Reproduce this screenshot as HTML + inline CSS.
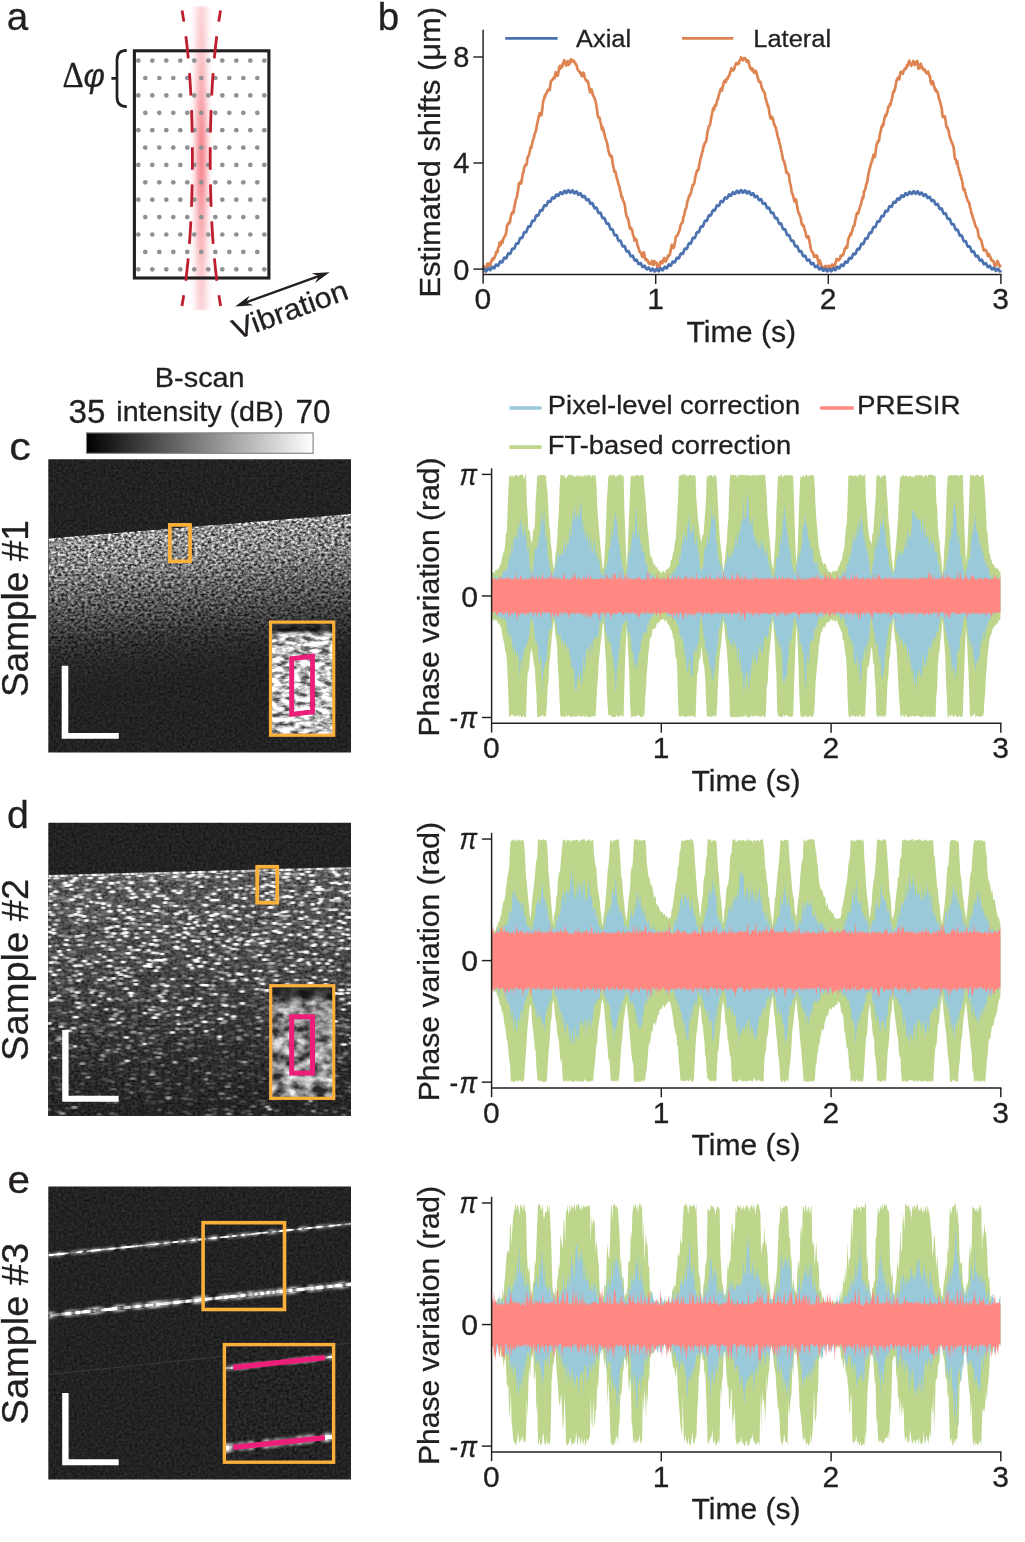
<!DOCTYPE html>
<html><head><meta charset="utf-8"><title>Figure</title>
<style>html,body{margin:0;padding:0;background:#fff}svg{display:block}text{stroke:#231f20;stroke-width:.3px}</style></head>
<body>
<svg width="1025" height="1542" viewBox="0 0 1025 1542" font-family='"Liberation Sans", Arial, Helvetica, sans-serif' fill="#231f20">
<defs>
<linearGradient id="beamH" x1="0" x2="1" y1="0" y2="0">
<stop offset="0" stop-color="#f4808a" stop-opacity="0"/>
<stop offset="0.12" stop-color="#f4808a" stop-opacity="0.1"/>
<stop offset="0.26" stop-color="#f4808a" stop-opacity="0.42"/>
<stop offset="0.38" stop-color="#f4808a" stop-opacity="0.78"/>
<stop offset="0.5" stop-color="#f4808a" stop-opacity="0.95"/>
<stop offset="0.62" stop-color="#f4808a" stop-opacity="0.78"/>
<stop offset="0.74" stop-color="#f4808a" stop-opacity="0.42"/>
<stop offset="0.88" stop-color="#f4808a" stop-opacity="0.1"/>
<stop offset="1" stop-color="#f4808a" stop-opacity="0"/>
</linearGradient>
<linearGradient id="beamV" x1="0" x2="0" y1="0" y2="1">
<stop offset="0" stop-color="#fff" stop-opacity="0"/>
<stop offset="0.008" stop-color="#fff" stop-opacity="0.36"/>
<stop offset="0.15" stop-color="#fff" stop-opacity="0.48"/>
<stop offset="0.3" stop-color="#fff" stop-opacity="0.72"/>
<stop offset="0.42" stop-color="#fff" stop-opacity="0.95"/>
<stop offset="0.5" stop-color="#fff" stop-opacity="1"/>
<stop offset="0.58" stop-color="#fff" stop-opacity="0.95"/>
<stop offset="0.7" stop-color="#fff" stop-opacity="0.72"/>
<stop offset="0.85" stop-color="#fff" stop-opacity="0.48"/>
<stop offset="0.992" stop-color="#fff" stop-opacity="0.36"/>
<stop offset="1" stop-color="#fff" stop-opacity="0"/>
</linearGradient>
<mask id="beamM" maskUnits="userSpaceOnUse" x="185" y="0" width="34" height="320"><rect x="185" y="5.2" width="34" height="306" fill="url(#beamV)"/></mask>
<linearGradient id="cbar" x1="0" x2="1" y1="0" y2="0"><stop offset="0" stop-color="#000"/><stop offset="1" stop-color="#fff"/></linearGradient>
</defs>
<rect width="1025" height="1542" fill="#fff"/>

<text x="6.8" y="30.3" font-size="38.5" text-anchor="start">a</text>
<rect x="189.3" y="5.2" width="24" height="306" fill="url(#beamH)" mask="url(#beamM)"/>
<g fill="#8f9194"><circle cx="138.3" cy="60.6" r="2.35"/><circle cx="152.3" cy="60.6" r="2.35"/><circle cx="166.3" cy="60.6" r="2.35"/><circle cx="180.3" cy="60.6" r="2.35"/><circle cx="194.3" cy="60.6" r="2.35"/><circle cx="208.3" cy="60.6" r="2.35"/><circle cx="222.3" cy="60.6" r="2.35"/><circle cx="236.3" cy="60.6" r="2.35"/><circle cx="250.3" cy="60.6" r="2.35"/><circle cx="264.3" cy="60.6" r="2.35"/><circle cx="145.3" cy="78.0" r="2.35"/><circle cx="159.3" cy="78.0" r="2.35"/><circle cx="173.3" cy="78.0" r="2.35"/><circle cx="187.3" cy="78.0" r="2.35"/><circle cx="201.3" cy="78.0" r="2.35"/><circle cx="215.3" cy="78.0" r="2.35"/><circle cx="229.3" cy="78.0" r="2.35"/><circle cx="243.3" cy="78.0" r="2.35"/><circle cx="257.3" cy="78.0" r="2.35"/><circle cx="138.3" cy="95.4" r="2.35"/><circle cx="152.3" cy="95.4" r="2.35"/><circle cx="166.3" cy="95.4" r="2.35"/><circle cx="180.3" cy="95.4" r="2.35"/><circle cx="194.3" cy="95.4" r="2.35"/><circle cx="208.3" cy="95.4" r="2.35"/><circle cx="222.3" cy="95.4" r="2.35"/><circle cx="236.3" cy="95.4" r="2.35"/><circle cx="250.3" cy="95.4" r="2.35"/><circle cx="264.3" cy="95.4" r="2.35"/><circle cx="145.3" cy="112.8" r="2.35"/><circle cx="159.3" cy="112.8" r="2.35"/><circle cx="173.3" cy="112.8" r="2.35"/><circle cx="187.3" cy="112.8" r="2.35"/><circle cx="201.3" cy="112.8" r="2.35"/><circle cx="215.3" cy="112.8" r="2.35"/><circle cx="229.3" cy="112.8" r="2.35"/><circle cx="243.3" cy="112.8" r="2.35"/><circle cx="257.3" cy="112.8" r="2.35"/><circle cx="138.3" cy="130.2" r="2.35"/><circle cx="152.3" cy="130.2" r="2.35"/><circle cx="166.3" cy="130.2" r="2.35"/><circle cx="180.3" cy="130.2" r="2.35"/><circle cx="194.3" cy="130.2" r="2.35"/><circle cx="208.3" cy="130.2" r="2.35"/><circle cx="222.3" cy="130.2" r="2.35"/><circle cx="236.3" cy="130.2" r="2.35"/><circle cx="250.3" cy="130.2" r="2.35"/><circle cx="264.3" cy="130.2" r="2.35"/><circle cx="145.3" cy="147.6" r="2.35"/><circle cx="159.3" cy="147.6" r="2.35"/><circle cx="173.3" cy="147.6" r="2.35"/><circle cx="187.3" cy="147.6" r="2.35"/><circle cx="201.3" cy="147.6" r="2.35"/><circle cx="215.3" cy="147.6" r="2.35"/><circle cx="229.3" cy="147.6" r="2.35"/><circle cx="243.3" cy="147.6" r="2.35"/><circle cx="257.3" cy="147.6" r="2.35"/><circle cx="138.3" cy="164.9" r="2.35"/><circle cx="152.3" cy="164.9" r="2.35"/><circle cx="166.3" cy="164.9" r="2.35"/><circle cx="180.3" cy="164.9" r="2.35"/><circle cx="194.3" cy="164.9" r="2.35"/><circle cx="208.3" cy="164.9" r="2.35"/><circle cx="222.3" cy="164.9" r="2.35"/><circle cx="236.3" cy="164.9" r="2.35"/><circle cx="250.3" cy="164.9" r="2.35"/><circle cx="264.3" cy="164.9" r="2.35"/><circle cx="145.3" cy="182.3" r="2.35"/><circle cx="159.3" cy="182.3" r="2.35"/><circle cx="173.3" cy="182.3" r="2.35"/><circle cx="187.3" cy="182.3" r="2.35"/><circle cx="201.3" cy="182.3" r="2.35"/><circle cx="215.3" cy="182.3" r="2.35"/><circle cx="229.3" cy="182.3" r="2.35"/><circle cx="243.3" cy="182.3" r="2.35"/><circle cx="257.3" cy="182.3" r="2.35"/><circle cx="138.3" cy="199.7" r="2.35"/><circle cx="152.3" cy="199.7" r="2.35"/><circle cx="166.3" cy="199.7" r="2.35"/><circle cx="180.3" cy="199.7" r="2.35"/><circle cx="194.3" cy="199.7" r="2.35"/><circle cx="208.3" cy="199.7" r="2.35"/><circle cx="222.3" cy="199.7" r="2.35"/><circle cx="236.3" cy="199.7" r="2.35"/><circle cx="250.3" cy="199.7" r="2.35"/><circle cx="264.3" cy="199.7" r="2.35"/><circle cx="145.3" cy="217.1" r="2.35"/><circle cx="159.3" cy="217.1" r="2.35"/><circle cx="173.3" cy="217.1" r="2.35"/><circle cx="187.3" cy="217.1" r="2.35"/><circle cx="201.3" cy="217.1" r="2.35"/><circle cx="215.3" cy="217.1" r="2.35"/><circle cx="229.3" cy="217.1" r="2.35"/><circle cx="243.3" cy="217.1" r="2.35"/><circle cx="257.3" cy="217.1" r="2.35"/><circle cx="138.3" cy="234.5" r="2.35"/><circle cx="152.3" cy="234.5" r="2.35"/><circle cx="166.3" cy="234.5" r="2.35"/><circle cx="180.3" cy="234.5" r="2.35"/><circle cx="194.3" cy="234.5" r="2.35"/><circle cx="208.3" cy="234.5" r="2.35"/><circle cx="222.3" cy="234.5" r="2.35"/><circle cx="236.3" cy="234.5" r="2.35"/><circle cx="250.3" cy="234.5" r="2.35"/><circle cx="264.3" cy="234.5" r="2.35"/><circle cx="145.3" cy="251.9" r="2.35"/><circle cx="159.3" cy="251.9" r="2.35"/><circle cx="173.3" cy="251.9" r="2.35"/><circle cx="187.3" cy="251.9" r="2.35"/><circle cx="201.3" cy="251.9" r="2.35"/><circle cx="215.3" cy="251.9" r="2.35"/><circle cx="229.3" cy="251.9" r="2.35"/><circle cx="243.3" cy="251.9" r="2.35"/><circle cx="257.3" cy="251.9" r="2.35"/><circle cx="138.3" cy="269.3" r="2.35"/><circle cx="152.3" cy="269.3" r="2.35"/><circle cx="166.3" cy="269.3" r="2.35"/><circle cx="180.3" cy="269.3" r="2.35"/><circle cx="194.3" cy="269.3" r="2.35"/><circle cx="208.3" cy="269.3" r="2.35"/><circle cx="222.3" cy="269.3" r="2.35"/><circle cx="236.3" cy="269.3" r="2.35"/><circle cx="250.3" cy="269.3" r="2.35"/><circle cx="264.3" cy="269.3" r="2.35"/></g>
<rect x="134.4" y="50.8" width="134.5" height="227.2" fill="none" stroke="#231f20" stroke-width="3.1"/>
<path d="M182.03,10.40 L182.66,14.10 L183.25,17.79 L183.83,21.48 L184.37,25.18 L184.89,28.88 L185.39,32.57 L185.86,36.27 L186.32,39.96 L186.75,43.66 L187.16,47.35 L187.55,51.05 L187.92,54.74 L188.27,58.44 L188.60,62.13 L188.92,65.83 L189.22,69.52 L189.50,73.22 L189.77,76.91 L190.02,80.61 L190.26,84.30 L190.48,88.00 L190.69,91.69 L190.88,95.39 L191.06,99.08 L191.23,102.78 L191.39,106.47 L191.53,110.17 L191.67,113.86 L191.79,117.56 L191.89,121.25 L191.99,124.95 L192.08,128.64 L192.16,132.34 L192.22,136.03 L192.28,139.72 L192.32,143.42 L192.36,147.12 L192.38,150.81 L192.40,154.51 L192.40,158.20 L192.39,161.90 L192.38,165.59 L192.35,169.29 L192.32,172.98 L192.27,176.68 L192.21,180.37 L192.15,184.07 L192.07,187.76 L191.98,191.46 L191.88,195.15 L191.77,198.84 L191.65,202.54 L191.52,206.24 L191.37,209.93 L191.22,213.63 L191.05,217.32 L190.86,221.02 L190.67,224.71 L190.46,228.41 L190.23,232.10 L189.99,235.80 L189.74,239.49 L189.47,243.19 L189.19,246.88 L188.89,250.58 L188.57,254.27 L188.23,257.96 L187.88,261.66 L187.51,265.36 L187.11,269.05 L186.70,272.75 L186.27,276.44 L185.81,280.13 L185.34,283.83 L184.84,287.52 L184.31,291.22 L183.76,294.91 L183.19,298.61 L182.59,302.31 L181.97,306.00" fill="none" stroke="#be1e2d" stroke-width="2.8" stroke-dasharray="22.4 14.7" stroke-dashoffset="11.0"/>
<path d="M220.57,10.40 L219.94,14.10 L219.35,17.79 L218.77,21.48 L218.23,25.18 L217.71,28.88 L217.21,32.57 L216.74,36.27 L216.28,39.96 L215.85,43.66 L215.44,47.35 L215.05,51.05 L214.68,54.74 L214.33,58.44 L214.00,62.13 L213.68,65.83 L213.38,69.52 L213.10,73.22 L212.83,76.91 L212.58,80.61 L212.34,84.30 L212.12,88.00 L211.91,91.69 L211.72,95.39 L211.54,99.08 L211.37,102.78 L211.21,106.47 L211.07,110.17 L210.93,113.86 L210.81,117.56 L210.71,121.25 L210.61,124.95 L210.52,128.64 L210.44,132.34 L210.38,136.03 L210.32,139.72 L210.28,143.42 L210.24,147.12 L210.22,150.81 L210.20,154.51 L210.20,158.20 L210.21,161.90 L210.22,165.59 L210.25,169.29 L210.28,172.98 L210.33,176.68 L210.39,180.37 L210.45,184.07 L210.53,187.76 L210.62,191.46 L210.72,195.15 L210.83,198.84 L210.95,202.54 L211.08,206.24 L211.23,209.93 L211.38,213.63 L211.55,217.32 L211.74,221.02 L211.93,224.71 L212.14,228.41 L212.37,232.10 L212.61,235.80 L212.86,239.49 L213.13,243.19 L213.41,246.88 L213.71,250.58 L214.03,254.27 L214.37,257.96 L214.72,261.66 L215.09,265.36 L215.49,269.05 L215.90,272.75 L216.33,276.44 L216.79,280.13 L217.26,283.83 L217.76,287.52 L218.29,291.22 L218.84,294.91 L219.41,298.61 L220.01,302.31 L220.63,306.00" fill="none" stroke="#be1e2d" stroke-width="2.8" stroke-dasharray="22.4 14.7" stroke-dashoffset="11.0"/>
<path d="M126.8,50.4 Q117,50.4 117,60 L117,97 Q117,106.7 126.8,106.7 M117,78.3 L111.4,78.3" fill="none" stroke="#231f20" stroke-width="2.7"/>
<text transform="translate(62.6 87.0) scale(0.93 1)" font-size="35.5" font-family='"Liberation Serif", serif'>&#916;</text>
<text x="83.6" y="87.0" font-size="32.8" font-style="italic" stroke="#231f20" stroke-width="0.5">&#966;</text>
<line x1="242.62" y1="303.68" x2="322.18" y2="274.92" stroke="#231f20" stroke-width="2.3"/>
<polygon points="329.70,272.20 315.01,283.04 318.89,276.11 311.47,273.26"/>
<polygon points="235.10,306.40 249.79,295.56 245.91,302.49 253.33,305.34"/>
<text transform="translate(236.5 339.8) rotate(-20) scale(1.06 1)" font-size="29" text-anchor="start">Vibration</text>
<text x="377.7" y="30.3" font-size="38.5" text-anchor="start">b</text>
<path d="M483.1,266.2 483.6,267.0 484.1,266.3 484.6,269.6 485.1,269.8 485.6,271.9 486.1,268.8 486.6,266.9 487.1,263.8 487.6,263.8 488.1,263.5 488.6,264.4 489.1,265.7 489.6,265.1 490.1,265.5 490.6,264.1 491.1,261.4 491.6,260.4 492.1,260.6 492.6,258.3 493.1,258.8 493.6,259.4 494.1,258.2 494.6,257.2 495.0,255.9 495.5,255.1 496.0,252.2 496.5,252.6 497.0,252.7 497.5,251.6 498.0,248.3 498.5,247.4 499.0,246.7 499.5,242.7 500.0,244.6 500.5,245.2 501.0,244.4 501.5,241.3 502.0,241.6 502.5,242.7 503.0,239.5 503.5,238.4 504.0,237.8 504.5,236.7 505.0,236.0 505.5,234.7 506.0,233.6 506.5,229.8 507.0,225.9 507.5,224.5 508.0,224.4 508.5,223.2 509.0,222.5 509.5,223.1 510.0,221.9 510.5,218.2 511.0,216.0 511.5,214.5 512.0,212.9 512.5,212.3 513.0,211.7 513.5,212.9 514.0,208.5 514.5,205.8 515.0,204.3 515.5,200.8 516.0,199.0 516.5,198.3 517.0,196.5 517.5,193.0 518.0,191.2 518.4,187.5 518.9,183.3 519.4,183.4 519.9,183.1 520.4,181.8 520.9,183.5 521.4,182.7 521.9,179.2 522.4,175.7 522.9,172.6 523.4,172.9 523.9,168.4 524.4,167.2 524.9,166.0 525.4,164.9 525.9,165.5 526.4,164.7 526.9,163.0 527.4,157.7 527.9,157.0 528.4,156.0 528.9,155.3 529.4,153.2 529.9,150.8 530.4,148.0 530.9,146.7 531.4,147.7 531.9,144.8 532.4,142.7 532.9,140.0 533.4,139.0 533.9,137.8 534.4,134.6 534.9,133.6 535.4,131.9 535.9,130.7 536.4,128.6 536.9,125.0 537.4,123.2 537.9,120.5 538.4,118.3 538.9,115.8 539.4,114.3 539.9,113.1 540.4,115.1 540.9,115.4 541.4,115.4 541.9,112.2 542.3,108.7 542.8,104.6 543.3,100.6 543.8,99.8 544.3,97.9 544.8,95.7 545.3,95.9 545.8,94.0 546.3,93.0 546.8,93.1 547.3,90.9 547.8,90.5 548.3,89.5 548.8,89.7 549.3,88.7 549.8,90.2 550.3,85.4 550.8,81.8 551.3,80.5 551.8,80.4 552.3,79.8 552.8,78.9 553.3,78.4 553.8,77.3 554.3,78.4 554.8,77.5 555.3,73.7 555.8,72.2 556.3,73.6 556.8,74.4 557.3,75.7 557.8,75.7 558.3,72.3 558.8,70.5 559.3,67.2 559.8,66.0 560.3,67.6 560.8,68.4 561.3,65.6 561.8,66.6 562.3,66.9 562.8,63.8 563.3,62.4 563.8,61.7 564.3,60.1 564.8,63.2 565.3,63.2 565.7,64.6 566.2,65.5 566.7,64.8 567.2,61.7 567.7,61.1 568.2,63.4 568.7,64.9 569.2,63.3 569.7,62.3 570.2,63.3 570.7,59.4 571.2,59.4 571.7,60.8 572.2,61.3 572.7,61.2 573.2,60.6 573.7,60.6 574.2,61.8 574.7,62.3 575.2,63.7 575.7,63.5 576.2,64.7 576.7,65.5 577.2,68.3 577.7,69.5 578.2,70.4 578.7,71.0 579.2,71.3 579.7,71.8 580.2,73.2 580.7,73.0 581.2,73.9 581.7,76.3 582.2,75.6 582.7,74.8 583.2,72.6 583.7,73.3 584.2,74.7 584.7,77.3 585.2,78.9 585.7,79.8 586.2,80.5 586.7,81.2 587.2,80.6 587.7,81.1 588.2,82.2 588.7,85.5 589.1,87.3 589.6,90.4 590.1,92.3 590.6,92.2 591.1,89.7 591.6,89.5 592.1,91.3 592.6,94.0 593.1,95.5 593.6,96.4 594.1,97.0 594.6,98.8 595.1,99.7 595.6,101.4 596.1,103.7 596.6,107.2 597.1,110.0 597.6,114.8 598.1,117.2 598.6,116.9 599.1,118.1 599.6,117.7 600.1,120.6 600.6,122.8 601.1,124.4 601.6,127.7 602.1,129.8 602.6,127.3 603.1,129.0 603.6,130.7 604.1,132.9 604.6,134.9 605.1,137.5 605.6,138.7 606.1,139.7 606.6,141.6 607.1,143.0 607.6,145.7 608.1,148.8 608.6,151.5 609.1,152.8 609.6,155.0 610.1,155.7 610.6,155.8 611.1,157.1 611.6,155.7 612.1,158.6 612.5,162.2 613.0,165.7 613.5,167.0 614.0,169.5 614.5,171.9 615.0,172.2 615.5,171.9 616.0,174.0 616.5,176.9 617.0,178.6 617.5,180.5 618.0,181.9 618.5,184.8 619.0,185.6 619.5,186.4 620.0,190.5 620.5,191.2 621.0,194.0 621.5,197.2 622.0,196.6 622.5,198.2 623.0,200.4 623.5,201.5 624.0,202.4 624.5,203.8 625.0,206.9 625.5,210.8 626.0,213.7 626.5,215.7 627.0,217.3 627.5,217.5 628.0,219.0 628.5,220.4 629.0,223.5 629.5,226.6 630.0,228.1 630.5,229.1 631.0,227.8 631.5,229.2 632.0,229.7 632.5,231.3 633.0,235.0 633.5,236.0 634.0,237.4 634.5,240.7 635.0,239.8 635.5,238.7 636.0,240.4 636.4,239.7 636.9,241.8 637.4,245.5 637.9,246.3 638.4,247.6 638.9,249.4 639.4,251.6 639.9,251.1 640.4,252.6 640.9,253.1 641.4,254.2 641.9,256.0 642.4,257.0 642.9,254.5 643.4,252.5 643.9,252.4 644.4,254.4 644.9,257.5 645.4,259.7 645.9,258.9 646.4,259.2 646.9,259.7 647.4,261.0 647.9,260.7 648.4,262.4 648.9,263.4 649.4,263.8 649.9,263.5 650.4,263.9 650.9,264.1 651.4,263.2 651.9,260.9 652.4,261.4 652.9,264.6 653.4,264.0 653.9,264.9 654.4,261.2 654.9,262.2 655.4,262.2 655.9,262.5 656.4,262.5 656.9,264.3 657.4,267.2 657.9,269.9 658.4,269.2 658.9,268.3 659.4,267.3 659.8,263.2 660.3,262.1 660.8,261.4 661.3,263.1 661.8,263.3 662.3,263.4 662.8,262.6 663.3,260.3 663.8,258.6 664.3,258.0 664.8,258.3 665.3,260.7 665.8,261.5 666.3,260.2 666.8,259.1 667.3,258.1 667.8,255.8 668.3,255.9 668.8,256.1 669.3,254.8 669.8,254.9 670.3,252.2 670.8,250.2 671.3,247.5 671.8,244.8 672.3,246.8 672.8,246.4 673.3,247.8 673.8,247.7 674.3,246.4 674.8,242.8 675.3,240.7 675.8,236.7 676.3,236.3 676.8,235.9 677.3,235.6 677.8,234.2 678.3,233.4 678.8,232.4 679.3,230.5 679.8,229.9 680.3,226.4 680.8,224.6 681.3,223.8 681.8,223.1 682.3,222.8 682.8,221.3 683.2,217.8 683.7,216.4 684.2,215.4 684.7,212.2 685.2,209.9 685.7,209.4 686.2,207.8 686.7,206.0 687.2,202.1 687.7,200.8 688.2,199.1 688.7,197.6 689.2,195.6 689.7,195.7 690.2,194.5 690.7,193.3 691.2,191.6 691.7,189.7 692.2,187.4 692.7,184.8 693.2,184.9 693.7,184.7 694.2,183.6 694.7,180.7 695.2,177.0 695.7,175.8 696.2,172.9 696.7,172.5 697.2,170.4 697.7,170.5 698.2,170.1 698.7,168.2 699.2,165.0 699.7,162.9 700.2,159.8 700.7,157.6 701.2,156.3 701.7,154.8 702.2,152.3 702.7,151.1 703.2,148.3 703.7,145.5 704.2,145.6 704.7,143.0 705.2,142.7 705.7,142.3 706.2,141.0 706.7,138.3 707.1,134.9 707.6,131.3 708.1,129.8 708.6,127.2 709.1,125.9 709.6,125.7 710.1,124.5 710.6,121.6 711.1,118.8 711.6,115.6 712.1,113.6 712.6,111.1 713.1,108.2 713.6,108.0 714.1,109.7 714.6,106.3 715.1,105.3 715.6,104.8 716.1,105.4 716.6,103.0 717.1,100.7 717.6,99.0 718.1,98.9 718.6,95.8 719.1,94.1 719.6,92.7 720.1,90.8 720.6,89.4 721.1,89.0 721.6,88.3 722.1,90.5 722.6,87.0 723.1,85.8 723.6,82.8 724.1,82.1 724.6,80.7 725.1,80.5 725.6,82.2 726.1,81.0 726.6,79.0 727.1,78.5 727.6,78.7 728.1,77.1 728.6,76.5 729.1,75.4 729.6,75.0 730.1,72.6 730.5,71.1 731.0,70.1 731.5,68.2 732.0,70.3 732.5,70.0 733.0,70.4 733.5,70.2 734.0,69.4 734.5,68.3 735.0,65.8 735.5,65.1 736.0,63.4 736.5,63.0 737.0,63.1 737.5,63.4 738.0,64.2 738.5,63.8 739.0,63.1 739.5,60.7 740.0,60.1 740.5,59.6 741.0,57.3 741.5,58.3 742.0,59.3 742.5,58.9 743.0,60.4 743.5,59.1 744.0,58.0 744.5,58.0 745.0,58.2 745.5,59.2 746.0,59.6 746.5,61.7 747.0,61.6 747.5,62.1 748.0,60.5 748.5,61.0 749.0,63.9 749.5,65.3 750.0,67.9 750.5,67.5 751.0,68.0 751.5,70.2 752.0,69.9 752.5,68.6 753.0,69.2 753.5,71.6 753.9,72.3 754.4,72.7 754.9,71.5 755.4,70.8 755.9,71.0 756.4,73.0 756.9,74.3 757.4,76.1 757.9,78.3 758.4,79.4 758.9,81.7 759.4,81.2 759.9,81.4 760.4,81.8 760.9,83.6 761.4,86.2 761.9,88.0 762.4,88.8 762.9,90.4 763.4,90.5 763.9,91.9 764.4,92.3 764.9,94.0 765.4,97.8 765.9,98.6 766.4,101.5 766.9,102.4 767.4,104.4 767.9,106.6 768.4,106.1 768.9,109.1 769.4,113.3 769.9,115.1 770.4,118.1 770.9,118.6 771.4,116.4 771.9,117.2 772.4,117.6 772.9,118.7 773.4,120.9 773.9,123.8 774.4,124.3 774.9,126.2 775.4,127.0 775.9,127.9 776.4,130.8 776.9,132.3 777.3,134.9 777.8,136.9 778.3,138.7 778.8,138.8 779.3,142.5 779.8,144.0 780.3,145.7 780.8,148.5 781.3,150.3 781.8,153.0 782.3,155.2 782.8,158.7 783.3,160.4 783.8,160.7 784.3,162.0 784.8,164.1 785.3,166.3 785.8,169.0 786.3,172.4 786.8,171.6 787.3,173.4 787.8,173.3 788.3,173.7 788.8,174.6 789.3,178.1 789.8,182.2 790.3,184.1 790.8,185.6 791.3,189.5 791.8,192.8 792.3,193.5 792.8,194.8 793.3,196.7 793.8,198.3 794.3,201.4 794.8,199.5 795.3,199.7 795.8,199.2 796.3,200.4 796.8,204.9 797.3,206.9 797.8,210.2 798.3,212.0 798.8,213.8 799.3,214.0 799.8,215.7 800.3,216.8 800.8,218.1 801.2,221.0 801.7,223.8 802.2,225.1 802.7,224.4 803.2,225.8 803.7,225.6 804.2,227.9 804.7,229.7 805.2,231.2 805.7,232.9 806.2,236.4 806.7,237.1 807.2,237.7 807.7,236.5 808.2,236.2 808.7,237.1 809.2,239.9 809.7,242.0 810.2,245.4 810.7,247.7 811.2,250.2 811.7,251.3 812.2,252.2 812.7,252.2 813.2,252.9 813.7,255.8 814.2,256.9 814.7,257.0 815.2,255.9 815.7,255.8 816.2,255.3 816.7,256.2 817.2,256.2 817.7,259.8 818.2,260.9 818.7,264.3 819.2,261.9 819.7,260.3 820.2,262.5 820.7,262.9 821.2,265.0 821.7,267.8 822.2,268.6 822.7,269.5 823.2,267.4 823.7,267.0 824.2,267.1 824.6,266.4 825.1,266.0 825.6,265.9 826.1,266.3 826.6,268.6 827.1,269.0 827.6,267.9 828.1,267.6 828.6,265.8 829.1,266.2 829.6,266.9 830.1,268.0 830.6,268.0 831.1,269.0 831.6,265.0 832.1,264.5 832.6,264.5 833.1,266.3 833.6,266.4 834.1,268.1 834.6,267.1 835.1,264.5 835.6,262.4 836.1,261.5 836.6,258.9 837.1,259.0 837.6,259.5 838.1,259.9 838.6,260.4 839.1,259.0 839.6,258.9 840.1,259.0 840.6,255.7 841.1,255.8 841.6,255.8 842.1,255.2 842.6,255.3 843.1,255.2 843.6,253.2 844.1,251.9 844.6,249.1 845.1,248.4 845.6,248.1 846.1,246.7 846.6,247.9 847.1,247.9 847.6,244.4 848.0,240.4 848.5,238.4 849.0,238.1 849.5,236.0 850.0,235.3 850.5,233.7 851.0,234.8 851.5,232.8 852.0,231.5 852.5,230.3 853.0,227.8 853.5,226.0 854.0,226.0 854.5,225.4 855.0,222.1 855.5,219.3 856.0,217.1 856.5,214.5 857.0,213.1 857.5,213.9 858.0,213.8 858.5,212.4 859.0,209.9 859.5,209.0 860.0,207.1 860.5,205.0 861.0,204.5 861.5,201.5 862.0,200.0 862.5,197.4 863.0,198.4 863.5,196.6 864.0,191.3 864.5,190.4 865.0,190.3 865.5,188.3 866.0,185.2 866.5,183.5 867.0,183.0 867.5,179.8 868.0,176.6 868.5,173.8 869.0,171.5 869.5,169.6 870.0,167.7 870.5,165.7 871.0,163.6 871.5,162.2 871.9,162.1 872.4,158.9 872.9,158.8 873.4,154.8 873.9,155.6 874.4,156.8 874.9,156.9 875.4,153.4 875.9,149.7 876.4,146.0 876.9,143.5 877.4,143.1 877.9,141.1 878.4,141.0 878.9,141.1 879.4,137.4 879.9,133.9 880.4,132.3 880.9,130.4 881.4,127.7 881.9,125.9 882.4,126.6 882.9,123.9 883.4,125.0 883.9,121.9 884.4,118.6 884.9,116.6 885.4,115.1 885.9,116.2 886.4,115.2 886.9,113.1 887.4,112.0 887.9,109.0 888.4,106.5 888.9,107.0 889.4,105.9 889.9,104.0 890.4,104.8 890.9,103.1 891.4,100.4 891.9,99.2 892.4,96.6 892.9,93.3 893.4,91.3 893.9,92.1 894.4,90.4 894.9,89.2 895.3,87.7 895.8,84.0 896.3,81.5 896.8,80.0 897.3,78.6 897.8,78.3 898.3,77.4 898.8,77.8 899.3,79.3 899.8,75.7 900.3,73.3 900.8,71.8 901.3,71.7 901.8,72.3 902.3,72.7 902.8,73.8 903.3,72.0 903.8,70.5 904.3,70.1 904.8,68.5 905.3,68.4 905.8,68.6 906.3,68.4 906.8,65.4 907.3,66.6 907.8,65.1 908.3,63.2 908.8,62.2 909.3,60.7 909.8,62.3 910.3,63.9 910.8,64.5 911.3,65.9 911.8,63.5 912.3,63.9 912.8,62.4 913.3,61.0 913.8,62.9 914.3,64.1 914.8,65.0 915.3,62.9 915.8,62.2 916.3,63.7 916.8,61.8 917.3,60.9 917.8,64.5 918.3,68.7 918.7,65.9 919.2,66.0 919.7,68.1 920.2,65.7 920.7,63.6 921.2,67.0 921.7,66.3 922.2,67.0 922.7,68.4 923.2,69.9 923.7,69.3 924.2,69.9 924.7,69.4 925.2,70.3 925.7,72.0 926.2,72.9 926.7,73.3 927.2,73.3 927.7,73.3 928.2,71.6 928.7,73.9 929.2,74.9 929.7,76.5 930.2,77.3 930.7,82.2 931.2,83.7 931.7,84.3 932.2,83.9 932.7,81.4 933.2,82.5 933.7,84.8 934.2,86.8 934.7,88.0 935.2,90.1 935.7,89.1 936.2,91.5 936.7,90.8 937.2,91.6 937.7,92.9 938.2,94.2 938.7,97.6 939.2,99.4 939.7,100.6 940.2,102.4 940.7,104.2 941.2,106.4 941.7,107.4 942.1,112.6 942.6,116.1 943.1,117.2 943.6,116.2 944.1,116.9 944.6,116.1 945.1,117.7 945.6,120.6 946.1,125.0 946.6,127.0 947.1,126.8 947.6,128.1 948.1,130.3 948.6,130.3 949.1,133.4 949.6,136.6 950.1,137.6 950.6,139.6 951.1,140.6 951.6,142.0 952.1,143.2 952.6,144.0 953.1,146.0 953.6,147.0 954.1,151.6 954.6,156.4 955.1,159.1 955.6,159.0 956.1,160.2 956.6,163.5 957.1,160.8 957.6,164.1 958.1,166.8 958.6,168.7 959.1,170.6 959.6,172.3 960.1,175.1 960.6,175.0 961.1,177.3 961.6,179.3 962.1,180.8 962.6,183.9 963.1,188.1 963.6,189.8 964.1,189.5 964.6,189.1 965.1,191.8 965.6,193.4 966.0,195.4 966.5,196.7 967.0,198.6 967.5,200.1 968.0,201.5 968.5,201.8 969.0,202.2 969.5,204.6 970.0,207.6 970.5,208.4 971.0,211.1 971.5,213.8 972.0,213.9 972.5,216.2 973.0,218.4 973.5,218.7 974.0,221.0 974.5,222.6 975.0,223.9 975.5,226.4 976.0,226.6 976.5,227.6 977.0,228.2 977.5,229.5 978.0,231.9 978.5,235.8 979.0,237.2 979.5,238.3 980.0,238.1 980.5,239.6 981.0,239.8 981.5,241.2 982.0,243.4 982.5,245.7 983.0,247.6 983.5,250.0 984.0,250.4 984.5,250.5 985.0,249.7 985.5,250.6 986.0,250.3 986.5,251.7 987.0,253.2 987.5,254.1 988.0,256.1 988.5,255.3 989.0,253.9 989.4,256.1 989.9,256.0 990.4,257.2 990.9,258.7 991.4,260.3 991.9,260.4 992.4,261.0 992.9,260.7 993.4,261.1 993.9,262.1 994.4,264.9 994.9,264.8 995.4,266.0 995.9,265.1 996.4,263.7 996.9,263.5 997.4,260.9 997.9,262.1 998.4,263.3 998.9,265.1 999.4,265.3 999.9,266.6 1000.4,264.9 1000.9,264.7" fill="none" stroke="#dd8452" stroke-width="2.7" stroke-linejoin="round"/>
<path d="M483.1,270.2 483.6,269.2 484.1,268.8 484.6,269.1 485.1,270.0 485.6,270.9 486.1,271.3 486.6,270.8 487.1,269.8 487.6,268.8 488.1,268.2 488.6,268.4 489.1,269.1 489.6,269.9 490.1,270.2 490.6,269.7 491.1,268.6 491.6,267.5 492.1,266.8 492.6,266.8 493.1,267.4 493.6,268.2 494.1,268.4 494.6,267.8 495.0,266.7 495.5,265.4 496.0,264.6 496.5,264.5 497.0,265.0 497.5,265.6 498.0,265.8 498.5,265.2 499.0,264.0 499.5,262.6 500.0,261.6 500.5,261.4 501.0,261.8 501.5,262.3 502.0,262.5 502.5,261.9 503.0,260.6 503.5,259.1 504.0,258.0 504.5,257.6 505.0,257.9 505.5,258.4 506.0,258.5 506.5,257.9 507.0,256.6 507.5,255.0 508.0,253.8 508.5,253.3 509.0,253.5 509.5,253.9 510.0,254.0 510.5,253.4 511.0,252.0 511.5,250.4 512.0,249.1 512.5,248.5 513.0,248.6 513.5,249.0 514.0,249.0 514.5,248.4 515.0,247.0 515.5,245.3 516.0,244.0 516.5,243.3 517.0,243.3 517.5,243.7 518.0,243.7 518.4,243.1 518.9,241.7 519.4,240.0 519.9,238.6 520.4,237.8 520.9,237.8 521.4,238.1 521.9,238.1 522.4,237.5 522.9,236.2 523.4,234.4 523.9,232.9 524.4,232.1 524.9,232.0 525.4,232.3 525.9,232.4 526.4,231.8 526.9,230.5 527.4,228.8 527.9,227.3 528.4,226.4 528.9,226.3 529.4,226.6 529.9,226.7 530.4,226.2 530.9,224.9 531.4,223.2 531.9,221.7 532.4,220.8 532.9,220.6 533.4,220.9 533.9,221.1 534.4,220.6 534.9,219.4 535.4,217.7 535.9,216.2 536.4,215.3 536.9,215.1 537.4,215.5 537.9,215.7 538.4,215.3 538.9,214.2 539.4,212.6 539.9,211.0 540.4,210.1 540.9,210.0 541.4,210.3 541.9,210.6 542.3,210.3 542.8,209.3 543.3,207.8 543.8,206.3 544.3,205.4 544.8,205.2 545.3,205.6 545.8,206.0 546.3,205.8 546.8,204.9 547.3,203.5 547.8,202.0 548.3,201.1 548.8,201.0 549.3,201.5 549.8,201.9 550.3,201.9 550.8,201.1 551.3,199.7 551.8,198.3 552.3,197.5 552.8,197.4 553.3,197.9 553.8,198.5 554.3,198.5 554.8,197.9 555.3,196.6 555.8,195.3 556.3,194.5 556.8,194.5 557.3,195.0 557.8,195.7 558.3,195.9 558.8,195.4 559.3,194.2 559.8,193.0 560.3,192.3 560.8,192.3 561.3,192.9 561.8,193.7 562.3,194.0 562.8,193.7 563.3,192.6 563.8,191.5 564.3,190.8 564.8,190.9 565.3,191.6 565.7,192.5 566.2,193.0 566.7,192.7 567.2,191.8 567.7,190.8 568.2,190.2 568.7,190.3 569.2,191.1 569.7,192.1 570.2,192.7 570.7,192.6 571.2,191.9 571.7,190.9 572.2,190.4 572.7,190.5 573.2,191.4 573.7,192.5 574.2,193.3 574.7,193.3 575.2,192.7 575.7,191.9 576.2,191.4 576.7,191.6 577.2,192.5 577.7,193.7 578.2,194.7 578.7,194.9 579.2,194.4 579.7,193.6 580.2,193.2 580.7,193.5 581.2,194.5 581.7,195.8 582.2,196.8 582.7,197.2 583.2,196.8 583.7,196.2 584.2,195.8 584.7,196.1 585.2,197.1 585.7,198.5 586.2,199.7 586.7,200.2 587.2,200.0 587.7,199.4 588.2,199.1 588.7,199.4 589.1,200.5 589.6,202.0 590.1,203.3 590.6,203.9 591.1,203.8 591.6,203.3 592.1,203.0 592.6,203.4 593.1,204.5 593.6,206.1 594.1,207.4 594.6,208.2 595.1,208.2 595.6,207.8 596.1,207.5 596.6,207.9 597.1,209.1 597.6,210.7 598.1,212.1 598.6,213.0 599.1,213.1 599.6,212.7 600.1,212.5 600.6,212.9 601.1,214.0 601.6,215.7 602.1,217.2 602.6,218.1 603.1,218.3 603.6,218.0 604.1,217.8 604.6,218.2 605.1,219.4 605.6,221.0 606.1,222.6 606.6,223.6 607.1,223.9 607.6,223.6 608.1,223.4 608.6,223.8 609.1,224.9 609.6,226.6 610.1,228.2 610.6,229.3 611.1,229.6 611.6,229.3 612.1,229.1 612.5,229.5 613.0,230.6 613.5,232.2 614.0,233.8 614.5,235.0 615.0,235.3 615.5,235.1 616.0,234.9 616.5,235.2 617.0,236.2 617.5,237.8 618.0,239.5 618.5,240.6 619.0,241.0 619.5,240.8 620.0,240.5 620.5,240.7 621.0,241.7 621.5,243.3 622.0,244.9 622.5,246.1 623.0,246.5 623.5,246.3 624.0,245.9 624.5,246.1 625.0,247.0 625.5,248.5 626.0,250.1 626.5,251.2 627.0,251.6 627.5,251.4 628.0,251.0 628.5,251.1 629.0,251.9 629.5,253.3 630.0,254.8 630.5,256.0 631.0,256.4 631.5,256.1 632.0,255.7 632.5,255.6 633.0,256.3 633.5,257.6 634.0,259.1 634.5,260.2 635.0,260.6 635.5,260.3 636.0,259.8 636.4,259.6 636.9,260.2 637.4,261.4 637.9,262.8 638.4,263.9 638.9,264.2 639.4,263.9 639.9,263.3 640.4,263.0 640.9,263.4 641.4,264.5 641.9,265.9 642.4,266.9 642.9,267.2 643.4,266.8 643.9,266.1 644.4,265.7 644.9,265.9 645.4,266.9 645.9,268.2 646.4,269.1 646.9,269.4 647.4,268.9 647.9,268.1 648.4,267.6 648.9,267.7 649.4,268.6 649.9,269.7 650.4,270.6 650.9,270.8 651.4,270.3 651.9,269.4 652.4,268.7 652.9,268.7 653.4,269.4 653.9,270.4 654.4,271.3 654.9,271.4 655.4,270.8 655.9,269.8 656.4,269.0 656.9,268.8 657.4,269.4 657.9,270.3 658.4,271.1 658.9,271.2 659.4,270.5 659.8,269.4 660.3,268.5 660.8,268.2 661.3,268.6 661.8,269.4 662.3,270.1 662.8,270.1 663.3,269.4 663.8,268.2 664.3,267.2 664.8,266.7 665.3,267.0 665.8,267.7 666.3,268.3 666.8,268.3 667.3,267.5 667.8,266.2 668.3,265.0 668.8,264.4 669.3,264.6 669.8,265.2 670.3,265.7 670.8,265.7 671.3,264.8 671.8,263.5 672.3,262.2 672.8,261.5 673.3,261.5 673.8,262.0 674.3,262.5 674.8,262.4 675.3,261.5 675.8,260.1 676.3,258.7 676.8,257.8 677.3,257.7 677.8,258.1 678.3,258.5 678.8,258.4 679.3,257.5 679.8,256.0 680.3,254.5 680.8,253.6 681.3,253.3 681.8,253.7 682.3,254.0 682.8,253.9 683.2,253.0 683.7,251.5 684.2,249.9 684.7,248.8 685.2,248.5 685.7,248.7 686.2,249.1 686.7,248.9 687.2,248.0 687.7,246.5 688.2,244.8 688.7,243.7 689.2,243.2 689.7,243.4 690.2,243.7 690.7,243.6 691.2,242.7 691.7,241.1 692.2,239.5 692.7,238.2 693.2,237.7 693.7,237.9 694.2,238.1 694.7,238.0 695.2,237.1 695.7,235.6 696.2,233.9 696.7,232.6 697.2,232.0 697.7,232.1 698.2,232.4 698.7,232.3 699.2,231.5 699.7,230.0 700.2,228.2 700.7,226.9 701.2,226.3 701.7,226.4 702.2,226.7 702.7,226.6 703.2,225.8 703.7,224.3 704.2,222.6 704.7,221.3 705.2,220.6 705.7,220.7 706.2,221.0 706.7,221.0 707.1,220.3 707.6,218.9 708.1,217.2 708.6,215.8 709.1,215.2 709.6,215.2 710.1,215.6 710.6,215.6 711.1,215.0 711.6,213.7 712.1,212.0 712.6,210.7 713.1,210.0 713.6,210.1 714.1,210.5 714.6,210.6 715.1,210.1 715.6,208.8 716.1,207.2 716.6,205.9 717.1,205.2 717.6,205.3 718.1,205.8 718.6,206.0 719.1,205.6 719.6,204.5 720.1,202.9 720.6,201.6 721.1,201.0 721.6,201.1 722.1,201.6 722.6,202.0 723.1,201.7 723.6,200.7 724.1,199.2 724.6,198.0 725.1,197.4 725.6,197.5 726.1,198.1 726.6,198.6 727.1,198.4 727.6,197.5 728.1,196.2 728.6,195.0 729.1,194.4 729.6,194.6 730.1,195.3 730.5,195.8 731.0,195.8 731.5,195.0 732.0,193.8 732.5,192.7 733.0,192.2 733.5,192.4 734.0,193.2 734.5,193.9 735.0,194.0 735.5,193.4 736.0,192.2 736.5,191.2 737.0,190.7 737.5,191.1 738.0,191.9 738.5,192.7 739.0,193.0 739.5,192.5 740.0,191.5 740.5,190.5 741.0,190.1 741.5,190.5 742.0,191.4 742.5,192.4 743.0,192.8 743.5,192.4 744.0,191.6 744.5,190.7 745.0,190.3 745.5,190.8 746.0,191.8 746.5,192.8 747.0,193.4 747.5,193.2 748.0,192.4 748.5,191.6 749.0,191.4 749.5,191.8 750.0,192.9 750.5,194.1 751.0,194.8 751.5,194.8 752.0,194.1 752.5,193.4 753.0,193.2 753.5,193.7 753.9,194.9 754.4,196.2 754.9,197.0 755.4,197.1 755.9,196.6 756.4,196.0 756.9,195.8 757.4,196.4 757.9,197.6 758.4,199.0 758.9,200.0 759.4,200.2 759.9,199.8 760.4,199.2 760.9,199.1 761.4,199.7 761.9,201.0 762.4,202.5 762.9,203.6 763.4,203.9 763.9,203.6 764.4,203.2 764.9,203.1 765.4,203.7 765.9,205.0 766.4,206.6 766.9,207.8 767.4,208.3 767.9,208.1 768.4,207.6 768.9,207.6 769.4,208.2 769.9,209.6 770.4,211.2 770.9,212.5 771.4,213.1 771.9,213.0 772.4,212.6 772.9,212.5 773.4,213.2 773.9,214.6 774.4,216.2 774.9,217.6 775.4,218.3 775.9,218.3 776.4,217.9 776.9,217.9 777.3,218.5 777.8,219.9 778.3,221.6 778.8,223.0 779.3,223.8 779.8,223.8 780.3,223.5 780.8,223.4 781.3,224.1 781.8,225.4 782.3,227.1 782.8,228.6 783.3,229.4 783.8,229.5 784.3,229.2 784.8,229.2 785.3,229.7 785.8,231.1 786.3,232.8 786.8,234.3 787.3,235.2 787.8,235.3 788.3,235.0 788.8,234.9 789.3,235.4 789.8,236.7 790.3,238.4 790.8,239.9 791.3,240.8 791.8,241.0 792.3,240.7 792.8,240.5 793.3,241.0 793.8,242.2 794.3,243.8 794.8,245.4 795.3,246.3 795.8,246.4 796.3,246.1 796.8,245.9 797.3,246.3 797.8,247.4 798.3,249.0 798.8,250.5 799.3,251.5 799.8,251.6 800.3,251.3 800.8,251.0 801.2,251.2 801.7,252.3 802.2,253.8 802.7,255.3 803.2,256.2 803.7,256.3 804.2,256.0 804.7,255.6 805.2,255.7 805.7,256.7 806.2,258.1 806.7,259.6 807.2,260.5 807.7,260.6 808.2,260.1 808.7,259.7 809.2,259.7 809.7,260.5 810.2,261.9 810.7,263.3 811.2,264.1 811.7,264.2 812.2,263.7 812.7,263.1 813.2,263.0 813.7,263.7 814.2,265.0 814.7,266.3 815.2,267.1 815.7,267.1 816.2,266.5 816.7,265.9 817.2,265.7 817.7,266.2 818.2,267.3 818.7,268.6 819.2,269.3 819.7,269.3 820.2,268.7 820.7,267.9 821.2,267.5 821.7,267.9 822.2,268.9 822.7,270.1 823.2,270.8 823.7,270.7 824.2,270.0 824.6,269.1 825.1,268.6 825.6,268.9 826.1,269.7 826.6,270.8 827.1,271.4 827.6,271.3 828.1,270.5 828.6,269.5 829.1,268.9 829.6,269.0 830.1,269.7 830.6,270.7 831.1,271.2 831.6,271.1 832.1,270.2 832.6,269.1 833.1,268.3 833.6,268.2 834.1,268.9 834.6,269.7 835.1,270.2 835.6,270.0 836.1,269.1 836.6,267.9 837.1,266.9 837.6,266.7 838.1,267.2 838.6,268.0 839.1,268.4 839.6,268.2 840.1,267.2 840.6,265.9 841.1,264.8 841.6,264.5 842.1,264.8 842.6,265.5 843.1,265.9 843.6,265.6 844.1,264.5 844.6,263.1 845.1,262.0 845.6,261.5 846.1,261.7 846.6,262.3 847.1,262.6 847.6,262.3 848.0,261.2 848.5,259.7 849.0,258.4 849.5,257.8 850.0,258.0 850.5,258.4 851.0,258.7 851.5,258.4 852.0,257.2 852.5,255.7 853.0,254.3 853.5,253.6 854.0,253.6 854.5,254.0 855.0,254.3 855.5,253.9 856.0,252.8 856.5,251.2 857.0,249.7 857.5,248.9 858.0,248.8 858.5,249.2 859.0,249.4 859.5,249.0 860.0,247.8 860.5,246.2 861.0,244.7 861.5,243.8 862.0,243.6 862.5,243.9 863.0,244.1 863.5,243.7 864.0,242.6 864.5,241.0 865.0,239.4 865.5,238.4 866.0,238.1 866.5,238.4 867.0,238.6 867.5,238.3 868.0,237.1 868.5,235.5 869.0,233.9 869.5,232.8 870.0,232.5 870.5,232.7 871.0,233.0 871.5,232.6 871.9,231.6 872.4,229.9 872.9,228.3 873.4,227.2 873.9,226.8 874.4,227.1 874.9,227.3 875.4,227.0 875.9,226.0 876.4,224.4 876.9,222.8 877.4,221.6 877.9,221.2 878.4,221.5 878.9,221.7 879.4,221.5 879.9,220.6 880.4,219.0 880.9,217.4 881.4,216.2 881.9,215.8 882.4,216.1 882.9,216.4 883.4,216.3 883.9,215.4 884.4,213.9 884.9,212.3 885.4,211.1 885.9,210.7 886.4,211.0 886.9,211.4 887.4,211.3 887.9,210.6 888.4,209.1 888.9,207.6 889.4,206.4 889.9,206.1 890.4,206.3 890.9,206.8 891.4,206.9 891.9,206.2 892.4,204.9 892.9,203.4 893.4,202.2 893.9,201.9 894.4,202.2 894.9,202.7 895.3,202.9 895.8,202.4 896.3,201.1 896.8,199.7 897.3,198.6 897.8,198.3 898.3,198.7 898.8,199.3 899.3,199.6 899.8,199.2 900.3,198.1 900.8,196.7 901.3,195.7 901.8,195.4 902.3,195.8 902.8,196.5 903.3,196.9 903.8,196.7 904.3,195.7 904.8,194.4 905.3,193.5 905.8,193.2 906.3,193.7 906.8,194.5 907.3,195.0 907.8,194.9 908.3,194.1 908.8,192.9 909.3,192.0 909.8,191.8 910.3,192.4 910.8,193.3 911.3,193.9 911.8,194.0 912.3,193.2 912.8,192.2 913.3,191.4 913.8,191.2 914.3,191.8 914.8,192.8 915.3,193.6 915.8,193.8 916.3,193.2 916.8,192.3 917.3,191.5 917.8,191.4 918.3,192.1 918.7,193.2 919.2,194.1 919.7,194.5 920.2,194.0 920.7,193.2 921.2,192.5 921.7,192.5 922.2,193.2 922.7,194.4 923.2,195.5 923.7,195.9 924.2,195.6 924.7,194.9 925.2,194.3 925.7,194.3 926.2,195.1 926.7,196.3 927.2,197.5 927.7,198.1 928.2,198.0 928.7,197.4 929.2,196.8 929.7,196.9 930.2,197.7 930.7,199.0 931.2,200.3 931.7,201.1 932.2,201.1 932.7,200.5 933.2,200.1 933.7,200.2 934.2,201.0 934.7,202.4 935.2,203.8 935.7,204.7 936.2,204.8 936.7,204.4 937.2,203.9 937.7,204.1 938.2,205.0 938.7,206.4 939.2,207.9 939.7,208.9 940.2,209.1 940.7,208.8 941.2,208.4 941.7,208.5 942.1,209.4 942.6,210.9 943.1,212.5 943.6,213.6 944.1,213.9 944.6,213.6 945.1,213.3 945.6,213.4 946.1,214.3 946.6,215.9 947.1,217.5 947.6,218.6 948.1,219.0 948.6,218.8 949.1,218.5 949.6,218.7 950.1,219.6 950.6,221.1 951.1,222.8 951.6,224.0 952.1,224.5 952.6,224.4 953.1,224.1 953.6,224.2 954.1,225.1 954.6,226.6 955.1,228.3 955.6,229.6 956.1,230.1 956.6,230.0 957.1,229.7 957.6,229.8 958.1,230.6 958.6,232.1 959.1,233.8 959.6,235.2 960.1,235.8 960.6,235.7 961.1,235.4 961.6,235.4 962.1,236.2 962.6,237.7 963.1,239.4 963.6,240.7 964.1,241.4 964.6,241.3 965.1,241.0 965.6,241.0 966.0,241.7 966.5,243.1 967.0,244.7 967.5,246.1 968.0,246.8 968.5,246.7 969.0,246.3 969.5,246.3 970.0,246.9 970.5,248.2 971.0,249.8 971.5,251.2 972.0,251.8 972.5,251.8 973.0,251.4 973.5,251.2 974.0,251.7 974.5,253.0 975.0,254.6 975.5,255.9 976.0,256.5 976.5,256.4 977.0,256.0 977.5,255.7 978.0,256.2 978.5,257.3 979.0,258.8 979.5,260.1 980.0,260.7 980.5,260.6 981.0,260.1 981.5,259.7 982.0,260.0 982.5,261.0 983.0,262.5 983.5,263.7 984.0,264.3 984.5,264.2 985.0,263.6 985.5,263.1 986.0,263.3 986.5,264.2 987.0,265.5 987.5,266.7 988.0,267.2 988.5,267.0 989.0,266.4 989.4,265.8 989.9,265.8 990.4,266.6 990.9,267.8 991.4,268.9 991.9,269.4 992.4,269.2 992.9,268.4 993.4,267.7 993.9,267.6 994.4,268.2 994.9,269.3 995.4,270.4 995.9,270.8 996.4,270.5 996.9,269.7 997.4,268.9 997.9,268.6 998.4,269.1 998.9,270.1 999.4,271.1 999.9,271.5 1000.4,271.1 1000.9,270.2" fill="none" stroke="#4c72b0" stroke-width="2.7" stroke-linejoin="round"/>
<g stroke="#231f20" stroke-width="1.45" fill="none">
<path d="M483.1,29.8 V283.7 M482.5,274.5 H1001.6"/>
<path d="M655.7,274.5 v9.4"/>
<path d="M828.3,274.5 v9.4"/>
<path d="M1000.9,274.5 v9.4"/>
<path d="M473.40000000000003,57.0 H483.1"/>
<path d="M473.40000000000003,163.0 H483.1"/>
<path d="M473.40000000000003,269.1 H483.1"/>
</g>
<text transform="translate(482.9 309.0) scale(1.0 1)" font-size="30" text-anchor="middle">0</text>
<text transform="translate(655.5 309.0) scale(1.0 1)" font-size="30" text-anchor="middle">1</text>
<text transform="translate(828.1 309.0) scale(1.0 1)" font-size="30" text-anchor="middle">2</text>
<text transform="translate(1000.7 309.0) scale(1.0 1)" font-size="30" text-anchor="middle">3</text>
<text x="469.3" y="67.4" font-size="29" text-anchor="end">8</text>
<text x="469.3" y="173.4" font-size="29" text-anchor="end">4</text>
<text x="469.3" y="279.5" font-size="29" text-anchor="end">0</text>
<text transform="translate(741.3 342.0) scale(1.042 1)" font-size="29" text-anchor="middle">Time (s)</text>
<text transform="translate(440.0 152.2) rotate(-90) scale(1.043 1)" font-size="29.6" text-anchor="middle">Estimated shifts (&#956;m)</text>
<path d="M505.2,38.4 H557.7" stroke="#4c72b0" stroke-width="2.6"/>
<path d="M682,38.4 H733.3" stroke="#dd8452" stroke-width="2.6"/>
<text transform="translate(576.0 47.2) scale(1.035 1)" font-size="24.6" text-anchor="start">Axial</text>
<text transform="translate(753.3 47.2) scale(1.035 1)" font-size="24.6" text-anchor="start">Lateral</text>
<text transform="translate(199.75 387.3) scale(1.077 1)" font-size="26.8" text-anchor="middle">B-scan</text>
<text transform="translate(200.0 420.6) scale(1.051 1)" font-size="27.3" text-anchor="middle">intensity (dB)</text>
<text transform="translate(87.05 423.0) scale(1.025 1)" font-size="32.4" text-anchor="middle">35</text>
<text transform="translate(313.0 423.0) scale(0.97 1)" font-size="32.4" text-anchor="middle">70</text>
<rect x="86.5" y="432.9" width="226.6" height="20.4" fill="url(#cbar)" stroke="#808080" stroke-width="1.1"/>
<path d="M491.6,573.1 492.4,572.5 493.2,571.4 494.0,573.5 494.8,572.4 495.6,569.5 496.4,569.9 497.2,569.9 498.0,568.8 498.8,568.2 499.6,566.5 500.4,564.2 501.2,563.4 502.0,557.4 502.8,555.1 503.6,552.1 504.4,550.9 505.2,543.7 506.0,532.9 506.8,533.1 507.6,509.4 508.4,490.6 509.2,475.8 510.0,475.5 510.8,477.1 511.6,475.8 512.4,477.2 513.2,474.8 514.0,476.8 514.8,476.0 515.6,474.6 516.4,475.3 517.2,474.5 518.0,477.1 518.8,476.6 519.6,475.1 520.4,475.1 521.2,474.7 522.0,474.7 522.8,474.7 523.6,477.4 524.4,479.7 525.2,474.6 526.0,474.7 526.8,502.7 527.6,513.3 528.4,529.3 529.2,531.3 530.0,530.9 530.8,540.0 531.6,543.6 532.4,539.4 533.2,530.2 534.0,529.4 534.8,526.0 535.6,502.7 536.4,490.0 537.2,476.1 538.0,476.4 538.8,474.7 539.6,475.5 540.4,475.0 541.2,475.0 542.0,474.9 542.8,476.1 543.6,474.4 544.4,475.5 545.2,475.2 546.0,475.7 546.8,486.9 547.6,493.4 548.4,510.5 549.2,525.9 550.0,529.7 550.8,543.9 551.6,548.8 552.4,559.9 553.2,566.2 554.0,569.3 554.8,563.9 555.6,553.1 556.4,549.9 557.2,540.0 558.0,522.2 558.8,513.9 559.6,489.4 560.4,474.9 561.2,475.2 562.0,474.7 562.8,475.3 563.6,475.7 564.4,475.1 565.2,477.9 566.0,477.5 566.8,477.7 567.6,475.3 568.4,474.5 569.2,475.3 570.0,474.7 570.8,474.5 571.6,475.4 572.4,474.6 573.2,476.2 574.0,477.2 574.8,475.9 575.6,476.8 576.4,475.0 577.2,475.3 578.0,477.4 578.8,475.4 579.6,474.4 580.4,476.9 581.2,475.0 582.0,477.0 582.8,475.6 583.6,476.7 584.4,474.5 585.2,476.4 586.0,475.5 586.8,474.6 587.6,475.9 588.4,474.4 589.2,475.1 590.0,474.8 590.8,477.2 591.6,475.9 592.4,474.9 593.2,475.7 594.0,475.6 594.8,474.9 595.6,475.7 596.4,483.7 597.2,507.3 598.0,517.0 598.8,526.7 599.6,536.4 600.4,547.0 601.2,553.9 602.0,561.8 602.8,569.0 603.6,568.3 604.4,558.6 605.2,544.2 606.0,524.8 606.8,502.1 607.6,489.5 608.4,476.3 609.2,476.0 610.0,475.0 610.8,474.6 611.6,475.9 612.4,475.2 613.2,474.5 614.0,475.0 614.8,475.1 615.6,477.2 616.4,476.4 617.2,475.7 618.0,476.2 618.8,474.5 619.6,474.6 620.4,474.6 621.2,474.4 622.0,475.6 622.8,476.9 623.6,474.4 624.4,511.1 625.2,530.1 626.0,552.1 626.8,566.6 627.6,553.2 628.4,530.5 629.2,513.0 630.0,491.8 630.8,475.2 631.6,476.5 632.4,475.1 633.2,476.4 634.0,475.9 634.8,476.6 635.6,474.8 636.4,475.0 637.2,474.8 638.0,475.7 638.8,475.0 639.6,476.8 640.4,475.4 641.2,474.5 642.0,475.8 642.8,475.0 643.6,475.5 644.4,489.5 645.2,495.9 646.0,508.1 646.8,516.1 647.6,529.5 648.4,535.5 649.2,546.1 650.0,552.8 650.8,556.8 651.6,556.9 652.4,558.7 653.2,564.1 654.0,565.1 654.8,562.9 655.6,566.8 656.4,567.6 657.2,566.9 658.0,570.5 658.8,570.5 659.6,570.2 660.4,573.1 661.2,572.3 662.0,573.1 662.8,570.2 663.6,571.5 664.4,572.4 665.2,572.8 666.0,569.7 666.8,568.9 667.6,568.4 668.4,569.3 669.2,566.7 670.0,566.9 670.8,560.6 671.6,559.7 672.4,557.0 673.2,552.6 674.0,550.5 674.8,543.3 675.6,540.3 676.4,529.1 677.2,513.8 678.0,498.8 678.8,475.9 679.6,475.4 680.4,474.7 681.2,476.5 682.0,474.5 682.8,474.5 683.6,474.5 684.4,474.7 685.2,475.5 686.0,474.6 686.8,475.1 687.6,476.8 688.4,476.1 689.2,475.3 690.0,475.0 690.8,474.8 691.6,474.8 692.4,476.5 693.2,475.4 694.0,475.1 694.8,475.2 695.6,476.3 696.4,500.0 697.2,508.4 698.0,520.2 698.8,524.1 699.6,533.2 700.4,537.6 701.2,542.4 702.0,537.8 702.8,534.3 703.6,534.6 704.4,522.3 705.2,511.6 706.0,498.5 706.8,476.1 707.6,475.4 708.4,477.8 709.2,475.0 710.0,474.9 710.8,475.7 711.6,474.5 712.4,477.7 713.2,475.7 714.0,474.7 714.8,475.6 715.6,476.5 716.4,474.5 717.2,490.5 718.0,504.4 718.8,519.6 719.6,535.0 720.4,543.5 721.2,551.1 722.0,556.3 722.8,566.5 723.6,572.7 724.4,563.1 725.2,558.6 726.0,547.6 726.8,542.6 727.6,527.1 728.4,518.7 729.2,492.5 730.0,475.3 730.8,474.6 731.6,475.1 732.4,475.1 733.2,475.2 734.0,474.7 734.8,475.8 735.6,474.5 736.4,475.6 737.2,478.1 738.0,474.5 738.8,475.3 739.6,475.4 740.4,474.7 741.2,474.6 742.0,474.8 742.8,475.5 743.6,474.4 744.4,475.2 745.2,474.8 746.0,476.0 746.8,474.5 747.6,475.0 748.4,474.6 749.2,476.4 750.0,475.2 750.8,476.0 751.6,475.5 752.4,474.8 753.2,475.1 754.0,475.0 754.8,475.2 755.6,475.5 756.4,475.5 757.2,475.2 758.0,474.6 758.8,475.3 759.6,475.6 760.4,475.3 761.2,474.7 762.0,474.5 762.8,474.8 763.6,474.8 764.4,475.2 765.2,474.5 766.0,485.4 766.8,496.4 767.6,516.4 768.4,525.7 769.2,534.5 770.0,542.2 770.8,553.7 771.6,562.4 772.4,565.6 773.2,570.2 774.0,560.5 774.8,547.6 775.6,536.1 776.4,509.9 777.2,493.5 778.0,474.8 778.8,476.6 779.6,476.4 780.4,475.3 781.2,474.7 782.0,474.7 782.8,478.2 783.6,475.4 784.4,475.8 785.2,474.9 786.0,476.0 786.8,474.6 787.6,475.5 788.4,475.1 789.2,475.4 790.0,474.8 790.8,476.0 791.6,474.5 792.4,475.4 793.2,476.1 794.0,500.1 794.8,528.0 795.6,550.1 796.4,564.6 797.2,553.4 798.0,539.9 798.8,514.6 799.6,492.7 800.4,477.0 801.2,475.9 802.0,477.4 802.8,476.0 803.6,474.6 804.4,477.7 805.2,475.3 806.0,474.7 806.8,474.6 807.6,476.5 808.4,476.7 809.2,474.7 810.0,475.7 810.8,474.4 811.6,475.4 812.4,474.9 813.2,475.8 814.0,475.6 814.8,486.2 815.6,507.4 816.4,519.9 817.2,527.5 818.0,538.3 818.8,547.9 819.6,549.6 820.4,556.0 821.2,555.7 822.0,562.1 822.8,562.1 823.6,565.6 824.4,563.2 825.2,563.3 826.0,564.5 826.8,569.0 827.6,569.0 828.4,571.3 829.2,571.9 830.0,572.1 830.8,572.2 831.6,573.7 832.4,571.5 833.2,570.2 834.0,572.5 834.8,570.4 835.6,571.2 836.4,570.6 837.2,571.0 838.0,568.0 838.8,565.8 839.6,565.6 840.4,561.9 841.2,560.9 842.0,559.3 842.8,553.3 843.6,551.2 844.4,546.7 845.2,536.0 846.0,527.3 846.8,524.6 847.6,501.3 848.4,476.0 849.2,474.7 850.0,476.0 850.8,475.6 851.6,475.2 852.4,476.1 853.2,475.6 854.0,477.3 854.8,475.0 855.6,475.2 856.4,476.4 857.2,474.9 858.0,477.7 858.8,475.0 859.6,474.6 860.4,474.4 861.2,475.3 862.0,474.6 862.8,476.8 863.6,475.5 864.4,474.5 865.2,475.1 866.0,499.4 866.8,509.4 867.6,522.2 868.4,530.5 869.2,536.2 870.0,540.8 870.8,541.6 871.6,544.7 872.4,533.8 873.2,533.6 874.0,521.0 874.8,509.3 875.6,498.6 876.4,477.7 877.2,474.5 878.0,474.9 878.8,476.3 879.6,475.2 880.4,479.0 881.2,475.5 882.0,476.6 882.8,476.7 883.6,474.5 884.4,475.8 885.2,474.8 886.0,476.2 886.8,493.7 887.6,502.3 888.4,519.6 889.2,526.2 890.0,534.4 890.8,549.6 891.6,557.7 892.4,562.5 893.2,572.0 894.0,567.8 894.8,556.3 895.6,549.1 896.4,540.7 897.2,530.3 898.0,519.3 898.8,501.9 899.6,485.8 900.4,475.6 901.2,477.8 902.0,476.2 902.8,475.3 903.6,474.5 904.4,476.8 905.2,475.5 906.0,475.2 906.8,476.0 907.6,477.3 908.4,476.2 909.2,476.3 910.0,475.8 910.8,475.9 911.6,477.1 912.4,477.5 913.2,475.1 914.0,477.3 914.8,477.1 915.6,474.7 916.4,474.9 917.2,475.5 918.0,476.1 918.8,475.1 919.6,474.7 920.4,475.0 921.2,475.5 922.0,474.5 922.8,477.6 923.6,476.7 924.4,475.7 925.2,475.7 926.0,474.7 926.8,475.4 927.6,477.4 928.4,474.6 929.2,475.3 930.0,474.7 930.8,474.5 931.6,474.9 932.4,474.6 933.2,475.9 934.0,475.9 934.8,475.0 935.6,476.6 936.4,502.8 937.2,507.5 938.0,529.5 938.8,536.7 939.6,540.9 940.4,552.5 941.2,558.4 942.0,567.7 942.8,574.0 943.6,562.7 944.4,547.5 945.2,539.1 946.0,515.0 946.8,492.2 947.6,476.5 948.4,475.4 949.2,475.3 950.0,475.6 950.8,475.4 951.6,474.8 952.4,475.9 953.2,474.5 954.0,475.6 954.8,475.4 955.6,475.0 956.4,475.1 957.2,475.7 958.0,474.6 958.8,476.1 959.6,476.5 960.4,474.6 961.2,475.6 962.0,474.9 962.8,474.6 963.6,501.3 964.4,528.5 965.2,544.5 966.0,562.7 966.8,554.5 967.6,542.7 968.4,524.3 969.2,500.4 970.0,474.9 970.8,475.1 971.6,476.3 972.4,474.8 973.2,474.8 974.0,476.2 974.8,477.1 975.6,475.3 976.4,474.7 977.2,474.6 978.0,475.8 978.8,475.4 979.6,477.2 980.4,476.0 981.2,476.8 982.0,474.6 982.8,474.5 983.6,475.4 984.4,485.5 985.2,496.9 986.0,512.7 986.8,531.4 987.6,533.4 988.4,544.9 989.2,553.3 990.0,553.9 990.8,559.3 991.6,560.6 992.4,563.8 993.2,564.7 994.0,563.9 994.8,567.4 995.6,567.7 996.4,568.9 997.2,568.4 998.0,567.9 998.8,570.6 999.6,571.9 1000.4,570.2 1000.4,618.7 999.6,620.2 998.8,620.0 998.0,622.5 997.2,625.1 996.4,622.7 995.6,625.5 994.8,626.5 994.0,625.7 993.2,628.2 992.4,629.2 991.6,633.5 990.8,635.2 990.0,636.8 989.2,641.5 988.4,647.7 987.6,655.0 986.8,667.5 986.0,673.7 985.2,692.9 984.4,701.0 983.6,714.6 982.8,715.7 982.0,716.9 981.2,716.1 980.4,716.9 979.6,716.8 978.8,716.2 978.0,716.4 977.2,715.6 976.4,716.2 975.6,717.4 974.8,713.5 974.0,713.6 973.2,716.6 972.4,714.4 971.6,717.4 970.8,714.7 970.0,717.3 969.2,691.9 968.4,669.2 967.6,654.0 966.8,637.0 966.0,626.9 965.2,645.0 964.4,665.7 963.6,687.3 962.8,715.3 962.0,716.5 961.2,716.7 960.4,717.1 959.6,715.6 958.8,717.1 958.0,716.6 957.2,716.7 956.4,717.2 955.6,714.8 954.8,714.7 954.0,717.0 953.2,717.0 952.4,715.6 951.6,714.3 950.8,716.6 950.0,716.2 949.2,714.5 948.4,717.3 947.6,717.3 946.8,695.7 946.0,681.6 945.2,654.2 944.4,644.7 943.6,634.1 942.8,619.8 942.0,625.1 941.2,635.2 940.4,639.9 939.6,650.5 938.8,654.7 938.0,661.8 937.2,687.5 936.4,694.4 935.6,717.2 934.8,717.2 934.0,716.0 933.2,717.4 932.4,716.1 931.6,716.7 930.8,717.4 930.0,717.3 929.2,715.7 928.4,716.6 927.6,717.0 926.8,716.5 926.0,716.8 925.2,716.7 924.4,715.0 923.6,717.0 922.8,716.7 922.0,717.2 921.2,716.9 920.4,717.0 919.6,716.1 918.8,717.1 918.0,715.1 917.2,716.7 916.4,715.9 915.6,716.2 914.8,716.3 914.0,716.6 913.2,716.7 912.4,714.8 911.6,716.5 910.8,715.4 910.0,716.9 909.2,716.8 908.4,717.3 907.6,716.9 906.8,717.0 906.0,713.8 905.2,715.7 904.4,717.5 903.6,716.8 902.8,713.6 902.0,715.4 901.2,717.1 900.4,716.0 899.6,705.2 898.8,692.7 898.0,678.1 897.2,660.6 896.4,645.8 895.6,641.7 894.8,636.7 894.0,628.0 893.2,617.3 892.4,626.8 891.6,633.3 890.8,643.0 890.0,656.4 889.2,659.0 888.4,676.1 887.6,681.1 886.8,699.6 886.0,717.1 885.2,715.6 884.4,715.5 883.6,717.2 882.8,717.3 882.0,714.7 881.2,717.4 880.4,715.7 879.6,717.1 878.8,714.9 878.0,716.9 877.2,716.7 876.4,714.7 875.6,689.2 874.8,677.4 874.0,662.1 873.2,664.5 872.4,652.8 871.6,646.5 870.8,650.0 870.0,658.3 869.2,662.9 868.4,668.8 867.6,664.2 866.8,679.7 866.0,695.6 865.2,713.9 864.4,717.4 863.6,715.7 862.8,717.1 862.0,716.9 861.2,717.0 860.4,713.4 859.6,716.7 858.8,716.2 858.0,716.4 857.2,716.4 856.4,715.7 855.6,717.1 854.8,716.7 854.0,715.2 853.2,716.2 852.4,716.2 851.6,714.4 850.8,717.4 850.0,716.7 849.2,717.3 848.4,714.5 847.6,696.9 846.8,669.6 846.0,656.8 845.2,652.9 844.4,646.0 843.6,639.8 842.8,640.5 842.0,632.6 841.2,631.6 840.4,629.0 839.6,627.4 838.8,624.2 838.0,624.9 837.2,620.3 836.4,620.3 835.6,621.9 834.8,621.6 834.0,619.0 833.2,621.3 832.4,620.6 831.6,619.6 830.8,619.1 830.0,621.9 829.2,620.8 828.4,622.5 827.6,622.5 826.8,622.2 826.0,623.3 825.2,627.7 824.4,627.3 823.6,627.1 822.8,627.9 822.0,632.0 821.2,631.6 820.4,635.5 819.6,641.8 818.8,645.3 818.0,658.0 817.2,664.5 816.4,673.7 815.6,681.6 814.8,704.1 814.0,713.7 813.2,715.5 812.4,717.2 811.6,716.8 810.8,716.3 810.0,715.5 809.2,716.0 808.4,716.9 807.6,717.2 806.8,716.3 806.0,716.9 805.2,714.2 804.4,717.4 803.6,716.0 802.8,717.0 802.0,716.5 801.2,717.2 800.4,715.3 799.6,700.8 798.8,675.0 798.0,651.5 797.2,636.3 796.4,624.4 795.6,642.7 794.8,663.5 794.0,687.5 793.2,716.7 792.4,716.1 791.6,716.9 790.8,717.1 790.0,716.6 789.2,715.8 788.4,717.3 787.6,715.9 786.8,714.6 786.0,716.1 785.2,714.8 784.4,716.7 783.6,714.6 782.8,716.9 782.0,716.9 781.2,717.0 780.4,717.3 779.6,715.9 778.8,716.3 778.0,715.7 777.2,710.2 776.4,674.7 775.6,660.5 774.8,642.8 774.0,634.7 773.2,619.9 772.4,622.6 771.6,631.2 770.8,638.4 770.0,648.5 769.2,653.7 768.4,668.6 767.6,683.1 766.8,687.1 766.0,711.4 765.2,717.2 764.4,717.4 763.6,716.1 762.8,715.5 762.0,716.6 761.2,715.9 760.4,717.0 759.6,716.9 758.8,715.9 758.0,715.1 757.2,717.1 756.4,715.6 755.6,716.5 754.8,714.8 754.0,717.3 753.2,715.6 752.4,717.4 751.6,714.4 750.8,717.2 750.0,716.9 749.2,716.8 748.4,717.2 747.6,717.4 746.8,717.4 746.0,714.0 745.2,717.0 744.4,715.6 743.6,716.4 742.8,717.0 742.0,715.9 741.2,716.3 740.4,717.2 739.6,716.6 738.8,717.4 738.0,716.9 737.2,716.9 736.4,716.7 735.6,717.0 734.8,717.0 734.0,717.4 733.2,716.0 732.4,717.4 731.6,717.0 730.8,716.6 730.0,717.3 729.2,689.8 728.4,675.8 727.6,661.0 726.8,650.6 726.0,641.8 725.2,637.5 724.4,627.1 723.6,619.8 722.8,626.4 722.0,634.7 721.2,643.2 720.4,649.5 719.6,656.3 718.8,669.3 718.0,682.0 717.2,703.3 716.4,716.2 715.6,716.5 714.8,716.0 714.0,716.8 713.2,714.9 712.4,716.7 711.6,716.9 710.8,717.1 710.0,715.5 709.2,717.0 708.4,716.0 707.6,716.2 706.8,717.1 706.0,698.5 705.2,679.5 704.4,667.8 703.6,665.0 702.8,658.7 702.0,650.9 701.2,646.5 700.4,657.2 699.6,659.0 698.8,662.1 698.0,672.6 697.2,674.0 696.4,692.6 695.6,717.2 694.8,716.9 694.0,717.1 693.2,715.3 692.4,716.3 691.6,716.6 690.8,715.2 690.0,717.1 689.2,716.7 688.4,715.2 687.6,716.9 686.8,716.2 686.0,716.1 685.2,717.5 684.4,717.2 683.6,716.1 682.8,716.1 682.0,715.7 681.2,716.5 680.4,716.7 679.6,716.2 678.8,716.4 678.0,698.9 677.2,668.9 676.4,657.6 675.6,657.8 674.8,648.5 674.0,638.8 673.2,639.1 672.4,634.1 671.6,629.9 670.8,629.9 670.0,627.2 669.2,625.8 668.4,624.2 667.6,623.4 666.8,620.8 666.0,619.2 665.2,622.0 664.4,621.0 663.6,618.8 662.8,619.6 662.0,620.1 661.2,619.8 660.4,620.0 659.6,622.1 658.8,621.7 658.0,624.4 657.2,622.3 656.4,624.8 655.6,627.9 654.8,629.1 654.0,629.3 653.2,628.2 652.4,630.0 651.6,636.6 650.8,638.0 650.0,637.6 649.2,647.4 648.4,652.4 647.6,664.8 646.8,672.8 646.0,688.7 645.2,697.8 644.4,716.7 643.6,715.2 642.8,716.3 642.0,717.3 641.2,717.2 640.4,716.9 639.6,716.0 638.8,715.3 638.0,714.1 637.2,716.5 636.4,715.7 635.6,716.4 634.8,716.7 634.0,716.6 633.2,716.1 632.4,717.0 631.6,717.3 630.8,715.9 630.0,701.1 629.2,671.8 628.4,656.3 627.6,641.5 626.8,625.6 626.0,640.0 625.2,658.3 624.4,685.6 623.6,716.6 622.8,716.4 622.0,717.0 621.2,714.1 620.4,716.8 619.6,715.8 618.8,717.1 618.0,716.9 617.2,715.0 616.4,715.6 615.6,717.1 614.8,716.9 614.0,717.1 613.2,717.1 612.4,717.5 611.6,716.3 610.8,715.6 610.0,715.4 609.2,714.9 608.4,715.6 607.6,705.7 606.8,688.4 606.0,661.5 605.2,651.3 604.4,635.4 603.6,624.3 602.8,622.0 602.0,631.5 601.2,639.3 600.4,644.5 599.6,654.0 598.8,661.2 598.0,677.7 597.2,686.0 596.4,702.7 595.6,716.2 594.8,716.3 594.0,716.8 593.2,715.8 592.4,716.3 591.6,716.6 590.8,717.0 590.0,717.1 589.2,717.2 588.4,717.4 587.6,716.7 586.8,715.7 586.0,717.1 585.2,715.4 584.4,717.3 583.6,716.3 582.8,715.2 582.0,716.9 581.2,716.7 580.4,717.1 579.6,714.6 578.8,716.6 578.0,715.7 577.2,716.0 576.4,716.4 575.6,717.3 574.8,716.4 574.0,716.1 573.2,716.2 572.4,717.1 571.6,716.9 570.8,717.0 570.0,716.2 569.2,716.0 568.4,714.7 567.6,717.0 566.8,716.1 566.0,714.6 565.2,717.4 564.4,717.1 563.6,716.8 562.8,716.3 562.0,716.4 561.2,716.6 560.4,716.2 559.6,700.0 558.8,679.2 558.0,670.0 557.2,649.1 556.4,641.3 555.6,636.1 554.8,629.6 554.0,619.9 553.2,624.0 552.4,632.1 551.6,639.0 550.8,650.0 550.0,656.8 549.2,665.0 548.4,683.5 547.6,687.4 546.8,706.3 546.0,716.1 545.2,716.5 544.4,716.8 543.6,715.9 542.8,714.1 542.0,717.4 541.2,715.2 540.4,716.3 539.6,716.3 538.8,717.1 538.0,717.2 537.2,716.5 536.4,693.4 535.6,683.2 534.8,666.6 534.0,665.4 533.2,657.7 532.4,653.0 531.6,647.9 530.8,652.4 530.0,656.2 529.2,667.0 528.4,671.5 527.6,673.0 526.8,692.3 526.0,717.3 525.2,717.0 524.4,717.3 523.6,714.7 522.8,716.2 522.0,717.2 521.2,717.2 520.4,715.1 519.6,717.1 518.8,716.1 518.0,714.0 517.2,717.0 516.4,715.8 515.6,716.5 514.8,716.4 514.0,714.6 513.2,716.7 512.4,714.0 511.6,714.4 510.8,715.9 510.0,715.9 509.2,717.4 508.4,696.2 507.6,676.1 506.8,659.6 506.0,651.9 505.2,652.1 504.4,643.8 503.6,641.1 502.8,637.7 502.0,632.3 501.2,627.1 500.4,626.9 499.6,622.8 498.8,624.6 498.0,624.0 497.2,620.2 496.4,620.7 495.6,620.5 494.8,619.4 494.0,621.5 493.2,618.5 492.4,620.2 491.6,619.8Z" fill="#bdd68c"/>
<path d="M491.6,577.0 492.4,580.4 493.2,575.9 494.0,578.8 494.8,580.6 495.6,574.4 496.4,576.4 497.2,579.9 498.0,575.4 498.8,577.4 499.6,577.9 500.4,578.3 501.2,577.1 502.0,575.7 502.8,571.5 503.6,571.3 504.4,569.1 505.2,571.2 506.0,570.4 506.8,570.0 507.6,567.6 508.4,562.4 509.2,554.3 510.0,559.6 510.8,554.1 511.6,543.0 512.4,553.9 513.2,540.5 514.0,537.2 514.8,538.8 515.6,534.5 516.4,541.8 517.2,521.7 518.0,539.4 518.8,520.8 519.6,528.7 520.4,522.4 521.2,517.4 522.0,530.9 522.8,536.2 523.6,532.8 524.4,523.3 525.2,533.2 526.0,536.4 526.8,542.5 527.6,552.7 528.4,544.4 529.2,558.7 530.0,567.6 530.8,572.0 531.6,573.0 532.4,572.6 533.2,566.6 534.0,559.2 534.8,550.8 535.6,548.3 536.4,547.9 537.2,548.6 538.0,534.7 538.8,545.5 539.6,532.5 540.4,531.0 541.2,506.2 542.0,522.8 542.8,523.0 543.6,517.4 544.4,507.7 545.2,537.3 546.0,542.8 546.8,532.2 547.6,554.0 548.4,557.4 549.2,563.5 550.0,568.0 550.8,570.8 551.6,573.6 552.4,575.7 553.2,574.3 554.0,570.6 554.8,568.7 555.6,564.7 556.4,556.3 557.2,564.7 558.0,549.8 558.8,552.8 559.6,556.9 560.4,552.2 561.2,555.6 562.0,555.0 562.8,553.9 563.6,545.8 564.4,536.7 565.2,551.1 566.0,551.0 566.8,540.8 567.6,545.3 568.4,545.0 569.2,536.3 570.0,522.8 570.8,535.7 571.6,535.8 572.4,514.4 573.2,510.0 574.0,520.7 574.8,517.0 575.6,504.6 576.4,520.7 577.2,513.0 578.0,513.4 578.8,522.5 579.6,511.0 580.4,501.4 581.2,504.6 582.0,516.5 582.8,535.0 583.6,519.5 584.4,531.0 585.2,539.5 586.0,525.1 586.8,544.5 587.6,531.4 588.4,545.1 589.2,531.6 590.0,550.3 590.8,548.2 591.6,534.2 592.4,552.8 593.2,552.2 594.0,539.3 594.8,541.6 595.6,554.5 596.4,552.5 597.2,557.9 598.0,562.2 598.8,555.8 599.6,561.6 600.4,571.5 601.2,574.9 602.0,570.2 602.8,575.9 603.6,576.6 604.4,567.7 605.2,570.6 606.0,567.8 606.8,563.4 607.6,561.8 608.4,555.3 609.2,546.6 610.0,549.7 610.8,539.7 611.6,526.8 612.4,539.4 613.2,535.1 614.0,520.0 614.8,520.0 615.6,509.6 616.4,517.9 617.2,524.6 618.0,538.8 618.8,541.0 619.6,546.0 620.4,553.7 621.2,558.9 622.0,561.8 622.8,567.8 623.6,570.8 624.4,575.5 625.2,578.2 626.0,575.6 626.8,571.5 627.6,564.9 628.4,555.8 629.2,548.4 630.0,556.1 630.8,545.6 631.6,542.1 632.4,531.0 633.2,529.6 634.0,540.1 634.8,533.8 635.6,506.7 636.4,514.9 637.2,532.7 638.0,539.9 638.8,525.7 639.6,537.8 640.4,542.7 641.2,543.6 642.0,554.8 642.8,543.0 643.6,554.2 644.4,552.0 645.2,560.2 646.0,566.4 646.8,560.8 647.6,569.5 648.4,572.3 649.2,572.5 650.0,573.1 650.8,575.6 651.6,572.6 652.4,577.4 653.2,573.0 654.0,577.1 654.8,574.6 655.6,580.3 656.4,579.9 657.2,580.1 658.0,578.4 658.8,578.6 659.6,579.1 660.4,580.0 661.2,578.0 662.0,578.0 662.8,577.1 663.6,579.5 664.4,577.4 665.2,580.0 666.0,577.8 666.8,580.1 667.6,579.3 668.4,577.5 669.2,578.2 670.0,573.5 670.8,578.1 671.6,574.9 672.4,571.1 673.2,574.9 674.0,571.7 674.8,567.7 675.6,571.2 676.4,566.8 677.2,564.7 678.0,566.9 678.8,564.2 679.6,552.0 680.4,559.1 681.2,550.0 682.0,544.2 682.8,534.1 683.6,547.2 684.4,530.8 685.2,535.5 686.0,537.2 686.8,541.1 687.6,521.4 688.4,524.0 689.2,511.8 690.0,530.7 690.8,531.2 691.6,533.2 692.4,531.4 693.2,525.1 694.0,526.7 694.8,544.6 695.6,544.9 696.4,536.6 697.2,538.0 698.0,552.7 698.8,548.9 699.6,564.0 700.4,570.0 701.2,570.8 702.0,568.5 702.8,568.5 703.6,561.3 704.4,549.1 705.2,544.1 706.0,553.7 706.8,537.8 707.6,536.3 708.4,544.8 709.2,541.1 710.0,528.3 710.8,528.8 711.6,505.1 712.4,518.4 713.2,517.7 714.0,521.4 714.8,511.7 715.6,526.9 716.4,546.0 717.2,539.7 718.0,557.5 718.8,559.7 719.6,562.9 720.4,565.2 721.2,563.8 722.0,572.3 722.8,574.6 723.6,570.2 724.4,567.3 725.2,566.5 726.0,562.6 726.8,560.7 727.6,549.9 728.4,557.1 729.2,557.1 730.0,558.5 730.8,547.7 731.6,556.8 732.4,556.0 733.2,549.3 734.0,549.3 734.8,544.0 735.6,537.8 736.4,532.9 737.2,547.4 738.0,545.6 738.8,529.3 739.6,533.4 740.4,530.0 741.2,520.3 742.0,521.1 742.8,523.5 743.6,493.7 744.4,519.9 745.2,517.3 746.0,519.0 746.8,501.9 747.6,493.7 748.4,498.9 749.2,523.3 750.0,519.6 750.8,527.8 751.6,520.8 752.4,516.1 753.2,532.5 754.0,536.6 754.8,534.9 755.6,541.6 756.4,542.5 757.2,546.5 758.0,538.6 758.8,545.4 759.6,548.9 760.4,551.0 761.2,539.3 762.0,538.6 762.8,546.9 763.6,545.0 764.4,551.5 765.2,556.5 766.0,553.3 766.8,546.5 767.6,555.1 768.4,565.3 769.2,558.6 770.0,571.7 770.8,567.4 771.6,574.9 772.4,578.3 773.2,577.2 774.0,575.6 774.8,572.5 775.6,568.1 776.4,556.7 777.2,558.5 778.0,557.3 778.8,555.6 779.6,544.3 780.4,530.4 781.2,544.8 782.0,541.3 782.8,522.2 783.6,518.2 784.4,504.2 785.2,513.8 786.0,523.1 786.8,529.7 787.6,535.1 788.4,538.1 789.2,550.7 790.0,547.0 790.8,553.1 791.6,562.9 792.4,565.5 793.2,569.8 794.0,571.0 794.8,575.4 795.6,574.3 796.4,564.9 797.2,561.7 798.0,559.1 798.8,550.0 799.6,558.9 800.4,553.5 801.2,546.2 802.0,545.8 802.8,527.5 803.6,525.6 804.4,520.4 805.2,511.5 806.0,528.2 806.8,521.9 807.6,532.0 808.4,542.3 809.2,537.2 810.0,550.1 810.8,549.5 811.6,545.7 812.4,548.0 813.2,558.1 814.0,562.3 814.8,563.6 815.6,562.7 816.4,563.2 817.2,560.9 818.0,572.1 818.8,566.0 819.6,575.7 820.4,572.1 821.2,575.9 822.0,576.9 822.8,572.5 823.6,576.7 824.4,579.7 825.2,577.6 826.0,579.0 826.8,580.8 827.6,575.5 828.4,581.0 829.2,581.8 830.0,579.6 830.8,579.5 831.6,577.6 832.4,576.5 833.2,581.2 834.0,580.8 834.8,580.7 835.6,580.3 836.4,579.5 837.2,578.0 838.0,577.8 838.8,578.0 839.6,573.1 840.4,577.8 841.2,576.3 842.0,570.9 842.8,574.8 843.6,568.5 844.4,573.3 845.2,572.4 846.0,570.9 846.8,563.9 847.6,563.2 848.4,564.3 849.2,551.5 850.0,559.4 850.8,557.1 851.6,547.5 852.4,545.5 853.2,531.5 854.0,543.9 854.8,530.0 855.6,542.9 856.4,536.2 857.2,523.5 858.0,538.1 858.8,515.1 859.6,531.1 860.4,526.0 861.2,512.3 862.0,522.0 862.8,526.7 863.6,536.2 864.4,543.4 865.2,532.5 866.0,551.1 866.8,547.4 867.6,552.6 868.4,554.8 869.2,563.6 870.0,571.5 870.8,577.5 871.6,573.6 872.4,566.0 873.2,561.2 874.0,559.7 874.8,544.2 875.6,550.8 876.4,544.8 877.2,529.9 878.0,546.0 878.8,537.7 879.6,536.0 880.4,516.3 881.2,530.1 882.0,525.0 882.8,523.4 883.6,508.4 884.4,532.3 885.2,527.6 886.0,544.4 886.8,545.9 887.6,549.5 888.4,551.7 889.2,566.5 890.0,569.8 890.8,564.7 891.6,573.0 892.4,570.7 893.2,576.3 894.0,571.2 894.8,569.5 895.6,567.4 896.4,560.1 897.2,558.7 898.0,553.7 898.8,549.1 899.6,556.7 900.4,548.1 901.2,557.3 902.0,551.6 902.8,554.7 903.6,552.0 904.4,546.2 905.2,537.8 906.0,549.6 906.8,547.9 907.6,527.9 908.4,533.2 909.2,540.1 910.0,535.7 910.8,537.3 911.6,526.3 912.4,507.8 913.2,511.2 914.0,511.5 914.8,519.8 915.6,510.6 916.4,518.9 917.2,517.6 918.0,520.4 918.8,518.6 919.6,521.8 920.4,517.9 921.2,530.5 922.0,530.9 922.8,516.4 923.6,527.5 924.4,541.5 925.2,524.4 926.0,534.5 926.8,538.2 927.6,537.5 928.4,533.3 929.2,548.4 930.0,542.6 930.8,537.0 931.6,542.7 932.4,543.7 933.2,542.2 934.0,541.1 934.8,554.5 935.6,550.4 936.4,551.8 937.2,551.9 938.0,562.6 938.8,563.6 939.6,570.2 940.4,574.4 941.2,570.4 942.0,578.1 942.8,578.1 943.6,572.7 944.4,571.5 945.2,569.8 946.0,564.6 946.8,561.2 947.6,556.8 948.4,553.9 949.2,540.7 950.0,536.6 950.8,543.5 951.6,521.4 952.4,536.7 953.2,508.1 954.0,507.1 954.8,499.9 955.6,514.1 956.4,516.5 957.2,534.4 958.0,544.5 958.8,531.6 959.6,541.0 960.4,559.7 961.2,552.7 962.0,558.6 962.8,567.1 963.6,567.6 964.4,577.6 965.2,577.3 966.0,569.7 966.8,569.2 967.6,564.5 968.4,557.4 969.2,560.1 970.0,557.1 970.8,545.9 971.6,537.8 972.4,531.2 973.2,531.7 974.0,520.5 974.8,526.7 975.6,510.4 976.4,531.7 977.2,528.3 978.0,533.8 978.8,538.5 979.6,547.9 980.4,536.4 981.2,555.3 982.0,547.0 982.8,550.6 983.6,556.7 984.4,558.2 985.2,565.2 986.0,559.0 986.8,568.2 987.6,566.0 988.4,566.7 989.2,570.4 990.0,574.9 990.8,575.7 991.6,578.2 992.4,574.4 993.2,579.7 994.0,580.1 994.8,580.4 995.6,578.6 996.4,576.3 997.2,579.3 998.0,580.2 998.8,576.2 999.6,579.8 1000.4,579.5 1000.4,610.5 999.6,611.8 998.8,613.9 998.0,610.7 997.2,613.7 996.4,612.3 995.6,612.1 994.8,613.8 994.0,615.3 993.2,613.2 992.4,612.9 991.6,618.2 990.8,615.1 990.0,620.6 989.2,622.3 988.4,619.8 987.6,628.7 986.8,622.8 986.0,629.7 985.2,631.5 984.4,641.3 983.6,630.2 982.8,637.3 982.0,647.4 981.2,636.9 980.4,645.5 979.6,656.6 978.8,657.7 978.0,665.5 977.2,658.7 976.4,664.0 975.6,672.3 974.8,664.6 974.0,659.2 973.2,654.7 972.4,646.9 971.6,640.4 970.8,646.5 970.0,649.2 969.2,633.3 968.4,641.2 967.6,629.3 966.8,621.8 966.0,619.3 965.2,615.6 964.4,615.4 963.6,618.9 962.8,625.5 962.0,630.4 961.2,637.2 960.4,635.0 959.6,647.3 958.8,653.1 958.0,649.4 957.2,654.2 956.4,677.1 955.6,669.5 954.8,681.0 954.0,669.1 953.2,662.8 952.4,670.8 951.6,671.6 950.8,647.7 950.0,660.7 949.2,640.3 948.4,647.8 947.6,638.7 946.8,637.4 946.0,631.3 945.2,630.7 944.4,625.3 943.6,620.5 942.8,614.9 942.0,619.5 941.2,615.6 940.4,618.5 939.6,623.4 938.8,626.3 938.0,633.8 937.2,632.3 936.4,631.9 935.6,639.1 934.8,636.4 934.0,644.3 933.2,637.8 932.4,639.4 931.6,645.9 930.8,654.5 930.0,644.6 929.2,649.4 928.4,645.9 927.6,660.1 926.8,656.7 926.0,667.9 925.2,663.6 924.4,668.3 923.6,655.5 922.8,654.3 922.0,682.4 921.2,672.8 920.4,677.1 919.6,667.8 918.8,672.0 918.0,678.2 917.2,670.7 916.4,692.8 915.6,672.8 914.8,683.0 914.0,686.9 913.2,670.9 912.4,669.5 911.6,672.6 910.8,662.6 910.0,662.9 909.2,651.2 908.4,648.7 907.6,665.0 906.8,649.2 906.0,644.5 905.2,645.4 904.4,641.6 903.6,649.6 902.8,644.1 902.0,639.2 901.2,639.0 900.4,636.5 899.6,647.0 898.8,635.7 898.0,630.2 897.2,635.4 896.4,629.6 895.6,630.6 894.8,621.3 894.0,618.7 893.2,616.2 892.4,618.9 891.6,624.7 890.8,621.6 890.0,622.7 889.2,624.6 888.4,631.0 887.6,635.9 886.8,642.0 886.0,649.8 885.2,651.2 884.4,668.6 883.6,669.7 882.8,680.6 882.0,677.1 881.2,676.4 880.4,657.7 879.6,656.0 878.8,665.7 878.0,645.0 877.2,642.8 876.4,641.6 875.6,650.4 874.8,634.2 874.0,632.3 873.2,627.0 872.4,624.1 871.6,618.4 870.8,616.0 870.0,627.2 869.2,637.9 868.4,646.5 867.6,637.1 866.8,648.0 866.0,658.6 865.2,646.3 864.4,646.9 863.6,657.7 862.8,662.0 862.0,657.2 861.2,679.7 860.4,685.4 859.6,674.5 858.8,659.7 858.0,660.6 857.2,673.3 856.4,650.3 855.6,666.1 854.8,660.9 854.0,664.5 853.2,642.6 852.4,639.4 851.6,649.1 850.8,634.5 850.0,643.8 849.2,634.2 848.4,636.2 847.6,627.4 846.8,626.6 846.0,624.7 845.2,626.4 844.4,617.6 843.6,618.7 842.8,615.9 842.0,616.7 841.2,620.9 840.4,619.4 839.6,613.8 838.8,614.8 838.0,618.8 837.2,614.7 836.4,612.8 835.6,616.6 834.8,611.2 834.0,614.8 833.2,611.9 832.4,615.2 831.6,610.7 830.8,609.6 830.0,609.9 829.2,614.4 828.4,616.2 827.6,610.5 826.8,614.3 826.0,614.9 825.2,613.8 824.4,614.4 823.6,615.2 822.8,617.7 822.0,617.4 821.2,618.6 820.4,615.7 819.6,616.5 818.8,619.5 818.0,619.3 817.2,628.7 816.4,625.8 815.6,629.8 814.8,627.4 814.0,635.6 813.2,642.1 812.4,640.8 811.6,638.7 810.8,644.4 810.0,641.3 809.2,659.1 808.4,664.2 807.6,653.3 806.8,661.0 806.0,690.5 805.2,685.9 804.4,668.1 803.6,653.8 802.8,651.8 802.0,648.6 801.2,642.1 800.4,644.6 799.6,646.9 798.8,629.1 798.0,631.6 797.2,622.6 796.4,625.4 795.6,619.4 794.8,617.0 794.0,616.9 793.2,624.8 792.4,631.4 791.6,638.3 790.8,645.0 790.0,637.0 789.2,642.4 788.4,655.8 787.6,663.0 786.8,677.0 786.0,678.9 785.2,674.7 784.4,683.3 783.6,681.9 782.8,680.0 782.0,653.6 781.2,649.3 780.4,646.4 779.6,639.7 778.8,649.9 778.0,644.1 777.2,637.2 776.4,637.8 775.6,630.9 774.8,628.9 774.0,623.8 773.2,617.4 772.4,614.1 771.6,618.7 770.8,623.3 770.0,627.0 769.2,624.0 768.4,635.8 767.6,639.8 766.8,637.3 766.0,634.4 765.2,636.9 764.4,636.1 763.6,643.9 762.8,652.5 762.0,652.8 761.2,655.1 760.4,641.4 759.6,651.1 758.8,643.0 758.0,658.7 757.2,662.0 756.4,664.5 755.6,659.1 754.8,650.6 754.0,670.3 753.2,653.2 752.4,658.4 751.6,664.3 750.8,680.5 750.0,667.7 749.2,686.6 748.4,689.5 747.6,677.1 746.8,671.2 746.0,672.4 745.2,693.9 744.4,674.4 743.6,697.2 742.8,670.5 742.0,672.3 741.2,674.0 740.4,656.1 739.6,667.9 738.8,648.6 738.0,648.4 737.2,663.9 736.4,646.9 735.6,644.1 734.8,642.1 734.0,653.0 733.2,637.2 732.4,642.8 731.6,646.9 730.8,644.1 730.0,644.8 729.2,636.9 728.4,639.7 727.6,639.3 726.8,628.1 726.0,624.2 725.2,622.6 724.4,622.5 723.6,615.3 722.8,616.6 722.0,623.9 721.2,619.0 720.4,628.2 719.6,627.2 718.8,630.2 718.0,642.5 717.2,648.0 716.4,657.0 715.6,653.0 714.8,676.5 714.0,664.6 713.2,681.0 712.4,679.1 711.6,677.3 710.8,661.9 710.0,671.6 709.2,663.5 708.4,656.2 707.6,647.2 706.8,658.6 706.0,650.3 705.2,648.1 704.4,636.9 703.6,638.9 702.8,627.2 702.0,621.6 701.2,614.6 700.4,618.5 699.6,627.7 698.8,644.5 698.0,641.7 697.2,648.0 696.4,651.6 695.6,652.3 694.8,649.0 694.0,648.2 693.2,664.5 692.4,675.2 691.6,674.7 690.8,677.7 690.0,658.2 689.2,658.7 688.4,665.4 687.6,673.8 686.8,671.1 686.0,661.8 685.2,648.3 684.4,659.8 683.6,644.1 682.8,640.1 682.0,638.3 681.2,634.2 680.4,640.1 679.6,634.9 678.8,627.3 678.0,625.0 677.2,625.1 676.4,623.1 675.6,619.1 674.8,620.3 674.0,619.3 673.2,619.8 672.4,616.4 671.6,614.5 670.8,615.8 670.0,617.0 669.2,616.4 668.4,615.2 667.6,618.5 666.8,612.2 666.0,614.2 665.2,611.4 664.4,611.3 663.6,612.2 662.8,610.2 662.0,610.7 661.2,610.0 660.4,611.7 659.6,612.0 658.8,612.9 658.0,612.2 657.2,616.4 656.4,613.6 655.6,611.2 654.8,612.9 654.0,613.4 653.2,616.9 652.4,613.5 651.6,619.4 650.8,616.4 650.0,620.6 649.2,619.0 648.4,627.3 647.6,622.1 646.8,632.1 646.0,632.5 645.2,634.0 644.4,632.9 643.6,631.9 642.8,635.0 642.0,642.1 641.2,638.1 640.4,652.8 639.6,655.1 638.8,648.5 638.0,660.0 637.2,672.4 636.4,662.4 635.6,667.4 634.8,658.0 634.0,671.1 633.2,653.3 632.4,651.9 631.6,651.1 630.8,640.2 630.0,633.0 629.2,629.7 628.4,636.7 627.6,631.4 626.8,619.4 626.0,621.7 625.2,619.4 624.4,624.1 623.6,623.8 622.8,623.6 622.0,629.2 621.2,630.1 620.4,638.0 619.6,653.8 618.8,649.0 618.0,670.0 617.2,659.8 616.4,685.7 615.6,693.9 614.8,670.9 614.0,668.0 613.2,660.1 612.4,655.1 611.6,651.4 610.8,643.8 610.0,640.8 609.2,644.0 608.4,635.8 607.6,641.9 606.8,633.2 606.0,633.4 605.2,629.3 604.4,617.7 603.6,613.5 602.8,613.4 602.0,621.8 601.2,624.9 600.4,620.1 599.6,622.3 598.8,632.9 598.0,638.0 597.2,635.6 596.4,639.7 595.6,636.3 594.8,638.8 594.0,638.5 593.2,639.4 592.4,653.9 591.6,642.2 590.8,644.8 590.0,659.6 589.2,644.8 588.4,649.1 587.6,650.2 586.8,648.2 586.0,653.7 585.2,667.0 584.4,672.2 583.6,652.9 582.8,673.0 582.0,685.9 581.2,683.5 580.4,667.0 579.6,683.5 578.8,674.0 578.0,676.3 577.2,675.9 576.4,691.1 575.6,690.8 574.8,687.2 574.0,671.4 573.2,668.0 572.4,665.6 571.6,671.6 570.8,658.2 570.0,659.4 569.2,650.7 568.4,647.7 567.6,645.8 566.8,651.7 566.0,642.7 565.2,642.7 564.4,643.8 563.6,648.2 562.8,639.4 562.0,640.0 561.2,643.8 560.4,632.8 559.6,636.1 558.8,636.4 558.0,633.0 557.2,634.2 556.4,624.2 555.6,625.1 554.8,618.7 554.0,618.6 553.2,615.7 552.4,615.8 551.6,627.3 550.8,630.9 550.0,629.0 549.2,628.5 548.4,636.8 547.6,647.4 546.8,660.8 546.0,662.2 545.2,662.2 544.4,666.7 543.6,668.5 542.8,678.0 542.0,692.1 541.2,660.3 540.4,655.1 539.6,660.5 538.8,664.8 538.0,649.8 537.2,640.6 536.4,642.3 535.6,645.2 534.8,638.0 534.0,628.9 533.2,624.1 532.4,619.3 531.6,616.4 530.8,619.6 530.0,625.9 529.2,635.5 528.4,638.7 527.6,642.6 526.8,642.7 526.0,647.0 525.2,648.7 524.4,648.1 523.6,654.8 522.8,654.3 522.0,672.4 521.2,659.2 520.4,660.6 519.6,681.3 518.8,659.7 518.0,653.0 517.2,651.8 516.4,659.9 515.6,648.7 514.8,656.2 514.0,643.4 513.2,645.7 512.4,654.2 511.6,635.7 510.8,641.3 510.0,629.4 509.2,635.4 508.4,636.9 507.6,630.8 506.8,626.6 506.0,619.4 505.2,621.2 504.4,617.6 503.6,618.1 502.8,618.0 502.0,621.0 501.2,616.5 500.4,617.1 499.6,617.4 498.8,619.2 498.0,612.8 497.2,615.7 496.4,617.1 495.6,615.6 494.8,611.4 494.0,612.7 493.2,610.6 492.4,610.6 491.6,611.3Z" fill="#9ac9d9"/>
<path d="M491.6,577.7 492.4,578.5 493.2,578.1 494.0,579.1 494.8,579.8 495.6,577.7 496.4,580.0 497.2,579.4 498.0,578.9 498.8,579.5 499.6,574.6 500.4,579.9 501.2,576.9 502.0,578.8 502.8,578.8 503.6,579.0 504.4,577.8 505.2,577.9 506.0,578.7 506.8,578.9 507.6,577.6 508.4,576.5 509.2,578.2 510.0,578.9 510.8,579.2 511.6,579.1 512.4,578.9 513.2,578.7 514.0,580.2 514.8,577.2 515.6,572.1 516.4,580.0 517.2,577.9 518.0,579.8 518.8,579.0 519.6,579.0 520.4,575.3 521.2,575.8 522.0,579.6 522.8,579.6 523.6,579.5 524.4,579.4 525.2,579.0 526.0,577.8 526.8,579.9 527.6,578.8 528.4,578.1 529.2,578.3 530.0,579.6 530.8,579.4 531.6,578.0 532.4,573.5 533.2,577.8 534.0,578.0 534.8,579.8 535.6,577.9 536.4,575.2 537.2,579.3 538.0,579.4 538.8,579.6 539.6,575.6 540.4,578.3 541.2,578.7 542.0,577.9 542.8,571.6 543.6,579.7 544.4,578.4 545.2,579.0 546.0,578.6 546.8,577.5 547.6,579.1 548.4,578.3 549.2,576.2 550.0,577.9 550.8,579.2 551.6,571.1 552.4,579.0 553.2,578.2 554.0,578.1 554.8,575.0 555.6,579.7 556.4,580.2 557.2,577.5 558.0,576.2 558.8,580.1 559.6,578.1 560.4,578.9 561.2,578.5 562.0,578.5 562.8,580.2 563.6,573.3 564.4,574.6 565.2,578.0 566.0,579.7 566.8,578.7 567.6,578.7 568.4,580.1 569.2,579.2 570.0,579.4 570.8,578.4 571.6,576.7 572.4,578.1 573.2,578.8 574.0,572.1 574.8,578.0 575.6,573.8 576.4,579.6 577.2,579.5 578.0,578.7 578.8,576.4 579.6,579.0 580.4,578.7 581.2,579.8 582.0,579.8 582.8,579.8 583.6,574.6 584.4,579.6 585.2,577.7 586.0,578.2 586.8,578.4 587.6,578.1 588.4,573.0 589.2,580.0 590.0,578.9 590.8,575.0 591.6,578.5 592.4,579.0 593.2,580.2 594.0,578.2 594.8,578.9 595.6,578.9 596.4,578.8 597.2,580.1 598.0,578.7 598.8,578.5 599.6,579.0 600.4,577.5 601.2,578.5 602.0,577.9 602.8,578.2 603.6,580.1 604.4,578.8 605.2,580.0 606.0,572.4 606.8,575.4 607.6,579.0 608.4,578.3 609.2,578.1 610.0,579.2 610.8,579.7 611.6,574.1 612.4,579.6 613.2,579.9 614.0,571.7 614.8,574.1 615.6,574.4 616.4,579.2 617.2,578.3 618.0,578.4 618.8,577.8 619.6,578.1 620.4,570.7 621.2,579.5 622.0,579.3 622.8,579.5 623.6,579.6 624.4,573.2 625.2,579.8 626.0,579.7 626.8,572.8 627.6,579.8 628.4,577.7 629.2,578.6 630.0,579.6 630.8,577.7 631.6,579.1 632.4,578.4 633.2,579.2 634.0,580.0 634.8,578.3 635.6,578.8 636.4,578.6 637.2,578.0 638.0,579.0 638.8,576.0 639.6,577.6 640.4,578.1 641.2,579.0 642.0,579.6 642.8,580.1 643.6,579.7 644.4,578.3 645.2,578.4 646.0,580.2 646.8,578.9 647.6,571.5 648.4,572.5 649.2,578.4 650.0,579.2 650.8,579.3 651.6,579.3 652.4,577.2 653.2,577.5 654.0,577.9 654.8,578.4 655.6,578.2 656.4,578.3 657.2,572.2 658.0,577.7 658.8,579.3 659.6,578.5 660.4,579.2 661.2,578.2 662.0,578.1 662.8,580.0 663.6,578.0 664.4,577.2 665.2,579.8 666.0,579.9 666.8,578.1 667.6,571.3 668.4,578.4 669.2,579.1 670.0,578.4 670.8,579.6 671.6,578.8 672.4,574.5 673.2,579.9 674.0,578.9 674.8,575.3 675.6,579.8 676.4,579.0 677.2,578.6 678.0,574.7 678.8,577.2 679.6,579.4 680.4,577.7 681.2,578.4 682.0,578.7 682.8,580.0 683.6,578.8 684.4,577.8 685.2,577.5 686.0,573.8 686.8,579.4 687.6,578.3 688.4,577.6 689.2,579.4 690.0,578.3 690.8,578.4 691.6,574.5 692.4,578.8 693.2,578.4 694.0,579.3 694.8,579.8 695.6,578.6 696.4,572.0 697.2,579.3 698.0,579.3 698.8,577.9 699.6,580.0 700.4,578.0 701.2,579.3 702.0,577.5 702.8,578.0 703.6,577.9 704.4,579.6 705.2,577.4 706.0,579.2 706.8,574.8 707.6,579.6 708.4,579.6 709.2,578.4 710.0,571.9 710.8,579.5 711.6,579.2 712.4,578.4 713.2,579.0 714.0,579.0 714.8,578.9 715.6,579.9 716.4,578.9 717.2,572.7 718.0,579.8 718.8,578.1 719.6,577.6 720.4,579.8 721.2,577.6 722.0,578.4 722.8,579.7 723.6,570.4 724.4,579.6 725.2,577.8 726.0,574.6 726.8,580.2 727.6,579.2 728.4,577.9 729.2,580.1 730.0,579.8 730.8,579.8 731.6,578.4 732.4,572.1 733.2,577.7 734.0,580.1 734.8,580.1 735.6,578.5 736.4,577.5 737.2,572.9 738.0,573.8 738.8,579.0 739.6,577.6 740.4,578.9 741.2,578.6 742.0,575.3 742.8,579.7 743.6,579.4 744.4,579.4 745.2,573.7 746.0,578.0 746.8,578.4 747.6,579.9 748.4,578.5 749.2,579.7 750.0,580.0 750.8,579.7 751.6,577.7 752.4,580.2 753.2,580.0 754.0,572.6 754.8,579.6 755.6,578.0 756.4,577.6 757.2,578.4 758.0,577.5 758.8,579.2 759.6,579.5 760.4,578.7 761.2,577.7 762.0,578.4 762.8,578.8 763.6,580.1 764.4,579.5 765.2,578.1 766.0,577.7 766.8,579.5 767.6,577.9 768.4,577.9 769.2,579.2 770.0,577.5 770.8,578.0 771.6,580.1 772.4,578.6 773.2,579.1 774.0,580.1 774.8,574.8 775.6,578.3 776.4,579.0 777.2,579.7 778.0,578.6 778.8,580.0 779.6,573.8 780.4,578.9 781.2,579.5 782.0,578.4 782.8,576.0 783.6,579.2 784.4,578.4 785.2,579.7 786.0,577.7 786.8,577.9 787.6,578.4 788.4,578.6 789.2,577.9 790.0,578.7 790.8,578.1 791.6,580.2 792.4,577.8 793.2,579.7 794.0,580.1 794.8,579.6 795.6,580.0 796.4,580.0 797.2,579.5 798.0,572.3 798.8,579.9 799.6,577.7 800.4,580.1 801.2,577.6 802.0,579.7 802.8,577.6 803.6,579.9 804.4,579.9 805.2,580.1 806.0,577.9 806.8,578.6 807.6,579.8 808.4,579.3 809.2,577.6 810.0,579.7 810.8,578.0 811.6,579.5 812.4,575.0 813.2,578.2 814.0,578.3 814.8,577.3 815.6,577.9 816.4,580.2 817.2,572.9 818.0,576.4 818.8,579.1 819.6,578.1 820.4,577.9 821.2,580.0 822.0,579.3 822.8,579.2 823.6,578.1 824.4,577.9 825.2,570.9 826.0,578.1 826.8,578.2 827.6,578.1 828.4,573.6 829.2,579.4 830.0,579.1 830.8,572.4 831.6,580.0 832.4,577.8 833.2,578.6 834.0,578.7 834.8,579.9 835.6,577.9 836.4,579.5 837.2,572.6 838.0,578.8 838.8,580.0 839.6,578.4 840.4,579.8 841.2,579.9 842.0,577.6 842.8,576.0 843.6,580.0 844.4,572.4 845.2,578.1 846.0,575.4 846.8,580.2 847.6,579.4 848.4,578.4 849.2,579.8 850.0,579.2 850.8,579.8 851.6,572.5 852.4,579.4 853.2,579.6 854.0,578.8 854.8,574.1 855.6,579.1 856.4,572.8 857.2,578.8 858.0,579.1 858.8,577.5 859.6,579.9 860.4,579.0 861.2,578.5 862.0,578.1 862.8,577.7 863.6,577.9 864.4,579.1 865.2,579.9 866.0,580.2 866.8,578.5 867.6,577.6 868.4,578.8 869.2,577.8 870.0,578.6 870.8,579.4 871.6,580.1 872.4,577.8 873.2,578.4 874.0,572.6 874.8,580.1 875.6,578.6 876.4,579.9 877.2,574.7 878.0,579.9 878.8,574.8 879.6,574.0 880.4,577.9 881.2,579.3 882.0,579.7 882.8,578.6 883.6,580.2 884.4,577.6 885.2,578.2 886.0,577.6 886.8,577.6 887.6,578.9 888.4,579.3 889.2,576.5 890.0,578.4 890.8,577.4 891.6,577.2 892.4,580.1 893.2,579.2 894.0,577.8 894.8,577.7 895.6,580.1 896.4,577.9 897.2,577.4 898.0,580.0 898.8,578.5 899.6,577.7 900.4,579.8 901.2,576.2 902.0,579.6 902.8,578.4 903.6,578.7 904.4,577.6 905.2,579.4 906.0,577.2 906.8,578.5 907.6,578.8 908.4,578.8 909.2,579.2 910.0,577.9 910.8,579.3 911.6,579.0 912.4,579.4 913.2,580.0 914.0,575.9 914.8,577.9 915.6,579.2 916.4,580.1 917.2,577.7 918.0,578.6 918.8,578.8 919.6,578.6 920.4,576.7 921.2,578.9 922.0,577.6 922.8,579.2 923.6,576.9 924.4,577.9 925.2,578.3 926.0,579.2 926.8,578.6 927.6,578.5 928.4,572.0 929.2,572.7 930.0,578.7 930.8,575.7 931.6,573.1 932.4,579.2 933.2,578.4 934.0,579.6 934.8,574.8 935.6,580.0 936.4,578.1 937.2,579.7 938.0,578.0 938.8,579.3 939.6,579.8 940.4,576.1 941.2,578.8 942.0,578.4 942.8,572.8 943.6,577.9 944.4,578.4 945.2,578.6 946.0,578.1 946.8,572.6 947.6,577.8 948.4,578.0 949.2,577.5 950.0,575.0 950.8,578.1 951.6,579.2 952.4,578.2 953.2,578.6 954.0,579.5 954.8,579.7 955.6,578.5 956.4,577.9 957.2,577.8 958.0,570.8 958.8,579.5 959.6,578.2 960.4,571.8 961.2,579.5 962.0,578.7 962.8,579.8 963.6,579.6 964.4,579.2 965.2,574.2 966.0,575.7 966.8,578.3 967.6,577.7 968.4,580.1 969.2,579.6 970.0,579.9 970.8,578.2 971.6,575.9 972.4,575.5 973.2,574.3 974.0,578.2 974.8,578.9 975.6,578.9 976.4,580.2 977.2,579.2 978.0,577.7 978.8,577.5 979.6,580.2 980.4,578.0 981.2,578.0 982.0,578.6 982.8,579.6 983.6,580.0 984.4,578.5 985.2,577.8 986.0,577.5 986.8,577.5 987.6,579.3 988.4,579.2 989.2,579.3 990.0,578.4 990.8,579.2 991.6,578.8 992.4,578.4 993.2,578.2 994.0,579.7 994.8,572.6 995.6,577.8 996.4,577.8 997.2,578.7 998.0,578.2 998.8,579.6 999.6,579.7 1000.4,573.6 1000.4,613.5 999.6,612.3 998.8,613.1 998.0,612.1 997.2,613.0 996.4,613.2 995.6,612.8 994.8,612.5 994.0,614.4 993.2,611.7 992.4,613.5 991.6,618.4 990.8,613.8 990.0,614.1 989.2,612.5 988.4,613.9 987.6,613.8 986.8,612.5 986.0,617.8 985.2,611.9 984.4,613.9 983.6,612.7 982.8,612.4 982.0,613.6 981.2,614.3 980.4,613.3 979.6,613.4 978.8,614.1 978.0,614.2 977.2,613.0 976.4,612.9 975.6,613.7 974.8,613.2 974.0,613.1 973.2,613.5 972.4,613.0 971.6,611.8 970.8,614.2 970.0,615.7 969.2,613.1 968.4,612.9 967.6,614.2 966.8,619.4 966.0,613.2 965.2,612.9 964.4,611.7 963.6,612.8 962.8,613.1 962.0,614.3 961.2,612.8 960.4,613.6 959.6,614.1 958.8,613.4 958.0,614.0 957.2,614.4 956.4,614.4 955.6,612.4 954.8,614.0 954.0,611.7 953.2,613.6 952.4,611.8 951.6,613.6 950.8,613.1 950.0,617.7 949.2,618.6 948.4,616.0 947.6,613.0 946.8,616.0 946.0,613.5 945.2,618.9 944.4,612.4 943.6,612.0 942.8,612.2 942.0,612.9 941.2,612.5 940.4,611.8 939.6,614.4 938.8,613.8 938.0,619.4 937.2,611.9 936.4,611.9 935.6,614.1 934.8,612.6 934.0,611.7 933.2,612.0 932.4,614.1 931.6,614.3 930.8,613.9 930.0,613.4 929.2,612.9 928.4,616.4 927.6,612.8 926.8,612.5 926.0,614.2 925.2,615.1 924.4,614.2 923.6,615.5 922.8,612.9 922.0,613.0 921.2,613.1 920.4,613.4 919.6,614.1 918.8,613.2 918.0,612.9 917.2,613.1 916.4,619.4 915.6,612.6 914.8,612.5 914.0,613.3 913.2,612.5 912.4,614.2 911.6,613.7 910.8,614.1 910.0,612.4 909.2,612.9 908.4,612.0 907.6,614.5 906.8,615.6 906.0,612.0 905.2,612.0 904.4,613.8 903.6,619.0 902.8,612.6 902.0,614.2 901.2,613.9 900.4,614.3 899.6,613.9 898.8,612.5 898.0,613.8 897.2,612.2 896.4,613.6 895.6,613.1 894.8,612.3 894.0,612.2 893.2,614.1 892.4,613.9 891.6,615.7 890.8,613.2 890.0,618.0 889.2,612.4 888.4,612.1 887.6,613.7 886.8,613.7 886.0,613.5 885.2,611.9 884.4,612.8 883.6,612.6 882.8,613.6 882.0,612.6 881.2,613.2 880.4,614.8 879.6,613.4 878.8,612.5 878.0,613.7 877.2,612.7 876.4,612.9 875.6,613.2 874.8,611.8 874.0,612.0 873.2,612.4 872.4,619.8 871.6,617.7 870.8,614.0 870.0,613.8 869.2,613.9 868.4,612.4 867.6,612.8 866.8,612.0 866.0,612.4 865.2,617.1 864.4,613.2 863.6,612.0 862.8,614.4 862.0,612.9 861.2,613.7 860.4,619.9 859.6,611.8 858.8,619.8 858.0,618.5 857.2,612.6 856.4,614.2 855.6,612.8 854.8,613.3 854.0,613.2 853.2,612.8 852.4,618.9 851.6,613.1 850.8,611.7 850.0,614.3 849.2,613.0 848.4,614.9 847.6,612.0 846.8,611.8 846.0,612.7 845.2,615.9 844.4,613.4 843.6,614.3 842.8,613.3 842.0,614.1 841.2,614.2 840.4,612.8 839.6,613.6 838.8,611.7 838.0,612.5 837.2,612.4 836.4,613.1 835.6,613.6 834.8,613.7 834.0,617.1 833.2,612.6 832.4,612.8 831.6,613.5 830.8,613.4 830.0,617.7 829.2,616.2 828.4,613.3 827.6,611.7 826.8,613.4 826.0,615.2 825.2,613.4 824.4,614.0 823.6,615.2 822.8,612.2 822.0,612.5 821.2,612.4 820.4,611.8 819.6,613.2 818.8,614.3 818.0,612.6 817.2,617.0 816.4,613.6 815.6,612.2 814.8,613.6 814.0,612.1 813.2,612.5 812.4,612.5 811.6,613.2 810.8,614.0 810.0,614.1 809.2,613.7 808.4,611.9 807.6,612.6 806.8,613.4 806.0,613.9 805.2,611.9 804.4,613.8 803.6,612.8 802.8,613.4 802.0,614.1 801.2,612.9 800.4,613.5 799.6,614.7 798.8,619.2 798.0,614.3 797.2,614.0 796.4,612.4 795.6,613.9 794.8,611.9 794.0,612.1 793.2,612.5 792.4,612.2 791.6,613.9 790.8,612.6 790.0,613.8 789.2,613.9 788.4,613.4 787.6,613.8 786.8,617.6 786.0,613.1 785.2,612.3 784.4,616.8 783.6,612.2 782.8,611.8 782.0,613.9 781.2,613.8 780.4,611.7 779.6,613.7 778.8,612.0 778.0,617.4 777.2,616.0 776.4,614.3 775.6,612.8 774.8,612.1 774.0,613.5 773.2,613.1 772.4,612.2 771.6,614.0 770.8,613.7 770.0,612.9 769.2,614.4 768.4,614.2 767.6,612.8 766.8,613.7 766.0,613.3 765.2,612.3 764.4,612.8 763.6,614.0 762.8,613.0 762.0,613.0 761.2,613.7 760.4,614.2 759.6,613.1 758.8,617.8 758.0,611.9 757.2,613.5 756.4,612.9 755.6,613.6 754.8,613.3 754.0,618.3 753.2,612.1 752.4,616.6 751.6,612.0 750.8,615.6 750.0,612.2 749.2,614.3 748.4,611.9 747.6,612.2 746.8,612.7 746.0,612.5 745.2,619.6 744.4,621.5 743.6,612.9 742.8,613.4 742.0,614.4 741.2,612.9 740.4,621.0 739.6,612.2 738.8,611.8 738.0,611.7 737.2,613.9 736.4,613.8 735.6,614.1 734.8,613.5 734.0,612.6 733.2,612.9 732.4,613.8 731.6,618.4 730.8,612.5 730.0,613.8 729.2,613.0 728.4,614.7 727.6,613.1 726.8,612.3 726.0,614.1 725.2,613.3 724.4,613.4 723.6,613.1 722.8,613.7 722.0,612.0 721.2,613.5 720.4,613.2 719.6,614.2 718.8,611.9 718.0,612.7 717.2,612.8 716.4,611.8 715.6,613.0 714.8,613.2 714.0,613.5 713.2,614.4 712.4,612.7 711.6,615.7 710.8,613.4 710.0,612.8 709.2,612.8 708.4,613.0 707.6,613.3 706.8,613.3 706.0,614.1 705.2,612.0 704.4,612.7 703.6,613.7 702.8,616.9 702.0,611.7 701.2,614.0 700.4,611.7 699.6,612.8 698.8,613.6 698.0,612.0 697.2,613.2 696.4,612.0 695.6,612.8 694.8,618.3 694.0,614.6 693.2,613.9 692.4,614.2 691.6,614.8 690.8,616.0 690.0,612.0 689.2,616.1 688.4,611.9 687.6,618.3 686.8,611.9 686.0,613.8 685.2,613.5 684.4,614.0 683.6,618.8 682.8,619.6 682.0,613.4 681.2,612.6 680.4,613.1 679.6,612.6 678.8,619.5 678.0,613.2 677.2,611.8 676.4,613.9 675.6,617.1 674.8,613.7 674.0,614.2 673.2,613.1 672.4,620.7 671.6,613.8 670.8,614.2 670.0,614.1 669.2,613.4 668.4,612.3 667.6,613.5 666.8,613.0 666.0,613.3 665.2,612.0 664.4,612.5 663.6,612.9 662.8,613.4 662.0,612.7 661.2,612.0 660.4,619.7 659.6,613.8 658.8,612.3 658.0,613.4 657.2,612.5 656.4,616.0 655.6,612.1 654.8,614.4 654.0,612.5 653.2,613.0 652.4,612.2 651.6,614.0 650.8,613.9 650.0,613.5 649.2,613.4 648.4,612.5 647.6,612.2 646.8,611.8 646.0,614.5 645.2,614.2 644.4,612.3 643.6,612.2 642.8,612.9 642.0,612.5 641.2,613.9 640.4,613.5 639.6,618.9 638.8,615.3 638.0,617.3 637.2,613.5 636.4,612.7 635.6,615.5 634.8,614.0 634.0,612.2 633.2,612.8 632.4,612.4 631.6,611.9 630.8,613.9 630.0,614.0 629.2,612.9 628.4,613.6 627.6,612.1 626.8,613.9 626.0,612.6 625.2,612.0 624.4,613.0 623.6,614.4 622.8,615.5 622.0,613.4 621.2,612.7 620.4,612.5 619.6,612.1 618.8,612.5 618.0,612.8 617.2,613.3 616.4,614.1 615.6,613.5 614.8,612.7 614.0,614.1 613.2,614.3 612.4,613.3 611.6,614.1 610.8,621.0 610.0,613.2 609.2,614.3 608.4,611.8 607.6,613.0 606.8,612.1 606.0,613.5 605.2,618.2 604.4,613.3 603.6,612.4 602.8,611.9 602.0,613.0 601.2,613.6 600.4,613.0 599.6,620.7 598.8,615.2 598.0,613.7 597.2,613.3 596.4,614.1 595.6,612.5 594.8,614.0 594.0,612.1 593.2,612.0 592.4,613.7 591.6,617.2 590.8,613.9 590.0,620.6 589.2,612.9 588.4,619.3 587.6,612.2 586.8,617.0 586.0,612.6 585.2,619.0 584.4,611.9 583.6,616.1 582.8,613.4 582.0,612.8 581.2,615.5 580.4,613.3 579.6,613.4 578.8,614.1 578.0,611.7 577.2,613.5 576.4,614.0 575.6,614.2 574.8,612.6 574.0,613.7 573.2,612.3 572.4,613.8 571.6,613.9 570.8,613.4 570.0,613.7 569.2,614.0 568.4,619.4 567.6,613.2 566.8,612.5 566.0,613.5 565.2,613.8 564.4,611.9 563.6,612.6 562.8,612.0 562.0,617.7 561.2,612.2 560.4,612.2 559.6,613.1 558.8,616.7 558.0,617.2 557.2,613.9 556.4,615.5 555.6,612.4 554.8,616.0 554.0,619.0 553.2,612.6 552.4,611.9 551.6,620.7 550.8,613.0 550.0,613.9 549.2,612.4 548.4,612.9 547.6,611.8 546.8,613.3 546.0,613.1 545.2,612.2 544.4,612.5 543.6,612.3 542.8,612.3 542.0,611.7 541.2,619.2 540.4,614.2 539.6,612.4 538.8,612.4 538.0,612.6 537.2,617.4 536.4,613.4 535.6,611.9 534.8,612.2 534.0,614.3 533.2,616.8 532.4,611.9 531.6,612.6 530.8,612.4 530.0,611.8 529.2,612.9 528.4,613.6 527.6,614.3 526.8,613.8 526.0,613.2 525.2,617.7 524.4,611.9 523.6,613.7 522.8,612.8 522.0,613.7 521.2,612.8 520.4,614.1 519.6,616.4 518.8,613.6 518.0,613.5 517.2,620.9 516.4,615.8 515.6,611.7 514.8,611.8 514.0,613.4 513.2,612.3 512.4,613.9 511.6,611.9 510.8,617.4 510.0,613.7 509.2,612.5 508.4,618.9 507.6,611.8 506.8,611.7 506.0,612.1 505.2,613.4 504.4,614.4 503.6,614.2 502.8,615.4 502.0,612.5 501.2,611.8 500.4,612.7 499.6,612.2 498.8,612.5 498.0,615.5 497.2,611.9 496.4,616.4 495.6,612.6 494.8,612.1 494.0,612.3 493.2,611.7 492.4,612.3 491.6,619.2Z" fill="#ff8883"/>
<g stroke="#231f20" stroke-width="1.45" fill="none">
<path d="M491.6,468.2 V732.5 M491.0,723.3 H1001.5"/>
<path d="M661.3,723.3 v9.4"/>
<path d="M831.1,723.3 v9.4"/>
<path d="M1000.8,723.3 v9.4"/>
<path d="M481.90000000000003,474.4 H491.6"/>
<path d="M481.90000000000003,595.95 H491.6"/>
<path d="M481.90000000000003,717.5 H491.6"/>
</g>
<text transform="translate(491.4 758.4) scale(1.0 1)" font-size="30" text-anchor="middle">0</text>
<text transform="translate(661.1 758.4) scale(1.0 1)" font-size="30" text-anchor="middle">1</text>
<text transform="translate(830.9 758.4) scale(1.0 1)" font-size="30" text-anchor="middle">2</text>
<text transform="translate(1000.6 758.4) scale(1.0 1)" font-size="30" text-anchor="middle">3</text>
<text transform="translate(746.0 790.7) scale(1.036 1)" font-size="29" text-anchor="middle">Time (s)</text>
<text transform="translate(438.9 597.0) rotate(-90) scale(1.027 1)" font-size="29.3" text-anchor="middle">Phase variation (rad)</text>
<text transform="translate(477.0 484.8) scale(0.9 1)" font-size="29" text-anchor="end" font-style="italic" stroke="#231f20" stroke-width="0.45">&#960;</text>
<text transform="translate(477.9 606.5) scale(1.04 1)" font-size="29" text-anchor="end">0</text>
<text transform="translate(477.0 727.9) scale(0.9 1)" font-size="29" text-anchor="end"><tspan>-</tspan><tspan dx="1.6" font-style="italic" stroke="#231f20" stroke-width="0.45">&#960;</tspan></text>
<path d="M491.6,933.1 492.4,931.4 493.2,932.0 494.0,931.8 494.8,931.6 495.6,930.6 496.4,926.4 497.2,926.9 498.0,922.6 498.8,921.3 499.6,921.9 500.4,915.9 501.2,915.9 502.0,908.4 502.8,904.3 503.6,901.3 504.4,900.2 505.2,895.6 506.0,887.2 506.8,882.9 507.6,875.7 508.4,871.7 509.2,867.2 510.0,848.1 510.8,840.1 511.6,841.5 512.4,840.6 513.2,839.5 514.0,840.2 514.8,840.9 515.6,839.5 516.4,842.3 517.2,839.4 518.0,839.2 518.8,840.2 519.6,840.1 520.4,841.2 521.2,839.9 522.0,839.8 522.8,840.7 523.6,839.1 524.4,846.8 525.2,860.6 526.0,876.9 526.8,881.9 527.6,892.3 528.4,900.8 529.2,907.7 530.0,918.2 530.8,916.8 531.6,906.8 532.4,896.9 533.2,891.3 534.0,884.9 534.8,877.4 535.6,867.5 536.4,860.1 537.2,857.2 538.0,839.1 538.8,839.3 539.6,840.4 540.4,840.2 541.2,840.2 542.0,839.9 542.8,839.2 543.6,839.3 544.4,840.2 545.2,840.2 546.0,839.4 546.8,841.7 547.6,851.0 548.4,871.8 549.2,878.2 550.0,888.7 550.8,898.7 551.6,908.5 552.4,916.0 553.2,925.5 554.0,915.6 554.8,913.3 555.6,907.2 556.4,897.4 557.2,894.3 558.0,879.8 558.8,872.9 559.6,872.4 560.4,867.8 561.2,857.1 562.0,848.9 562.8,840.7 563.6,839.7 564.4,839.8 565.2,839.4 566.0,843.3 566.8,840.4 567.6,839.4 568.4,839.9 569.2,840.2 570.0,842.1 570.8,839.3 571.6,842.2 572.4,840.0 573.2,839.8 574.0,840.8 574.8,840.5 575.6,840.1 576.4,840.1 577.2,839.6 578.0,840.0 578.8,841.2 579.6,842.4 580.4,839.2 581.2,840.3 582.0,840.2 582.8,839.1 583.6,839.5 584.4,839.1 585.2,840.3 586.0,842.3 586.8,839.5 587.6,840.8 588.4,839.3 589.2,839.2 590.0,841.0 590.8,841.0 591.6,840.5 592.4,840.0 593.2,840.1 594.0,854.5 594.8,860.6 595.6,866.5 596.4,867.7 597.2,882.5 598.0,890.1 598.8,894.9 599.6,899.7 600.4,909.5 601.2,914.2 602.0,923.6 602.8,925.6 603.6,915.0 604.4,911.8 605.2,905.0 606.0,893.2 606.8,886.0 607.6,871.2 608.4,865.9 609.2,856.5 610.0,841.6 610.8,840.0 611.6,840.3 612.4,843.2 613.2,840.6 614.0,840.0 614.8,840.7 615.6,840.3 616.4,839.6 617.2,839.9 618.0,839.2 618.8,839.7 619.6,849.2 620.4,860.2 621.2,876.9 622.0,878.2 622.8,889.7 623.6,898.1 624.4,906.0 625.2,913.7 626.0,918.3 626.8,919.5 627.6,910.5 628.4,901.8 629.2,894.4 630.0,889.0 630.8,872.5 631.6,867.1 632.4,867.3 633.2,854.4 634.0,839.4 634.8,839.3 635.6,839.5 636.4,840.1 637.2,839.3 638.0,839.4 638.8,842.0 639.6,839.3 640.4,839.8 641.2,841.3 642.0,839.8 642.8,841.1 643.6,839.9 644.4,839.5 645.2,840.1 646.0,845.2 646.8,863.2 647.6,869.3 648.4,876.5 649.2,877.3 650.0,880.3 650.8,886.3 651.6,883.9 652.4,887.4 653.2,891.9 654.0,897.1 654.8,897.2 655.6,896.1 656.4,904.8 657.2,904.3 658.0,905.8 658.8,907.1 659.6,910.1 660.4,911.4 661.2,911.5 662.0,911.7 662.8,913.1 663.6,914.9 664.4,913.4 665.2,914.8 666.0,917.4 666.8,915.5 667.6,917.2 668.4,919.8 669.2,917.0 670.0,918.6 670.8,917.1 671.6,909.9 672.4,907.7 673.2,902.8 674.0,896.7 674.8,891.6 675.6,883.6 676.4,881.7 677.2,875.2 678.0,864.9 678.8,865.6 679.6,851.0 680.4,851.2 681.2,841.7 682.0,840.0 682.8,841.2 683.6,840.8 684.4,840.9 685.2,840.5 686.0,839.5 686.8,840.4 687.6,839.2 688.4,839.9 689.2,840.2 690.0,839.7 690.8,839.1 691.6,839.3 692.4,840.4 693.2,840.5 694.0,845.2 694.8,861.0 695.6,870.4 696.4,882.0 697.2,893.0 698.0,899.3 698.8,904.7 699.6,913.4 700.4,917.6 701.2,906.9 702.0,899.9 702.8,896.0 703.6,880.7 704.4,876.3 705.2,873.4 706.0,857.2 706.8,857.6 707.6,839.5 708.4,839.1 709.2,839.9 710.0,839.4 710.8,839.2 711.6,842.3 712.4,840.9 713.2,839.3 714.0,841.1 714.8,840.0 715.6,841.2 716.4,840.6 717.2,855.2 718.0,869.5 718.8,872.9 719.6,887.6 720.4,894.9 721.2,901.2 722.0,910.9 722.8,923.1 723.6,920.9 724.4,909.2 725.2,906.4 726.0,894.3 726.8,887.0 727.6,885.4 728.4,882.8 729.2,875.5 730.0,859.0 730.8,854.2 731.6,853.0 732.4,840.1 733.2,839.7 734.0,839.7 734.8,839.1 735.6,841.5 736.4,841.6 737.2,841.7 738.0,840.2 738.8,840.1 739.6,840.3 740.4,841.1 741.2,839.4 742.0,841.3 742.8,840.0 743.6,839.8 744.4,841.5 745.2,840.2 746.0,841.7 746.8,839.2 747.6,839.3 748.4,840.4 749.2,840.7 750.0,840.5 750.8,840.3 751.6,840.5 752.4,842.7 753.2,840.6 754.0,840.4 754.8,839.4 755.6,841.7 756.4,840.6 757.2,840.3 758.0,839.8 758.8,841.4 759.6,841.1 760.4,840.0 761.2,840.1 762.0,839.2 762.8,839.1 763.6,844.8 764.4,852.6 765.2,868.4 766.0,870.8 766.8,880.4 767.6,883.7 768.4,897.1 769.2,897.6 770.0,906.9 770.8,914.7 771.6,918.1 772.4,926.8 773.2,920.1 774.0,910.9 774.8,899.5 775.6,896.8 776.4,887.3 777.2,877.2 778.0,870.1 778.8,863.7 779.6,853.2 780.4,840.8 781.2,839.9 782.0,840.2 782.8,841.1 783.6,841.3 784.4,839.6 785.2,839.7 786.0,840.3 786.8,839.4 787.6,840.6 788.4,840.0 789.2,853.4 790.0,864.7 790.8,873.2 791.6,882.5 792.4,891.6 793.2,896.6 794.0,899.3 794.8,912.6 795.6,914.1 796.4,918.2 797.2,909.5 798.0,900.8 798.8,896.5 799.6,888.0 800.4,874.3 801.2,866.6 802.0,860.8 802.8,859.4 803.6,839.4 804.4,839.4 805.2,842.2 806.0,840.1 806.8,841.4 807.6,839.5 808.4,839.5 809.2,839.6 810.0,839.4 810.8,839.3 811.6,839.1 812.4,839.5 813.2,839.3 814.0,839.5 814.8,841.9 815.6,850.8 816.4,853.0 817.2,863.3 818.0,866.6 818.8,879.6 819.6,884.3 820.4,887.5 821.2,890.2 822.0,889.5 822.8,891.9 823.6,897.0 824.4,897.9 825.2,895.5 826.0,905.0 826.8,906.3 827.6,902.3 828.4,909.1 829.2,909.4 830.0,911.8 830.8,909.4 831.6,912.9 832.4,913.3 833.2,913.0 834.0,916.0 834.8,918.0 835.6,918.2 836.4,918.7 837.2,918.4 838.0,919.2 838.8,918.3 839.6,918.0 840.4,918.3 841.2,914.7 842.0,907.5 842.8,905.2 843.6,900.6 844.4,896.5 845.2,890.5 846.0,885.5 846.8,881.7 847.6,874.9 848.4,864.3 849.2,861.6 850.0,855.0 850.8,839.5 851.6,840.4 852.4,840.6 853.2,841.4 854.0,841.0 854.8,839.2 855.6,842.1 856.4,840.6 857.2,839.4 858.0,839.8 858.8,839.5 859.6,839.8 860.4,840.4 861.2,839.6 862.0,840.8 862.8,841.3 863.6,839.2 864.4,858.8 865.2,869.7 866.0,883.8 866.8,893.7 867.6,899.9 868.4,906.9 869.2,916.6 870.0,918.8 870.8,907.9 871.6,905.3 872.4,891.0 873.2,883.7 874.0,879.0 874.8,873.9 875.6,863.3 876.4,850.7 877.2,839.2 878.0,840.5 878.8,839.1 879.6,839.9 880.4,840.8 881.2,839.9 882.0,841.3 882.8,839.3 883.6,839.3 884.4,839.6 885.2,840.1 886.0,839.7 886.8,846.7 887.6,860.0 888.4,870.9 889.2,888.0 890.0,894.0 890.8,899.5 891.6,913.1 892.4,919.0 893.2,917.2 894.0,913.6 894.8,908.4 895.6,899.8 896.4,893.2 897.2,886.1 898.0,877.6 898.8,877.8 899.6,864.5 900.4,857.7 901.2,857.9 902.0,840.4 902.8,839.1 903.6,841.3 904.4,839.3 905.2,840.2 906.0,839.6 906.8,840.6 907.6,840.2 908.4,841.6 909.2,839.3 910.0,840.6 910.8,840.1 911.6,839.6 912.4,839.1 913.2,839.3 914.0,841.4 914.8,840.5 915.6,840.1 916.4,840.0 917.2,840.6 918.0,839.4 918.8,839.6 919.6,839.3 920.4,840.0 921.2,839.2 922.0,841.1 922.8,840.9 923.6,840.9 924.4,839.7 925.2,839.6 926.0,840.8 926.8,840.9 927.6,840.2 928.4,840.5 929.2,841.0 930.0,839.7 930.8,840.8 931.6,839.9 932.4,840.1 933.2,840.8 934.0,856.7 934.8,856.6 935.6,867.7 936.4,878.2 937.2,886.6 938.0,890.7 938.8,901.8 939.6,904.8 940.4,915.5 941.2,920.2 942.0,924.7 942.8,918.6 943.6,912.4 944.4,905.9 945.2,898.4 946.0,888.3 946.8,874.9 947.6,865.7 948.4,865.3 949.2,854.3 950.0,841.0 950.8,841.3 951.6,839.3 952.4,840.6 953.2,839.9 954.0,839.2 954.8,840.7 955.6,840.0 956.4,841.8 957.2,839.6 958.0,842.2 958.8,842.4 959.6,861.2 960.4,873.7 961.2,878.3 962.0,885.9 962.8,897.0 963.6,900.1 964.4,908.2 965.2,913.1 966.0,919.8 966.8,915.6 967.6,905.2 968.4,896.9 969.2,889.2 970.0,876.5 970.8,873.5 971.6,869.9 972.4,856.1 973.2,846.5 974.0,840.2 974.8,840.2 975.6,840.2 976.4,841.7 977.2,839.4 978.0,840.6 978.8,840.3 979.6,840.0 980.4,841.1 981.2,839.6 982.0,841.1 982.8,840.6 983.6,841.6 984.4,840.8 985.2,842.0 986.0,852.0 986.8,856.2 987.6,874.8 988.4,880.8 989.2,880.6 990.0,885.1 990.8,890.1 991.6,892.8 992.4,889.4 993.2,900.3 994.0,899.3 994.8,899.2 995.6,905.3 996.4,910.9 997.2,913.3 998.0,917.9 998.8,917.1 999.6,920.8 1000.4,924.1 1000.4,997.1 999.6,998.8 998.8,1000.6 998.0,1004.2 997.2,1011.9 996.4,1013.0 995.6,1017.6 994.8,1017.1 994.0,1022.3 993.2,1025.9 992.4,1025.9 991.6,1027.9 990.8,1036.0 990.0,1040.0 989.2,1037.9 988.4,1043.9 987.6,1055.5 986.8,1061.0 986.0,1073.5 985.2,1081.0 984.4,1082.0 983.6,1081.1 982.8,1079.8 982.0,1081.9 981.2,1081.3 980.4,1080.2 979.6,1081.7 978.8,1081.3 978.0,1080.8 977.2,1082.0 976.4,1080.3 975.6,1080.5 974.8,1081.8 974.0,1081.9 973.2,1070.1 972.4,1072.2 971.6,1052.4 970.8,1047.7 970.0,1038.0 969.2,1032.1 968.4,1025.1 967.6,1016.5 966.8,1009.3 966.0,1000.6 965.2,1006.6 964.4,1013.3 963.6,1017.0 962.8,1026.3 962.0,1037.0 961.2,1039.8 960.4,1051.2 959.6,1063.0 958.8,1067.3 958.0,1081.9 957.2,1082.1 956.4,1080.9 955.6,1081.3 954.8,1081.3 954.0,1078.8 953.2,1080.8 952.4,1080.3 951.6,1081.9 950.8,1082.1 950.0,1082.0 949.2,1065.7 948.4,1059.0 947.6,1052.1 946.8,1041.5 946.0,1031.8 945.2,1027.1 944.4,1019.2 943.6,1011.8 942.8,1002.6 942.0,994.4 941.2,1002.1 940.4,1006.5 939.6,1015.0 938.8,1023.3 938.0,1023.9 937.2,1037.6 936.4,1044.6 935.6,1046.8 934.8,1052.9 934.0,1066.8 933.2,1081.8 932.4,1081.8 931.6,1080.9 930.8,1080.9 930.0,1081.3 929.2,1081.5 928.4,1081.1 927.6,1081.4 926.8,1081.3 926.0,1081.4 925.2,1080.5 924.4,1080.4 923.6,1081.5 922.8,1081.9 922.0,1080.4 921.2,1081.3 920.4,1081.8 919.6,1079.8 918.8,1082.1 918.0,1080.7 917.2,1081.9 916.4,1079.6 915.6,1082.1 914.8,1080.8 914.0,1080.8 913.2,1082.0 912.4,1079.9 911.6,1080.2 910.8,1080.2 910.0,1080.7 909.2,1080.0 908.4,1080.8 907.6,1081.5 906.8,1082.0 906.0,1081.5 905.2,1082.1 904.4,1079.7 903.6,1081.7 902.8,1081.1 902.0,1082.0 901.2,1074.0 900.4,1056.0 899.6,1057.7 898.8,1051.7 898.0,1038.1 897.2,1035.1 896.4,1026.9 895.6,1022.2 894.8,1014.3 894.0,1010.3 893.2,999.5 892.4,998.7 891.6,1011.3 890.8,1014.6 890.0,1024.7 889.2,1037.7 888.4,1047.0 887.6,1052.1 886.8,1068.5 886.0,1081.5 885.2,1080.0 884.4,1081.8 883.6,1080.0 882.8,1080.6 882.0,1081.3 881.2,1081.6 880.4,1082.1 879.6,1080.9 878.8,1079.9 878.0,1081.4 877.2,1081.0 876.4,1066.5 875.6,1059.0 874.8,1054.2 874.0,1037.6 873.2,1037.1 872.4,1029.8 871.6,1020.8 870.8,1014.4 870.0,1003.2 869.2,1007.3 868.4,1014.1 867.6,1026.0 866.8,1035.2 866.0,1037.7 865.2,1050.1 864.4,1065.0 863.6,1077.7 862.8,1082.0 862.0,1081.8 861.2,1081.3 860.4,1080.5 859.6,1081.5 858.8,1081.2 858.0,1081.7 857.2,1078.7 856.4,1080.5 855.6,1081.4 854.8,1081.7 854.0,1081.8 853.2,1078.9 852.4,1082.1 851.6,1080.8 850.8,1082.1 850.0,1069.5 849.2,1069.0 848.4,1055.3 847.6,1047.3 846.8,1048.7 846.0,1041.7 845.2,1033.0 844.4,1031.6 843.6,1020.5 842.8,1013.8 842.0,1013.8 841.2,1012.0 840.4,1006.2 839.6,1002.7 838.8,1001.9 838.0,1000.8 837.2,1004.7 836.4,1004.4 835.6,1005.0 834.8,1006.0 834.0,1007.7 833.2,1007.0 832.4,1007.3 831.6,1010.2 830.8,1008.9 830.0,1007.8 829.2,1010.1 828.4,1013.5 827.6,1017.1 826.8,1014.8 826.0,1018.0 825.2,1020.6 824.4,1024.8 823.6,1030.4 822.8,1030.0 822.0,1028.5 821.2,1033.6 820.4,1036.3 819.6,1045.6 818.8,1042.8 818.0,1052.8 817.2,1053.7 816.4,1064.2 815.6,1066.9 814.8,1081.1 814.0,1080.2 813.2,1081.6 812.4,1081.3 811.6,1081.4 810.8,1081.2 810.0,1081.4 809.2,1080.6 808.4,1082.0 807.6,1081.5 806.8,1081.9 806.0,1081.9 805.2,1080.4 804.4,1081.4 803.6,1080.7 802.8,1068.2 802.0,1060.1 801.2,1050.0 800.4,1042.6 799.6,1033.7 798.8,1021.8 798.0,1017.2 797.2,1008.2 796.4,999.2 795.6,1002.6 794.8,1009.0 794.0,1016.0 793.2,1025.4 792.4,1029.3 791.6,1043.1 790.8,1056.3 790.0,1063.0 789.2,1069.8 788.4,1081.8 787.6,1081.2 786.8,1079.3 786.0,1080.8 785.2,1081.9 784.4,1082.0 783.6,1079.6 782.8,1082.1 782.0,1081.7 781.2,1081.3 780.4,1081.7 779.6,1068.1 778.8,1058.8 778.0,1054.4 777.2,1041.6 776.4,1036.8 775.6,1025.7 774.8,1017.1 774.0,1012.9 773.2,1000.8 772.4,996.5 771.6,1002.1 770.8,1005.6 770.0,1010.5 769.2,1018.8 768.4,1029.9 767.6,1036.0 766.8,1036.6 766.0,1052.2 765.2,1052.1 764.4,1060.2 763.6,1080.7 762.8,1082.1 762.0,1080.4 761.2,1082.0 760.4,1081.0 759.6,1080.4 758.8,1080.6 758.0,1079.5 757.2,1081.3 756.4,1081.3 755.6,1080.3 754.8,1079.0 754.0,1077.9 753.2,1081.2 752.4,1081.6 751.6,1080.9 750.8,1080.1 750.0,1081.3 749.2,1080.8 748.4,1080.3 747.6,1082.0 746.8,1080.6 746.0,1081.9 745.2,1081.5 744.4,1080.5 743.6,1081.2 742.8,1081.5 742.0,1080.4 741.2,1081.6 740.4,1079.3 739.6,1079.5 738.8,1081.1 738.0,1080.6 737.2,1081.8 736.4,1081.9 735.6,1081.3 734.8,1080.9 734.0,1081.9 733.2,1081.2 732.4,1081.9 731.6,1075.8 730.8,1057.1 730.0,1056.1 729.2,1050.7 728.4,1041.4 727.6,1040.1 726.8,1026.4 726.0,1024.3 725.2,1019.9 724.4,1007.0 723.6,1004.4 722.8,1000.2 722.0,1008.4 721.2,1014.0 720.4,1029.4 719.6,1035.5 718.8,1048.7 718.0,1050.3 717.2,1060.5 716.4,1081.4 715.6,1080.2 714.8,1081.9 714.0,1080.5 713.2,1081.0 712.4,1080.7 711.6,1081.2 710.8,1081.4 710.0,1080.1 709.2,1081.1 708.4,1077.7 707.6,1079.7 706.8,1072.9 706.0,1058.0 705.2,1055.9 704.4,1041.4 703.6,1033.9 702.8,1025.4 702.0,1023.3 701.2,1013.3 700.4,1004.0 699.6,1007.4 698.8,1012.4 698.0,1021.1 697.2,1029.4 696.4,1034.0 695.6,1045.4 694.8,1061.1 694.0,1077.4 693.2,1081.6 692.4,1081.7 691.6,1081.6 690.8,1080.9 690.0,1078.7 689.2,1080.9 688.4,1081.5 687.6,1080.3 686.8,1079.9 686.0,1081.5 685.2,1080.2 684.4,1081.3 683.6,1080.4 682.8,1082.0 682.0,1080.2 681.2,1081.2 680.4,1079.9 679.6,1068.6 678.8,1062.1 678.0,1046.4 677.2,1045.5 676.4,1035.0 675.6,1033.3 674.8,1029.0 674.0,1026.1 673.2,1018.5 672.4,1014.1 671.6,1009.3 670.8,1005.1 670.0,1001.7 669.2,1001.1 668.4,1003.2 667.6,1001.2 666.8,1004.2 666.0,1005.1 665.2,1005.5 664.4,1008.5 663.6,1004.4 662.8,1005.8 662.0,1008.9 661.2,1009.2 660.4,1008.6 659.6,1010.5 658.8,1014.6 658.0,1014.8 657.2,1017.6 656.4,1022.0 655.6,1025.4 654.8,1021.5 654.0,1023.8 653.2,1024.3 652.4,1034.1 651.6,1029.9 650.8,1037.8 650.0,1045.2 649.2,1041.3 648.4,1047.8 647.6,1059.2 646.8,1069.5 646.0,1071.5 645.2,1082.1 644.4,1078.9 643.6,1082.0 642.8,1082.0 642.0,1079.5 641.2,1081.0 640.4,1081.9 639.6,1081.8 638.8,1081.8 638.0,1080.7 637.2,1082.1 636.4,1082.1 635.6,1081.7 634.8,1081.5 634.0,1081.9 633.2,1064.0 632.4,1060.9 631.6,1055.8 630.8,1046.2 630.0,1037.6 629.2,1028.8 628.4,1017.6 627.6,1013.1 626.8,1003.7 626.0,1003.4 625.2,1009.7 624.4,1015.9 623.6,1020.1 622.8,1031.4 622.0,1041.1 621.2,1047.3 620.4,1058.4 619.6,1072.8 618.8,1081.3 618.0,1081.2 617.2,1078.7 616.4,1082.0 615.6,1081.3 614.8,1080.6 614.0,1081.7 613.2,1080.8 612.4,1080.9 611.6,1080.6 610.8,1081.1 610.0,1068.0 609.2,1058.0 608.4,1060.4 607.6,1047.9 606.8,1040.5 606.0,1029.4 605.2,1020.5 604.4,1010.5 603.6,1004.6 602.8,998.8 602.0,1001.1 601.2,1004.1 600.4,1012.9 599.6,1018.0 598.8,1024.5 598.0,1028.2 597.2,1043.1 596.4,1045.0 595.6,1053.9 594.8,1063.5 594.0,1069.8 593.2,1081.3 592.4,1080.7 591.6,1080.7 590.8,1081.4 590.0,1080.5 589.2,1081.8 588.4,1082.0 587.6,1081.9 586.8,1080.2 586.0,1081.8 585.2,1080.0 584.4,1078.8 583.6,1081.9 582.8,1082.0 582.0,1081.0 581.2,1081.5 580.4,1081.7 579.6,1080.9 578.8,1080.6 578.0,1082.0 577.2,1081.5 576.4,1080.9 575.6,1079.8 574.8,1082.1 574.0,1081.2 573.2,1082.0 572.4,1081.8 571.6,1081.3 570.8,1081.4 570.0,1079.9 569.2,1080.9 568.4,1081.3 567.6,1081.0 566.8,1080.9 566.0,1080.2 565.2,1082.0 564.4,1081.3 563.6,1081.2 562.8,1080.0 562.0,1065.5 561.2,1057.3 560.4,1063.4 559.6,1050.0 558.8,1040.9 558.0,1037.3 557.2,1032.7 556.4,1023.3 555.6,1019.4 554.8,1012.7 554.0,1003.6 553.2,999.4 552.4,1004.1 551.6,1018.5 550.8,1020.2 550.0,1035.5 549.2,1045.3 548.4,1055.2 547.6,1067.9 546.8,1080.2 546.0,1081.9 545.2,1081.9 544.4,1081.8 543.6,1082.1 542.8,1081.9 542.0,1081.0 541.2,1081.1 540.4,1080.9 539.6,1080.2 538.8,1081.1 538.0,1080.4 537.2,1077.6 536.4,1066.6 535.6,1050.6 534.8,1049.1 534.0,1038.1 533.2,1030.7 532.4,1025.5 531.6,1013.8 530.8,1004.5 530.0,1005.0 529.2,1010.3 528.4,1019.7 527.6,1026.2 526.8,1039.5 526.0,1051.2 525.2,1060.7 524.4,1076.6 523.6,1081.4 522.8,1080.7 522.0,1082.0 521.2,1081.4 520.4,1079.9 519.6,1080.2 518.8,1081.1 518.0,1081.7 517.2,1080.2 516.4,1080.6 515.6,1081.0 514.8,1082.1 514.0,1081.7 513.2,1081.9 512.4,1081.5 511.6,1081.4 510.8,1081.2 510.0,1064.1 509.2,1060.4 508.4,1050.6 507.6,1041.7 506.8,1039.9 506.0,1033.7 505.2,1027.6 504.4,1024.0 503.6,1017.4 502.8,1011.3 502.0,1013.0 501.2,1007.3 500.4,1005.5 499.6,1003.7 498.8,999.3 498.0,996.4 497.2,996.4 496.4,991.7 495.6,991.5 494.8,991.7 494.0,989.7 493.2,987.8 492.4,989.5 491.6,988.9Z" fill="#bdd68c"/>
<path d="M491.6,932.0 492.4,936.8 493.2,935.7 494.0,934.9 494.8,935.9 495.6,936.5 496.4,933.8 497.2,926.7 498.0,930.9 498.8,926.1 499.6,933.3 500.4,934.6 501.2,932.5 502.0,933.7 502.8,932.2 503.6,924.8 504.4,925.3 505.2,924.8 506.0,926.5 506.8,924.8 507.6,917.0 508.4,924.0 509.2,906.7 510.0,912.7 510.8,911.6 511.6,914.3 512.4,893.4 513.2,890.4 514.0,900.9 514.8,882.1 515.6,900.0 516.4,895.3 517.2,897.4 518.0,904.0 518.8,899.7 519.6,902.6 520.4,901.5 521.2,911.9 522.0,901.7 522.8,902.2 523.6,906.8 524.4,920.6 525.2,912.8 526.0,917.8 526.8,925.7 527.6,925.3 528.4,927.3 529.2,927.2 530.0,926.1 530.8,930.1 531.6,930.8 532.4,928.6 533.2,925.8 534.0,917.8 534.8,920.2 535.6,909.7 536.4,903.7 537.2,900.3 538.0,906.2 538.8,892.0 539.6,905.1 540.4,904.1 541.2,896.6 542.0,882.0 542.8,886.8 543.6,897.1 544.4,898.3 545.2,899.9 546.0,910.0 546.8,900.8 547.6,910.3 548.4,915.4 549.2,922.4 550.0,918.9 550.8,926.3 551.6,930.9 552.4,928.1 553.2,926.3 554.0,928.1 554.8,931.1 555.6,928.9 556.4,914.5 557.2,924.1 558.0,916.6 558.8,912.1 559.6,918.4 560.4,911.6 561.2,903.5 562.0,897.8 562.8,895.3 563.6,890.1 564.4,894.1 565.2,907.6 566.0,889.6 566.8,890.4 567.6,891.9 568.4,895.8 569.2,891.0 570.0,887.5 570.8,874.0 571.6,869.0 572.4,895.1 573.2,871.4 574.0,890.8 574.8,898.6 575.6,898.2 576.4,882.6 577.2,901.9 578.0,878.8 578.8,892.1 579.6,884.5 580.4,881.1 581.2,900.7 582.0,882.8 582.8,899.0 583.6,879.0 584.4,879.1 585.2,898.1 586.0,901.8 586.8,899.0 587.6,895.8 588.4,880.2 589.2,884.5 590.0,896.9 590.8,895.8 591.6,895.9 592.4,901.8 593.2,913.4 594.0,906.7 594.8,908.0 595.6,909.3 596.4,922.0 597.2,913.4 598.0,920.4 598.8,927.2 599.6,925.4 600.4,929.6 601.2,923.9 602.0,934.4 602.8,927.6 603.6,931.3 604.4,920.4 605.2,928.7 606.0,912.4 606.8,917.7 607.6,912.3 608.4,906.5 609.2,912.2 610.0,914.6 610.8,905.4 611.6,903.9 612.4,888.3 613.2,890.5 614.0,897.3 614.8,893.6 615.6,875.2 616.4,885.6 617.2,902.7 618.0,904.0 618.8,906.7 619.6,913.6 620.4,912.6 621.2,909.8 622.0,909.9 622.8,919.4 623.6,915.8 624.4,929.7 625.2,922.7 626.0,926.6 626.8,926.1 627.6,931.0 628.4,928.4 629.2,923.6 630.0,918.5 630.8,911.8 631.6,909.7 632.4,919.8 633.2,916.8 634.0,912.6 634.8,908.5 635.6,910.3 636.4,891.6 637.2,894.5 638.0,907.4 638.8,891.8 639.6,904.3 640.4,894.4 641.2,910.5 642.0,905.7 642.8,916.5 643.6,903.2 644.4,920.4 645.2,908.4 646.0,920.3 646.8,921.3 647.6,924.4 648.4,917.7 649.2,922.8 650.0,930.2 650.8,927.7 651.6,927.0 652.4,931.2 653.2,922.7 654.0,928.3 654.8,928.3 655.6,932.8 656.4,929.9 657.2,935.2 658.0,931.9 658.8,928.5 659.6,931.4 660.4,931.0 661.2,936.6 662.0,934.8 662.8,937.2 663.6,930.4 664.4,932.1 665.2,934.2 666.0,926.9 666.8,932.9 667.6,932.3 668.4,925.7 669.2,930.9 670.0,928.8 670.8,926.7 671.6,934.2 672.4,933.4 673.2,931.9 674.0,921.0 674.8,918.3 675.6,927.1 676.4,916.8 677.2,921.3 678.0,911.2 678.8,914.7 679.6,905.4 680.4,900.0 681.2,898.1 682.0,892.1 682.8,908.1 683.6,907.5 684.4,895.2 685.2,892.8 686.0,897.8 686.8,897.9 687.6,902.0 688.4,893.9 689.2,905.1 690.0,907.6 690.8,911.5 691.6,898.7 692.4,900.7 693.2,916.3 694.0,908.2 694.8,921.3 695.6,913.1 696.4,926.0 697.2,928.1 698.0,920.4 698.8,933.1 699.6,934.7 700.4,929.5 701.2,924.1 702.0,927.6 702.8,922.6 703.6,922.7 704.4,919.6 705.2,910.3 706.0,916.7 706.8,908.1 707.6,909.6 708.4,895.1 709.2,889.1 710.0,890.7 710.8,900.7 711.6,890.3 712.4,875.7 713.2,894.8 714.0,884.8 714.8,886.4 715.6,895.4 716.4,897.1 717.2,917.4 718.0,913.9 718.8,922.6 719.6,918.1 720.4,924.9 721.2,918.0 722.0,931.5 722.8,926.2 723.6,929.5 724.4,931.1 725.2,925.2 726.0,916.1 726.8,922.7 727.6,915.4 728.4,910.5 729.2,906.8 730.0,911.0 730.8,901.5 731.6,910.0 732.4,912.6 733.2,894.0 734.0,899.9 734.8,901.4 735.6,895.0 736.4,902.0 737.2,887.4 738.0,896.9 738.8,896.6 739.6,868.8 740.4,878.0 741.2,872.3 742.0,872.5 742.8,877.5 743.6,871.5 744.4,897.8 745.2,892.2 746.0,900.2 746.8,885.0 747.6,888.5 748.4,891.0 749.2,902.3 750.0,901.6 750.8,880.2 751.6,898.8 752.4,886.3 753.2,895.5 754.0,894.2 754.8,901.5 755.6,903.0 756.4,885.4 757.2,902.0 758.0,899.9 758.8,892.2 759.6,885.3 760.4,904.4 761.2,892.2 762.0,902.6 762.8,911.3 763.6,911.8 764.4,913.3 765.2,918.2 766.0,921.2 766.8,907.9 767.6,923.6 768.4,923.9 769.2,917.2 770.0,928.9 770.8,931.9 771.6,923.6 772.4,934.9 773.2,925.6 774.0,929.9 774.8,920.7 775.6,926.0 776.4,922.4 777.2,917.3 778.0,918.3 778.8,917.8 779.6,914.9 780.4,893.2 781.2,906.5 782.0,904.5 782.8,902.7 783.6,894.7 784.4,882.6 785.2,891.4 786.0,897.1 786.8,903.3 787.6,907.2 788.4,890.2 789.2,906.4 790.0,903.9 790.8,910.8 791.6,922.8 792.4,911.9 793.2,923.9 794.0,916.7 794.8,922.8 795.6,933.9 796.4,925.1 797.2,932.7 798.0,919.9 798.8,928.3 799.6,919.7 800.4,922.7 801.2,923.9 802.0,911.7 802.8,903.8 803.6,901.7 804.4,916.4 805.2,901.7 806.0,909.4 806.8,904.1 807.6,899.5 808.4,901.9 809.2,905.2 810.0,906.5 810.8,904.6 811.6,896.6 812.4,915.8 813.2,915.5 814.0,914.8 814.8,921.6 815.6,909.6 816.4,916.6 817.2,926.9 818.0,918.7 818.8,924.1 819.6,924.8 820.4,923.2 821.2,921.9 822.0,923.3 822.8,923.6 823.6,928.5 824.4,931.2 825.2,925.1 826.0,930.5 826.8,930.3 827.6,933.9 828.4,934.9 829.2,930.2 830.0,932.9 830.8,935.4 831.6,931.2 832.4,936.7 833.2,933.2 834.0,934.6 834.8,929.5 835.6,932.3 836.4,935.1 837.2,935.5 838.0,926.5 838.8,927.1 839.6,935.2 840.4,932.7 841.2,932.3 842.0,933.0 842.8,927.9 843.6,931.0 844.4,917.4 845.2,927.6 846.0,917.4 846.8,920.6 847.6,911.6 848.4,912.8 849.2,913.2 850.0,910.2 850.8,913.1 851.6,902.6 852.4,893.2 853.2,886.8 854.0,905.6 854.8,898.9 855.6,891.7 856.4,876.2 857.2,899.0 858.0,903.1 858.8,900.1 859.6,903.2 860.4,907.8 861.2,896.0 862.0,915.7 862.8,910.6 863.6,914.1 864.4,920.4 865.2,916.8 866.0,914.5 866.8,925.5 867.6,918.7 868.4,925.3 869.2,935.4 870.0,932.6 870.8,920.3 871.6,929.2 872.4,919.5 873.2,920.3 874.0,920.6 874.8,920.1 875.6,904.4 876.4,904.3 877.2,896.5 878.0,910.5 878.8,908.8 879.6,906.3 880.4,904.2 881.2,879.8 882.0,891.4 882.8,896.7 883.6,896.9 884.4,899.4 885.2,902.2 886.0,900.0 886.8,915.2 887.6,907.8 888.4,910.1 889.2,911.1 890.0,917.0 890.8,924.6 891.6,921.8 892.4,933.0 893.2,929.1 894.0,930.3 894.8,928.9 895.6,928.0 896.4,925.7 897.2,922.8 898.0,906.7 898.8,918.2 899.6,917.1 900.4,910.7 901.2,905.6 902.0,901.6 902.8,902.3 903.6,908.3 904.4,897.1 905.2,901.4 906.0,881.1 906.8,902.4 907.6,890.7 908.4,896.7 909.2,869.7 910.0,880.4 910.8,890.3 911.6,885.1 912.4,887.1 913.2,873.6 914.0,879.9 914.8,890.2 915.6,900.3 916.4,881.7 917.2,895.2 918.0,892.6 918.8,895.8 919.6,891.4 920.4,898.9 921.2,899.9 922.0,883.3 922.8,902.1 923.6,899.3 924.4,887.6 925.2,898.1 926.0,894.7 926.8,894.3 927.6,880.9 928.4,896.3 929.2,889.5 930.0,908.5 930.8,895.2 931.6,894.7 932.4,907.0 933.2,915.9 934.0,909.2 934.8,917.8 935.6,914.4 936.4,922.5 937.2,920.9 938.0,926.0 938.8,918.4 939.6,928.8 940.4,926.3 941.2,928.0 942.0,925.1 942.8,933.6 943.6,929.5 944.4,924.7 945.2,913.5 946.0,911.9 946.8,910.5 947.6,920.8 948.4,906.1 949.2,905.9 950.0,910.8 950.8,893.6 951.6,905.6 952.4,900.1 953.2,881.9 954.0,889.0 954.8,892.0 955.6,899.6 956.4,889.8 957.2,900.6 958.0,906.6 958.8,897.2 959.6,905.7 960.4,911.1 961.2,907.6 962.0,913.1 962.8,921.1 963.6,925.3 964.4,921.5 965.2,923.4 966.0,933.2 966.8,933.9 967.6,923.2 968.4,929.6 969.2,918.9 970.0,915.7 970.8,923.1 971.6,912.5 972.4,917.1 973.2,906.2 974.0,905.0 974.8,898.4 975.6,902.1 976.4,906.0 977.2,889.9 978.0,892.7 978.8,896.0 979.6,902.5 980.4,891.1 981.2,912.1 982.0,901.8 982.8,915.7 983.6,905.8 984.4,918.0 985.2,912.8 986.0,920.0 986.8,916.4 987.6,924.3 988.4,916.8 989.2,923.8 990.0,931.7 990.8,929.4 991.6,928.8 992.4,931.9 993.2,926.3 994.0,932.0 994.8,933.9 995.6,932.5 996.4,929.7 997.2,930.7 998.0,929.7 998.8,935.4 999.6,927.9 1000.4,937.1 1000.4,985.2 999.6,984.2 998.8,987.9 998.0,993.8 997.2,986.0 996.4,988.1 995.6,987.7 994.8,986.8 994.0,996.4 993.2,988.6 992.4,991.8 991.6,996.3 990.8,998.5 990.0,989.2 989.2,996.5 988.4,995.2 987.6,993.2 986.8,1005.0 986.0,1003.9 985.2,1011.9 984.4,1003.1 983.6,1008.9 982.8,1017.5 982.0,1005.7 981.2,1019.3 980.4,1011.8 979.6,1016.8 978.8,1021.4 978.0,1027.5 977.2,1014.4 976.4,1020.7 975.6,1017.1 974.8,1016.5 974.0,1008.3 973.2,1005.4 972.4,1017.2 971.6,1012.0 970.8,998.9 970.0,996.5 969.2,1005.5 968.4,1000.0 967.6,990.1 966.8,990.4 966.0,985.5 965.2,988.0 964.4,990.6 963.6,1003.7 962.8,998.1 962.0,1006.6 961.2,1010.0 960.4,1008.5 959.6,1010.9 958.8,1023.4 958.0,1017.9 957.2,1016.3 956.4,1025.6 955.6,1023.1 954.8,1042.7 954.0,1028.5 953.2,1023.0 952.4,1035.5 951.6,1021.6 950.8,1030.8 950.0,1012.4 949.2,1018.3 948.4,1004.0 947.6,1010.3 946.8,1003.4 946.0,999.5 945.2,1007.8 944.4,994.3 943.6,990.3 942.8,991.5 942.0,985.6 941.2,998.6 940.4,994.7 939.6,994.3 938.8,1004.8 938.0,994.6 937.2,1011.0 936.4,1009.0 935.6,1007.5 934.8,1008.5 934.0,1004.5 933.2,1010.0 932.4,1010.7 931.6,1016.1 930.8,1014.0 930.0,1013.6 929.2,1031.0 928.4,1029.5 927.6,1019.1 926.8,1034.5 926.0,1029.0 925.2,1039.3 924.4,1029.6 923.6,1019.1 922.8,1028.2 922.0,1020.6 921.2,1034.5 920.4,1020.8 919.6,1022.3 918.8,1019.7 918.0,1020.3 917.2,1019.7 916.4,1044.5 915.6,1023.5 914.8,1026.4 914.0,1023.6 913.2,1039.0 912.4,1040.0 911.6,1034.1 910.8,1033.7 910.0,1037.4 909.2,1047.5 908.4,1027.6 907.6,1039.6 906.8,1037.5 906.0,1032.6 905.2,1020.7 904.4,1016.6 903.6,1029.0 902.8,1021.5 902.0,1010.0 901.2,1007.3 900.4,1005.3 899.6,1006.3 898.8,1002.3 898.0,1002.7 897.2,997.3 896.4,998.8 895.6,994.5 894.8,998.8 894.0,1001.0 893.2,987.2 892.4,989.4 891.6,995.7 890.8,998.4 890.0,993.5 889.2,1000.8 888.4,1001.4 887.6,1017.4 886.8,1014.4 886.0,1024.1 885.2,1031.5 884.4,1030.1 883.6,1019.2 882.8,1022.2 882.0,1022.0 881.2,1020.1 880.4,1034.1 879.6,1030.7 878.8,1018.5 878.0,1019.1 877.2,1011.0 876.4,1024.2 875.6,1017.6 874.8,1001.1 874.0,1012.4 873.2,1000.8 872.4,1002.4 871.6,992.4 870.8,991.2 870.0,987.5 869.2,994.6 868.4,992.3 867.6,992.6 866.8,993.0 866.0,996.2 865.2,1003.6 864.4,1001.7 863.6,1013.1 862.8,1003.5 862.0,1014.1 861.2,1011.8 860.4,1013.7 859.6,1018.7 858.8,1026.1 858.0,1017.1 857.2,1021.9 856.4,1035.4 855.6,1045.0 854.8,1028.9 854.0,1023.9 853.2,1017.9 852.4,1023.3 851.6,1019.4 850.8,1006.9 850.0,1009.2 849.2,1000.9 848.4,1000.5 847.6,1002.6 846.8,997.1 846.0,997.4 845.2,995.1 844.4,995.6 843.6,994.3 842.8,997.1 842.0,987.8 841.2,997.0 840.4,988.2 839.6,994.1 838.8,987.5 838.0,988.2 837.2,992.2 836.4,985.9 835.6,988.3 834.8,984.7 834.0,992.7 833.2,985.5 832.4,984.4 831.6,985.7 830.8,987.7 830.0,993.0 829.2,993.9 828.4,994.0 827.6,985.3 826.8,993.0 826.0,990.8 825.2,986.9 824.4,993.0 823.6,994.0 822.8,993.5 822.0,993.2 821.2,990.7 820.4,998.9 819.6,1000.3 818.8,996.3 818.0,1004.9 817.2,1000.6 816.4,1002.7 815.6,1000.5 814.8,1003.1 814.0,999.5 813.2,1004.2 812.4,1016.4 811.6,1008.1 810.8,1011.1 810.0,1016.7 809.2,1017.0 808.4,1027.6 807.6,1016.5 806.8,1015.1 806.0,1028.5 805.2,1014.0 804.4,1010.7 803.6,1013.3 802.8,1003.8 802.0,1007.6 801.2,1008.4 800.4,995.2 799.6,995.8 798.8,1003.4 798.0,992.4 797.2,992.3 796.4,991.0 795.6,993.0 794.8,997.7 794.0,998.2 793.2,999.4 792.4,1000.4 791.6,1007.2 790.8,1005.0 790.0,1005.8 789.2,1016.5 788.4,1014.0 787.6,1031.7 786.8,1039.0 786.0,1038.5 785.2,1045.3 784.4,1030.0 783.6,1020.6 782.8,1027.6 782.0,1018.8 781.2,1012.4 780.4,1012.8 779.6,1017.2 778.8,1004.8 778.0,1013.5 777.2,1014.5 776.4,1005.3 775.6,994.4 774.8,999.1 774.0,995.9 773.2,991.6 772.4,989.6 771.6,994.9 770.8,999.4 770.0,1001.5 769.2,993.3 768.4,999.5 767.6,996.9 766.8,998.7 766.0,1010.8 765.2,1002.6 764.4,1012.4 763.6,1008.7 762.8,1006.7 762.0,1014.8 761.2,1019.9 760.4,1013.2 759.6,1014.5 758.8,1021.4 758.0,1024.4 757.2,1031.9 756.4,1039.5 755.6,1039.4 754.8,1033.8 754.0,1040.8 753.2,1030.6 752.4,1029.7 751.6,1024.0 750.8,1028.0 750.0,1038.9 749.2,1019.1 748.4,1019.1 747.6,1020.9 746.8,1029.4 746.0,1025.5 745.2,1022.7 744.4,1034.0 743.6,1025.9 742.8,1031.0 742.0,1026.4 741.2,1034.9 740.4,1035.7 739.6,1031.3 738.8,1048.3 738.0,1021.3 737.2,1029.0 736.4,1033.9 735.6,1015.0 734.8,1015.6 734.0,1016.7 733.2,1011.2 732.4,1008.4 731.6,1017.4 730.8,1009.7 730.0,1006.0 729.2,1005.4 728.4,1009.2 727.6,1008.9 726.8,1008.8 726.0,997.8 725.2,992.5 724.4,989.3 723.6,991.4 722.8,990.2 722.0,989.7 721.2,997.1 720.4,995.4 719.6,996.1 718.8,1009.0 718.0,1001.7 717.2,1011.2 716.4,1017.2 715.6,1026.2 714.8,1013.7 714.0,1037.2 713.2,1039.6 712.4,1043.3 711.6,1020.8 710.8,1021.0 710.0,1021.3 709.2,1027.3 708.4,1010.2 707.6,1011.0 706.8,1019.2 706.0,1012.0 705.2,1008.6 704.4,1009.4 703.6,999.1 702.8,1007.6 702.0,997.1 701.2,991.6 700.4,998.1 699.6,996.2 698.8,991.9 698.0,989.9 697.2,998.8 696.4,1007.7 695.6,997.8 694.8,1010.1 694.0,1001.9 693.2,1005.0 692.4,1014.2 691.6,1021.5 690.8,1009.8 690.0,1025.0 689.2,1017.8 688.4,1038.8 687.6,1040.9 686.8,1038.1 686.0,1028.0 685.2,1039.4 684.4,1019.2 683.6,1026.9 682.8,1019.0 682.0,1021.9 681.2,1010.4 680.4,1013.3 679.6,1002.0 678.8,1014.1 678.0,997.5 677.2,1007.2 676.4,998.5 675.6,1000.1 674.8,995.2 674.0,990.6 673.2,992.9 672.4,987.8 671.6,992.3 670.8,996.0 670.0,987.1 669.2,987.2 668.4,987.2 667.6,993.0 666.8,992.5 666.0,994.7 665.2,986.6 664.4,986.7 663.6,984.3 662.8,984.7 662.0,985.2 661.2,988.8 660.4,984.4 659.6,987.0 658.8,991.0 658.0,986.0 657.2,993.0 656.4,988.3 655.6,993.1 654.8,986.6 654.0,987.2 653.2,988.1 652.4,996.5 651.6,995.7 650.8,990.3 650.0,992.2 649.2,1002.5 648.4,993.5 647.6,1005.8 646.8,995.5 646.0,1000.0 645.2,1004.4 644.4,1003.4 643.6,1014.7 642.8,1015.9 642.0,1026.0 641.2,1024.0 640.4,1029.5 639.6,1025.9 638.8,1031.4 638.0,1016.6 637.2,1023.8 636.4,1023.7 635.6,1009.5 634.8,1013.4 634.0,1003.4 633.2,1004.7 632.4,1001.9 631.6,1001.2 630.8,1005.2 630.0,1003.3 629.2,1001.0 628.4,990.8 627.6,996.0 626.8,993.0 626.0,988.3 625.2,996.9 624.4,996.4 623.6,1000.5 622.8,999.6 622.0,1013.7 621.2,1001.9 620.4,1004.7 619.6,1017.1 618.8,1009.6 618.0,1018.8 617.2,1021.5 616.4,1028.0 615.6,1030.5 614.8,1025.8 614.0,1044.4 613.2,1028.8 612.4,1025.7 611.6,1017.8 610.8,1021.8 610.0,1007.6 609.2,1005.5 608.4,1002.3 607.6,999.0 606.8,1005.1 606.0,1001.7 605.2,995.6 604.4,996.9 603.6,993.3 602.8,987.7 602.0,987.5 601.2,995.6 600.4,990.3 599.6,1000.4 598.8,998.2 598.0,999.9 597.2,1000.8 596.4,1001.8 595.6,1004.8 594.8,1003.3 594.0,1006.0 593.2,1015.0 592.4,1021.2 591.6,1028.2 590.8,1017.2 590.0,1029.2 589.2,1016.5 588.4,1028.7 587.6,1017.8 586.8,1024.6 586.0,1037.8 585.2,1019.1 584.4,1018.8 583.6,1026.9 582.8,1026.4 582.0,1019.2 581.2,1024.1 580.4,1020.4 579.6,1027.8 578.8,1038.0 578.0,1039.5 577.2,1032.9 576.4,1039.0 575.6,1020.9 574.8,1041.5 574.0,1045.6 573.2,1039.1 572.4,1027.1 571.6,1042.2 570.8,1045.2 570.0,1027.4 569.2,1043.4 568.4,1028.1 567.6,1024.5 566.8,1022.0 566.0,1027.1 565.2,1036.2 564.4,1027.8 563.6,1019.1 562.8,1012.9 562.0,1026.6 561.2,1011.7 560.4,1013.0 559.6,1003.1 558.8,1016.8 558.0,1002.0 557.2,1000.0 556.4,994.0 555.6,999.5 554.8,991.9 554.0,990.9 553.2,987.3 552.4,988.7 551.6,1000.7 550.8,1002.4 550.0,995.7 549.2,1005.9 548.4,1002.5 547.6,1014.3 546.8,1006.0 546.0,1012.7 545.2,1020.2 544.4,1033.1 543.6,1022.2 542.8,1026.3 542.0,1021.2 541.2,1018.7 540.4,1016.0 539.6,1013.3 538.8,1016.9 538.0,1018.9 537.2,1005.9 536.4,1019.8 535.6,1013.5 534.8,1001.5 534.0,1009.8 533.2,1002.1 532.4,997.2 531.6,990.6 530.8,989.6 530.0,986.8 529.2,987.3 528.4,993.0 527.6,995.4 526.8,994.9 526.0,999.2 525.2,1003.7 524.4,1000.6 523.6,1010.0 522.8,1010.0 522.0,1024.9 521.2,1009.0 520.4,1011.2 519.6,1024.0 518.8,1018.7 518.0,1017.2 517.2,1031.8 516.4,1031.0 515.6,1019.1 514.8,1017.5 514.0,1033.9 513.2,1020.1 512.4,1009.6 511.6,1011.6 510.8,1021.3 510.0,1008.5 509.2,1003.9 508.4,1003.5 507.6,1000.0 506.8,1003.1 506.0,993.7 505.2,992.2 504.4,1000.4 503.6,990.4 502.8,990.1 502.0,988.4 501.2,987.9 500.4,986.0 499.6,995.4 498.8,996.0 498.0,986.4 497.2,986.4 496.4,988.6 495.6,990.7 494.8,986.6 494.0,994.0 493.2,984.1 492.4,983.9 491.6,992.4Z" fill="#9ac9d9"/>
<path d="M491.6,932.0 492.4,930.3 493.2,926.1 494.0,934.3 494.8,933.7 495.6,933.5 496.4,930.5 497.2,932.2 498.0,933.3 498.8,930.9 499.6,934.2 500.4,924.9 501.2,931.5 502.0,924.4 502.8,933.1 503.6,931.0 504.4,926.5 505.2,934.2 506.0,930.3 506.8,932.2 507.6,931.7 508.4,931.2 509.2,933.6 510.0,933.8 510.8,932.8 511.6,932.8 512.4,933.6 513.2,931.0 514.0,931.5 514.8,934.4 515.6,932.8 516.4,924.2 517.2,930.4 518.0,930.9 518.8,934.3 519.6,930.7 520.4,930.8 521.2,931.5 522.0,932.6 522.8,930.6 523.6,932.6 524.4,934.3 525.2,934.2 526.0,932.5 526.8,930.3 527.6,933.2 528.4,931.8 529.2,934.3 530.0,933.9 530.8,930.6 531.6,932.8 532.4,933.7 533.2,933.8 534.0,930.2 534.8,934.3 535.6,928.9 536.4,931.5 537.2,933.2 538.0,931.2 538.8,927.5 539.6,932.5 540.4,931.6 541.2,933.5 542.0,930.9 542.8,931.9 543.6,933.6 544.4,932.8 545.2,930.7 546.0,934.2 546.8,931.3 547.6,932.7 548.4,930.9 549.2,934.3 550.0,924.8 550.8,931.3 551.6,930.7 552.4,932.3 553.2,932.6 554.0,932.7 554.8,932.4 555.6,932.8 556.4,932.3 557.2,931.9 558.0,930.3 558.8,930.7 559.6,933.8 560.4,928.3 561.2,932.3 562.0,930.6 562.8,932.7 563.6,933.1 564.4,931.1 565.2,923.8 566.0,932.9 566.8,930.4 567.6,931.8 568.4,934.3 569.2,932.9 570.0,933.2 570.8,933.7 571.6,934.4 572.4,932.8 573.2,934.2 574.0,933.4 574.8,930.8 575.6,930.3 576.4,933.0 577.2,931.7 578.0,927.3 578.8,931.9 579.6,931.9 580.4,934.3 581.2,931.0 582.0,933.7 582.8,932.5 583.6,932.3 584.4,930.8 585.2,933.1 586.0,930.6 586.8,929.3 587.6,931.6 588.4,933.9 589.2,932.0 590.0,931.2 590.8,934.3 591.6,923.8 592.4,930.6 593.2,934.1 594.0,934.4 594.8,933.0 595.6,931.1 596.4,933.2 597.2,934.3 598.0,932.3 598.8,931.3 599.6,934.5 600.4,933.4 601.2,932.7 602.0,931.9 602.8,932.1 603.6,930.4 604.4,933.6 605.2,933.0 606.0,931.4 606.8,933.8 607.6,933.1 608.4,931.8 609.2,933.8 610.0,932.7 610.8,933.7 611.6,933.1 612.4,931.5 613.2,934.2 614.0,932.7 614.8,932.1 615.6,934.1 616.4,931.7 617.2,930.4 618.0,933.8 618.8,930.2 619.6,931.6 620.4,932.1 621.2,934.1 622.0,934.5 622.8,930.4 623.6,930.6 624.4,933.2 625.2,934.1 626.0,933.1 626.8,930.7 627.6,932.6 628.4,931.7 629.2,931.7 630.0,932.0 630.8,933.1 631.6,931.9 632.4,933.9 633.2,923.0 634.0,932.9 634.8,929.8 635.6,933.5 636.4,931.8 637.2,925.7 638.0,933.1 638.8,933.2 639.6,929.0 640.4,932.9 641.2,931.3 642.0,930.3 642.8,932.6 643.6,931.2 644.4,931.2 645.2,926.2 646.0,926.1 646.8,932.7 647.6,934.3 648.4,931.6 649.2,930.8 650.0,933.0 650.8,932.5 651.6,931.1 652.4,933.8 653.2,933.6 654.0,931.0 654.8,934.3 655.6,933.0 656.4,930.8 657.2,932.5 658.0,933.0 658.8,933.1 659.6,930.8 660.4,934.2 661.2,931.2 662.0,930.8 662.8,931.7 663.6,934.3 664.4,931.7 665.2,931.9 666.0,930.7 666.8,930.6 667.6,931.9 668.4,932.9 669.2,922.2 670.0,930.9 670.8,934.1 671.6,933.2 672.4,934.1 673.2,933.7 674.0,932.7 674.8,931.4 675.6,933.7 676.4,931.2 677.2,930.4 678.0,927.6 678.8,933.0 679.6,930.7 680.4,931.8 681.2,933.4 682.0,932.4 682.8,932.3 683.6,930.5 684.4,931.1 685.2,931.0 686.0,933.0 686.8,934.1 687.6,933.7 688.4,933.3 689.2,934.2 690.0,934.1 690.8,933.0 691.6,933.3 692.4,932.9 693.2,931.4 694.0,933.6 694.8,929.3 695.6,931.2 696.4,932.9 697.2,932.8 698.0,933.9 698.8,931.1 699.6,933.4 700.4,933.9 701.2,934.2 702.0,923.1 702.8,928.4 703.6,931.0 704.4,933.1 705.2,930.6 706.0,933.7 706.8,931.9 707.6,933.6 708.4,929.3 709.2,930.9 710.0,933.4 710.8,931.3 711.6,934.1 712.4,929.3 713.2,932.4 714.0,925.3 714.8,932.0 715.6,932.1 716.4,925.1 717.2,932.5 718.0,932.6 718.8,934.2 719.6,933.7 720.4,931.0 721.2,934.2 722.0,931.9 722.8,930.9 723.6,932.8 724.4,929.2 725.2,931.8 726.0,934.3 726.8,931.0 727.6,934.4 728.4,932.4 729.2,932.3 730.0,924.3 730.8,933.4 731.6,933.0 732.4,930.4 733.2,932.1 734.0,934.3 734.8,931.5 735.6,934.2 736.4,932.0 737.2,934.2 738.0,930.5 738.8,931.6 739.6,932.1 740.4,931.8 741.2,930.9 742.0,931.5 742.8,930.9 743.6,932.5 744.4,931.7 745.2,932.2 746.0,931.3 746.8,931.4 747.6,922.6 748.4,930.3 749.2,934.4 750.0,934.0 750.8,934.2 751.6,930.5 752.4,930.6 753.2,930.1 754.0,930.5 754.8,931.7 755.6,922.2 756.4,930.5 757.2,934.3 758.0,932.7 758.8,931.4 759.6,930.7 760.4,930.3 761.2,934.4 762.0,931.5 762.8,932.8 763.6,928.4 764.4,931.3 765.2,931.6 766.0,931.2 766.8,924.4 767.6,931.2 768.4,931.8 769.2,933.1 770.0,930.3 770.8,928.0 771.6,930.3 772.4,930.8 773.2,924.7 774.0,930.9 774.8,931.8 775.6,933.6 776.4,930.3 777.2,933.1 778.0,932.7 778.8,931.6 779.6,931.2 780.4,931.8 781.2,932.4 782.0,933.3 782.8,930.9 783.6,933.2 784.4,925.3 785.2,931.3 786.0,930.8 786.8,932.3 787.6,932.7 788.4,931.2 789.2,934.2 790.0,931.6 790.8,934.2 791.6,931.2 792.4,933.3 793.2,931.1 794.0,930.9 794.8,930.3 795.6,933.1 796.4,932.5 797.2,927.6 798.0,932.9 798.8,930.5 799.6,926.9 800.4,933.2 801.2,934.4 802.0,934.3 802.8,931.5 803.6,933.4 804.4,930.5 805.2,934.4 806.0,930.5 806.8,934.3 807.6,930.4 808.4,930.2 809.2,933.9 810.0,932.8 810.8,933.6 811.6,931.9 812.4,931.1 813.2,933.0 814.0,930.9 814.8,933.9 815.6,932.8 816.4,933.9 817.2,933.4 818.0,934.0 818.8,928.1 819.6,932.7 820.4,933.1 821.2,933.9 822.0,929.0 822.8,931.6 823.6,930.3 824.4,933.4 825.2,932.6 826.0,933.5 826.8,932.7 827.6,931.4 828.4,932.0 829.2,932.7 830.0,932.3 830.8,926.0 831.6,931.2 832.4,931.4 833.2,930.4 834.0,933.4 834.8,933.8 835.6,933.1 836.4,932.0 837.2,931.8 838.0,930.9 838.8,931.5 839.6,933.7 840.4,931.3 841.2,931.9 842.0,932.9 842.8,928.2 843.6,930.7 844.4,930.2 845.2,929.2 846.0,934.0 846.8,931.7 847.6,933.0 848.4,934.1 849.2,929.6 850.0,934.1 850.8,932.9 851.6,931.9 852.4,931.3 853.2,933.5 854.0,933.7 854.8,930.9 855.6,922.9 856.4,933.0 857.2,934.4 858.0,932.0 858.8,931.8 859.6,930.4 860.4,933.8 861.2,931.6 862.0,930.3 862.8,933.6 863.6,931.8 864.4,932.1 865.2,933.5 866.0,932.0 866.8,933.6 867.6,932.6 868.4,931.0 869.2,933.5 870.0,933.9 870.8,933.6 871.6,931.9 872.4,931.5 873.2,931.8 874.0,932.2 874.8,931.7 875.6,933.2 876.4,933.6 877.2,932.2 878.0,931.3 878.8,931.2 879.6,934.0 880.4,931.0 881.2,934.5 882.0,932.3 882.8,932.5 883.6,933.7 884.4,930.8 885.2,930.4 886.0,930.2 886.8,927.9 887.6,932.4 888.4,933.3 889.2,933.9 890.0,934.0 890.8,931.5 891.6,931.9 892.4,933.7 893.2,932.0 894.0,934.4 894.8,931.1 895.6,931.1 896.4,934.0 897.2,931.3 898.0,928.8 898.8,925.0 899.6,928.4 900.4,934.0 901.2,930.9 902.0,923.9 902.8,930.3 903.6,926.6 904.4,934.3 905.2,932.3 906.0,931.4 906.8,932.1 907.6,930.2 908.4,932.9 909.2,932.9 910.0,930.7 910.8,931.6 911.6,932.5 912.4,932.3 913.2,932.7 914.0,930.8 914.8,934.4 915.6,933.7 916.4,930.7 917.2,934.2 918.0,933.9 918.8,931.8 919.6,931.1 920.4,933.9 921.2,929.8 922.0,931.4 922.8,931.6 923.6,931.6 924.4,932.5 925.2,932.5 926.0,926.8 926.8,930.2 927.6,933.0 928.4,930.4 929.2,932.1 930.0,934.0 930.8,934.1 931.6,934.4 932.4,931.0 933.2,933.0 934.0,931.9 934.8,931.4 935.6,932.9 936.4,930.6 937.2,934.2 938.0,928.9 938.8,932.1 939.6,931.9 940.4,930.8 941.2,922.2 942.0,931.7 942.8,930.4 943.6,923.5 944.4,930.3 945.2,934.0 946.0,933.6 946.8,933.7 947.6,934.0 948.4,932.3 949.2,934.3 950.0,934.1 950.8,931.3 951.6,931.2 952.4,928.5 953.2,931.3 954.0,927.6 954.8,931.0 955.6,933.2 956.4,933.0 957.2,924.0 958.0,932.0 958.8,930.4 959.6,934.1 960.4,932.4 961.2,931.5 962.0,931.6 962.8,933.9 963.6,930.6 964.4,931.5 965.2,933.8 966.0,929.6 966.8,926.5 967.6,931.6 968.4,933.5 969.2,932.2 970.0,930.3 970.8,931.4 971.6,933.8 972.4,932.2 973.2,932.0 974.0,924.1 974.8,930.3 975.6,932.2 976.4,933.3 977.2,931.7 978.0,930.5 978.8,930.8 979.6,932.9 980.4,932.7 981.2,932.8 982.0,932.7 982.8,932.8 983.6,934.4 984.4,931.5 985.2,932.2 986.0,931.6 986.8,933.4 987.6,933.4 988.4,934.0 989.2,924.4 990.0,933.1 990.8,932.9 991.6,932.5 992.4,933.1 993.2,933.8 994.0,930.5 994.8,931.3 995.6,931.0 996.4,932.3 997.2,933.7 998.0,930.4 998.8,930.5 999.6,930.5 1000.4,925.9 1000.4,989.4 999.6,988.2 998.8,986.9 998.0,989.0 997.2,990.3 996.4,988.4 995.6,990.0 994.8,990.7 994.0,995.7 993.2,992.7 992.4,988.0 991.6,989.4 990.8,988.6 990.0,996.7 989.2,987.3 988.4,988.7 987.6,988.7 986.8,992.4 986.0,990.7 985.2,990.7 984.4,986.7 983.6,990.5 982.8,988.1 982.0,989.7 981.2,987.0 980.4,986.8 979.6,987.3 978.8,990.0 978.0,987.0 977.2,990.1 976.4,987.7 975.6,987.3 974.8,990.8 974.0,987.3 973.2,992.8 972.4,995.8 971.6,994.6 970.8,987.0 970.0,986.8 969.2,988.0 968.4,995.4 967.6,988.4 966.8,989.1 966.0,988.2 965.2,986.8 964.4,990.1 963.6,987.0 962.8,991.0 962.0,987.0 961.2,989.8 960.4,987.5 959.6,986.7 958.8,989.3 958.0,988.6 957.2,989.6 956.4,992.9 955.6,988.9 954.8,989.5 954.0,987.3 953.2,989.1 952.4,990.8 951.6,989.8 950.8,995.2 950.0,989.9 949.2,989.6 948.4,998.8 947.6,988.4 946.8,990.4 946.0,988.2 945.2,990.9 944.4,987.6 943.6,988.4 942.8,988.0 942.0,990.2 941.2,988.9 940.4,996.7 939.6,988.1 938.8,987.0 938.0,988.6 937.2,989.2 936.4,989.8 935.6,987.3 934.8,990.0 934.0,988.6 933.2,989.5 932.4,990.9 931.6,987.0 930.8,988.6 930.0,988.2 929.2,988.8 928.4,988.0 927.6,989.8 926.8,990.3 926.0,990.4 925.2,988.9 924.4,989.8 923.6,989.7 922.8,988.4 922.0,988.1 921.2,992.4 920.4,987.7 919.6,987.4 918.8,987.8 918.0,987.3 917.2,988.6 916.4,990.5 915.6,989.0 914.8,987.8 914.0,990.6 913.2,989.4 912.4,987.8 911.6,987.5 910.8,990.8 910.0,995.8 909.2,989.6 908.4,990.6 907.6,992.7 906.8,990.0 906.0,990.1 905.2,988.1 904.4,987.9 903.6,989.8 902.8,988.5 902.0,987.5 901.2,988.6 900.4,989.7 899.6,990.4 898.8,990.4 898.0,989.2 897.2,989.0 896.4,987.7 895.6,986.7 894.8,987.9 894.0,990.7 893.2,987.2 892.4,997.6 891.6,989.1 890.8,987.7 890.0,990.4 889.2,988.1 888.4,990.4 887.6,990.6 886.8,987.9 886.0,989.1 885.2,990.7 884.4,993.4 883.6,990.1 882.8,988.8 882.0,987.9 881.2,987.0 880.4,988.0 879.6,997.6 878.8,991.0 878.0,999.8 877.2,990.9 876.4,988.4 875.6,989.0 874.8,988.2 874.0,992.6 873.2,994.2 872.4,987.8 871.6,987.8 870.8,987.3 870.0,989.6 869.2,991.0 868.4,988.4 867.6,989.3 866.8,989.6 866.0,989.2 865.2,990.9 864.4,988.7 863.6,987.9 862.8,987.5 862.0,988.3 861.2,989.2 860.4,990.4 859.6,990.0 858.8,990.0 858.0,988.4 857.2,989.3 856.4,991.9 855.6,987.2 854.8,987.5 854.0,992.3 853.2,987.8 852.4,987.1 851.6,988.4 850.8,992.1 850.0,988.7 849.2,990.8 848.4,988.1 847.6,990.8 846.8,987.7 846.0,994.7 845.2,987.3 844.4,987.3 843.6,989.6 842.8,987.7 842.0,993.4 841.2,989.4 840.4,988.0 839.6,991.4 838.8,987.5 838.0,996.3 837.2,990.4 836.4,990.5 835.6,990.8 834.8,990.1 834.0,993.6 833.2,990.9 832.4,994.9 831.6,990.0 830.8,987.7 830.0,986.8 829.2,989.5 828.4,990.8 827.6,996.4 826.8,987.0 826.0,989.6 825.2,989.9 824.4,989.5 823.6,989.2 822.8,989.8 822.0,988.1 821.2,988.3 820.4,994.5 819.6,987.5 818.8,986.9 818.0,987.2 817.2,987.0 816.4,996.0 815.6,988.6 814.8,989.4 814.0,987.9 813.2,988.8 812.4,988.0 811.6,990.0 810.8,988.3 810.0,986.9 809.2,990.5 808.4,989.2 807.6,987.9 806.8,987.7 806.0,989.6 805.2,990.2 804.4,988.8 803.6,987.9 802.8,987.8 802.0,992.2 801.2,988.9 800.4,988.8 799.6,987.7 798.8,987.6 798.0,989.8 797.2,989.8 796.4,990.9 795.6,987.7 794.8,990.9 794.0,989.4 793.2,995.3 792.4,989.5 791.6,988.9 790.8,988.5 790.0,989.9 789.2,987.3 788.4,988.5 787.6,989.5 786.8,987.5 786.0,990.2 785.2,998.8 784.4,992.9 783.6,988.5 782.8,987.1 782.0,988.2 781.2,990.0 780.4,988.0 779.6,989.5 778.8,987.1 778.0,986.8 777.2,991.0 776.4,993.4 775.6,990.7 774.8,989.3 774.0,989.9 773.2,987.4 772.4,987.6 771.6,989.9 770.8,989.8 770.0,988.6 769.2,991.8 768.4,987.8 767.6,987.9 766.8,987.3 766.0,988.7 765.2,986.9 764.4,989.4 763.6,990.4 762.8,987.2 762.0,991.7 761.2,988.0 760.4,988.4 759.6,987.8 758.8,988.3 758.0,990.7 757.2,986.9 756.4,990.4 755.6,987.6 754.8,989.7 754.0,987.9 753.2,991.0 752.4,986.8 751.6,988.0 750.8,990.5 750.0,991.5 749.2,989.5 748.4,990.6 747.6,988.3 746.8,988.1 746.0,990.9 745.2,989.8 744.4,993.1 743.6,992.6 742.8,986.8 742.0,989.0 741.2,987.1 740.4,987.2 739.6,988.5 738.8,988.2 738.0,987.2 737.2,989.4 736.4,989.9 735.6,998.9 734.8,991.0 734.0,991.7 733.2,992.1 732.4,988.6 731.6,990.4 730.8,986.8 730.0,990.2 729.2,987.6 728.4,990.3 727.6,990.9 726.8,988.7 726.0,988.3 725.2,988.0 724.4,989.5 723.6,990.2 722.8,990.9 722.0,990.5 721.2,989.3 720.4,989.0 719.6,990.1 718.8,986.8 718.0,988.6 717.2,996.8 716.4,988.2 715.6,987.5 714.8,989.2 714.0,988.3 713.2,989.7 712.4,987.7 711.6,987.2 710.8,986.8 710.0,989.0 709.2,988.6 708.4,989.5 707.6,996.2 706.8,988.2 706.0,990.1 705.2,987.9 704.4,987.9 703.6,990.6 702.8,990.7 702.0,988.3 701.2,988.4 700.4,987.9 699.6,988.7 698.8,986.8 698.0,992.1 697.2,989.5 696.4,987.4 695.6,989.7 694.8,987.1 694.0,989.0 693.2,993.8 692.4,992.6 691.6,989.5 690.8,988.1 690.0,990.6 689.2,988.2 688.4,990.3 687.6,990.9 686.8,988.0 686.0,990.3 685.2,987.7 684.4,988.4 683.6,989.2 682.8,987.7 682.0,987.7 681.2,990.8 680.4,989.7 679.6,987.4 678.8,987.9 678.0,989.8 677.2,988.2 676.4,987.9 675.6,989.9 674.8,990.6 674.0,990.5 673.2,987.8 672.4,989.2 671.6,987.9 670.8,989.7 670.0,989.9 669.2,990.4 668.4,997.1 667.6,988.6 666.8,990.7 666.0,990.6 665.2,988.4 664.4,991.3 663.6,987.1 662.8,987.7 662.0,989.9 661.2,987.0 660.4,992.0 659.6,990.4 658.8,990.8 658.0,986.8 657.2,995.8 656.4,987.0 655.6,989.7 654.8,989.6 654.0,986.8 653.2,988.5 652.4,987.2 651.6,990.2 650.8,998.5 650.0,990.3 649.2,988.4 648.4,989.9 647.6,997.1 646.8,989.8 646.0,987.9 645.2,990.3 644.4,988.4 643.6,990.5 642.8,988.7 642.0,989.1 641.2,988.3 640.4,987.3 639.6,994.3 638.8,987.8 638.0,990.8 637.2,990.9 636.4,987.1 635.6,988.3 634.8,988.1 634.0,990.6 633.2,993.2 632.4,990.5 631.6,994.9 630.8,988.0 630.0,989.5 629.2,989.0 628.4,989.9 627.6,989.1 626.8,989.0 626.0,987.5 625.2,990.6 624.4,989.6 623.6,986.8 622.8,990.1 622.0,990.5 621.2,989.9 620.4,989.1 619.6,989.5 618.8,990.0 618.0,990.8 617.2,987.0 616.4,987.0 615.6,990.7 614.8,989.8 614.0,987.8 613.2,989.6 612.4,987.8 611.6,987.7 610.8,989.1 610.0,990.9 609.2,990.7 608.4,988.9 607.6,987.0 606.8,987.1 606.0,988.7 605.2,989.1 604.4,992.4 603.6,990.3 602.8,988.0 602.0,990.9 601.2,986.9 600.4,992.8 599.6,989.1 598.8,988.2 598.0,988.7 597.2,986.9 596.4,995.2 595.6,988.3 594.8,990.8 594.0,988.9 593.2,987.0 592.4,987.5 591.6,990.8 590.8,988.7 590.0,990.0 589.2,989.4 588.4,989.1 587.6,986.8 586.8,988.6 586.0,989.2 585.2,989.6 584.4,990.7 583.6,986.8 582.8,990.0 582.0,991.0 581.2,993.2 580.4,990.0 579.6,987.6 578.8,989.1 578.0,987.7 577.2,989.9 576.4,987.9 575.6,989.6 574.8,990.5 574.0,990.7 573.2,988.8 572.4,987.7 571.6,990.5 570.8,987.1 570.0,988.5 569.2,990.4 568.4,987.2 567.6,989.7 566.8,988.0 566.0,989.4 565.2,990.2 564.4,989.8 563.6,990.0 562.8,988.2 562.0,987.3 561.2,988.3 560.4,990.6 559.6,987.3 558.8,990.7 558.0,989.9 557.2,987.1 556.4,986.8 555.6,990.9 554.8,990.4 554.0,987.1 553.2,987.2 552.4,990.1 551.6,989.2 550.8,989.8 550.0,989.4 549.2,990.5 548.4,989.1 547.6,990.2 546.8,988.3 546.0,987.7 545.2,990.4 544.4,987.9 543.6,989.9 542.8,987.2 542.0,990.5 541.2,990.2 540.4,990.2 539.6,987.8 538.8,987.5 538.0,988.6 537.2,989.0 536.4,988.4 535.6,989.9 534.8,988.7 534.0,989.6 533.2,987.1 532.4,987.7 531.6,989.4 530.8,999.0 530.0,990.4 529.2,987.4 528.4,987.1 527.6,987.7 526.8,989.1 526.0,988.2 525.2,990.6 524.4,988.8 523.6,990.7 522.8,997.8 522.0,989.9 521.2,987.6 520.4,988.7 519.6,989.5 518.8,988.9 518.0,989.8 517.2,987.9 516.4,987.4 515.6,988.3 514.8,988.3 514.0,996.3 513.2,987.7 512.4,989.2 511.6,990.7 510.8,989.2 510.0,987.7 509.2,993.8 508.4,990.9 507.6,990.6 506.8,987.9 506.0,990.5 505.2,995.9 504.4,990.2 503.6,990.5 502.8,987.6 502.0,987.6 501.2,988.4 500.4,989.2 499.6,990.8 498.8,988.8 498.0,988.3 497.2,987.4 496.4,987.4 495.6,990.3 494.8,987.9 494.0,987.1 493.2,992.8 492.4,989.6 491.6,990.9Z" fill="#ff8883"/>
<g stroke="#231f20" stroke-width="1.45" fill="none">
<path d="M491.6,832.85 V1097.15 M491.0,1087.95 H1001.5"/>
<path d="M661.3,1087.95 v9.4"/>
<path d="M831.1,1087.95 v9.4"/>
<path d="M1000.8,1087.95 v9.4"/>
<path d="M481.90000000000003,839.05 H491.6"/>
<path d="M481.90000000000003,960.6 H491.6"/>
<path d="M481.90000000000003,1082.15 H491.6"/>
</g>
<text transform="translate(491.4 1123.05) scale(1.0 1)" font-size="30" text-anchor="middle">0</text>
<text transform="translate(661.1 1123.05) scale(1.0 1)" font-size="30" text-anchor="middle">1</text>
<text transform="translate(830.9 1123.05) scale(1.0 1)" font-size="30" text-anchor="middle">2</text>
<text transform="translate(1000.6 1123.05) scale(1.0 1)" font-size="30" text-anchor="middle">3</text>
<text transform="translate(746.0 1155.35) scale(1.036 1)" font-size="29" text-anchor="middle">Time (s)</text>
<text transform="translate(438.9 961.6) rotate(-90) scale(1.027 1)" font-size="29.3" text-anchor="middle">Phase variation (rad)</text>
<text transform="translate(477.0 849.4) scale(0.9 1)" font-size="29" text-anchor="end" font-style="italic" stroke="#231f20" stroke-width="0.45">&#960;</text>
<text transform="translate(477.9 971.1) scale(1.04 1)" font-size="29" text-anchor="end">0</text>
<text transform="translate(477.0 1092.6) scale(0.9 1)" font-size="29" text-anchor="end"><tspan>-</tspan><tspan dx="1.6" font-style="italic" stroke="#231f20" stroke-width="0.45">&#960;</tspan></text>
<path d="M491.6,1303.6 492.4,1304.4 493.2,1303.7 494.0,1302.3 494.8,1302.2 495.6,1304.2 496.4,1302.8 497.2,1299.6 498.0,1298.9 498.8,1297.5 499.6,1305.0 500.4,1298.7 501.2,1298.0 502.0,1298.7 502.8,1287.3 503.6,1297.3 504.4,1281.4 505.2,1276.7 506.0,1262.0 506.8,1254.5 507.6,1250.3 508.4,1251.2 509.2,1252.5 510.0,1225.7 510.8,1224.6 511.6,1245.6 512.4,1228.7 513.2,1216.4 514.0,1211.8 514.8,1208.9 515.6,1203.0 516.4,1210.0 517.2,1205.5 518.0,1204.9 518.8,1209.4 519.6,1215.6 520.4,1203.2 521.2,1207.8 522.0,1203.8 522.8,1211.8 523.6,1205.6 524.4,1203.9 525.2,1214.1 526.0,1209.5 526.8,1250.2 527.6,1266.8 528.4,1272.5 529.2,1264.4 530.0,1279.6 530.8,1290.4 531.6,1299.2 532.4,1291.2 533.2,1280.3 534.0,1282.9 534.8,1259.7 535.6,1265.8 536.4,1245.1 537.2,1222.9 538.0,1204.5 538.8,1204.9 539.6,1203.7 540.4,1206.1 541.2,1211.0 542.0,1208.4 542.8,1204.1 543.6,1218.3 544.4,1217.9 545.2,1210.7 546.0,1212.4 546.8,1212.0 547.6,1203.1 548.4,1211.7 549.2,1204.4 550.0,1216.7 550.8,1230.9 551.6,1255.4 552.4,1286.1 553.2,1293.5 554.0,1291.4 554.8,1302.4 555.6,1285.5 556.4,1294.3 557.2,1279.3 558.0,1277.2 558.8,1263.1 559.6,1269.2 560.4,1234.5 561.2,1239.4 562.0,1243.3 562.8,1250.0 563.6,1222.1 564.4,1219.5 565.2,1245.3 566.0,1210.6 566.8,1211.6 567.6,1204.4 568.4,1215.3 569.2,1211.1 570.0,1203.1 570.8,1213.4 571.6,1205.0 572.4,1206.8 573.2,1208.8 574.0,1205.7 574.8,1203.9 575.6,1211.4 576.4,1204.0 577.2,1206.8 578.0,1203.9 578.8,1203.0 579.6,1208.6 580.4,1210.5 581.2,1205.0 582.0,1210.9 582.8,1207.8 583.6,1204.5 584.4,1208.1 585.2,1205.9 586.0,1206.6 586.8,1207.0 587.6,1205.1 588.4,1206.9 589.2,1204.8 590.0,1207.1 590.8,1245.6 591.6,1214.9 592.4,1226.2 593.2,1216.9 594.0,1221.9 594.8,1222.4 595.6,1254.7 596.4,1239.0 597.2,1248.2 598.0,1259.4 598.8,1265.3 599.6,1289.1 600.4,1301.5 601.2,1293.4 602.0,1304.5 602.8,1299.4 603.6,1295.2 604.4,1285.0 605.2,1284.7 606.0,1287.2 606.8,1254.6 607.6,1244.1 608.4,1257.6 609.2,1258.8 610.0,1241.6 610.8,1209.7 611.6,1203.2 612.4,1220.0 613.2,1204.8 614.0,1204.8 614.8,1203.6 615.6,1207.4 616.4,1205.5 617.2,1207.9 618.0,1209.0 618.8,1223.5 619.6,1236.1 620.4,1264.9 621.2,1256.9 622.0,1282.8 622.8,1278.1 623.6,1276.1 624.4,1298.9 625.2,1293.7 626.0,1296.6 626.8,1291.4 627.6,1286.7 628.4,1260.3 629.2,1261.3 630.0,1262.6 630.8,1230.3 631.6,1239.8 632.4,1214.2 633.2,1208.0 634.0,1203.9 634.8,1208.4 635.6,1203.3 636.4,1210.6 637.2,1204.7 638.0,1214.3 638.8,1206.2 639.6,1203.4 640.4,1203.8 641.2,1208.9 642.0,1203.5 642.8,1242.5 643.6,1218.1 644.4,1262.9 645.2,1244.9 646.0,1232.1 646.8,1245.2 647.6,1243.9 648.4,1266.1 649.2,1266.6 650.0,1293.1 650.8,1289.0 651.6,1295.4 652.4,1297.2 653.2,1299.0 654.0,1303.0 654.8,1301.6 655.6,1301.5 656.4,1306.8 657.2,1304.7 658.0,1308.5 658.8,1300.7 659.6,1306.2 660.4,1300.3 661.2,1304.4 662.0,1302.9 662.8,1300.3 663.6,1305.5 664.4,1304.0 665.2,1303.6 666.0,1299.3 666.8,1300.3 667.6,1307.2 668.4,1301.5 669.2,1308.9 670.0,1300.1 670.8,1305.3 671.6,1296.9 672.4,1287.7 673.2,1292.1 674.0,1283.9 674.8,1287.2 675.6,1285.7 676.4,1273.2 677.2,1268.0 678.0,1251.7 678.8,1256.2 679.6,1255.6 680.4,1236.0 681.2,1244.0 682.0,1242.0 682.8,1223.9 683.6,1207.9 684.4,1204.0 685.2,1206.3 686.0,1203.9 686.8,1203.4 687.6,1208.7 688.4,1214.9 689.2,1203.7 690.0,1206.9 690.8,1205.5 691.6,1206.5 692.4,1206.8 693.2,1205.1 694.0,1205.1 694.8,1205.4 695.6,1211.0 696.4,1203.7 697.2,1233.0 698.0,1252.1 698.8,1275.6 699.6,1274.6 700.4,1281.9 701.2,1299.5 702.0,1303.9 702.8,1295.6 703.6,1284.4 704.4,1281.2 705.2,1266.3 706.0,1263.3 706.8,1257.8 707.6,1207.2 708.4,1209.8 709.2,1210.3 710.0,1211.5 710.8,1204.7 711.6,1206.2 712.4,1206.8 713.2,1205.7 714.0,1208.8 714.8,1210.1 715.6,1215.5 716.4,1209.4 717.2,1207.2 718.0,1205.5 718.8,1208.7 719.6,1208.7 720.4,1253.6 721.2,1268.7 722.0,1281.6 722.8,1285.0 723.6,1290.6 724.4,1302.3 725.2,1294.6 726.0,1292.2 726.8,1283.9 727.6,1264.4 728.4,1271.1 729.2,1259.9 730.0,1264.1 730.8,1253.9 731.6,1222.9 732.4,1223.9 733.2,1244.5 734.0,1227.6 734.8,1232.6 735.6,1207.0 736.4,1213.7 737.2,1207.6 738.0,1204.6 738.8,1206.9 739.6,1208.1 740.4,1204.7 741.2,1211.0 742.0,1206.8 742.8,1209.2 743.6,1205.4 744.4,1210.5 745.2,1207.1 746.0,1206.4 746.8,1204.8 747.6,1206.4 748.4,1207.6 749.2,1212.8 750.0,1205.1 750.8,1208.5 751.6,1203.7 752.4,1209.6 753.2,1203.1 754.0,1210.8 754.8,1205.7 755.6,1215.2 756.4,1205.8 757.2,1204.6 758.0,1204.4 758.8,1204.6 759.6,1209.4 760.4,1213.3 761.2,1255.8 762.0,1248.1 762.8,1243.1 763.6,1241.9 764.4,1226.6 765.2,1246.8 766.0,1238.7 766.8,1248.5 767.6,1255.0 768.4,1279.7 769.2,1283.9 770.0,1288.6 770.8,1300.1 771.6,1298.9 772.4,1298.9 773.2,1299.7 774.0,1293.2 774.8,1277.2 775.6,1288.7 776.4,1275.8 777.2,1266.4 778.0,1246.2 778.8,1225.7 779.6,1222.0 780.4,1203.1 781.2,1213.9 782.0,1207.4 782.8,1208.9 783.6,1206.4 784.4,1207.6 785.2,1205.6 786.0,1205.7 786.8,1205.9 787.6,1206.9 788.4,1218.8 789.2,1237.8 790.0,1237.4 790.8,1255.9 791.6,1259.7 792.4,1289.9 793.2,1277.5 794.0,1284.7 794.8,1290.4 795.6,1291.9 796.4,1294.8 797.2,1273.6 798.0,1264.4 798.8,1259.4 799.6,1269.1 800.4,1231.6 801.2,1224.5 802.0,1239.6 802.8,1206.0 803.6,1207.3 804.4,1212.9 805.2,1204.4 806.0,1206.1 806.8,1214.1 807.6,1209.3 808.4,1205.6 809.2,1209.6 810.0,1214.1 810.8,1208.0 811.6,1206.0 812.4,1245.0 813.2,1243.4 814.0,1241.9 814.8,1267.9 815.6,1252.3 816.4,1240.2 817.2,1263.1 818.0,1261.1 818.8,1268.7 819.6,1292.9 820.4,1287.9 821.2,1292.0 822.0,1295.5 822.8,1301.5 823.6,1297.7 824.4,1304.7 825.2,1310.1 826.0,1306.3 826.8,1305.2 827.6,1306.5 828.4,1310.3 829.2,1302.1 830.0,1302.6 830.8,1307.5 831.6,1300.4 832.4,1300.3 833.2,1303.1 834.0,1300.8 834.8,1306.1 835.6,1301.1 836.4,1302.4 837.2,1304.3 838.0,1303.3 838.8,1301.1 839.6,1306.0 840.4,1297.5 841.2,1289.0 842.0,1300.1 842.8,1286.2 843.6,1279.4 844.4,1283.9 845.2,1267.3 846.0,1282.7 846.8,1267.1 847.6,1241.8 848.4,1268.2 849.2,1258.0 850.0,1259.6 850.8,1239.1 851.6,1216.1 852.4,1243.6 853.2,1207.8 854.0,1210.6 854.8,1206.9 855.6,1210.9 856.4,1203.6 857.2,1210.2 858.0,1207.5 858.8,1206.8 859.6,1207.0 860.4,1212.0 861.2,1206.5 862.0,1206.3 862.8,1208.3 863.6,1206.2 864.4,1208.7 865.2,1203.0 866.0,1203.7 866.8,1264.7 867.6,1254.5 868.4,1282.9 869.2,1277.9 870.0,1292.5 870.8,1294.3 871.6,1299.3 872.4,1287.7 873.2,1287.7 874.0,1281.3 874.8,1281.1 875.6,1238.7 876.4,1236.8 877.2,1220.6 878.0,1206.4 878.8,1212.9 879.6,1211.7 880.4,1204.8 881.2,1210.3 882.0,1207.3 882.8,1203.1 883.6,1210.0 884.4,1204.4 885.2,1204.0 886.0,1206.5 886.8,1204.0 887.6,1211.0 888.4,1210.3 889.2,1213.2 890.0,1261.8 890.8,1272.2 891.6,1278.7 892.4,1270.1 893.2,1296.4 894.0,1300.1 894.8,1290.8 895.6,1284.7 896.4,1280.5 897.2,1260.1 898.0,1266.2 898.8,1269.9 899.6,1252.4 900.4,1228.4 901.2,1252.3 902.0,1249.2 902.8,1212.5 903.6,1219.5 904.4,1230.7 905.2,1203.1 906.0,1204.8 906.8,1205.9 907.6,1206.7 908.4,1204.7 909.2,1207.8 910.0,1209.4 910.8,1211.4 911.6,1219.6 912.4,1204.9 913.2,1209.3 914.0,1205.5 914.8,1205.6 915.6,1210.6 916.4,1205.0 917.2,1204.3 918.0,1206.4 918.8,1212.0 919.6,1209.2 920.4,1210.3 921.2,1205.5 922.0,1211.7 922.8,1212.6 923.6,1208.8 924.4,1212.8 925.2,1205.4 926.0,1207.4 926.8,1213.5 927.6,1205.0 928.4,1209.8 929.2,1213.1 930.0,1218.1 930.8,1227.6 931.6,1232.7 932.4,1256.8 933.2,1250.7 934.0,1235.1 934.8,1236.8 935.6,1254.5 936.4,1268.4 937.2,1253.3 938.0,1268.4 938.8,1278.7 939.6,1287.9 940.4,1288.1 941.2,1293.7 942.0,1296.9 942.8,1297.1 943.6,1284.0 944.4,1280.4 945.2,1274.7 946.0,1263.2 946.8,1273.5 947.6,1246.9 948.4,1253.5 949.2,1224.0 950.0,1205.2 950.8,1213.5 951.6,1212.4 952.4,1206.5 953.2,1206.8 954.0,1205.8 954.8,1204.0 955.6,1203.0 956.4,1214.2 957.2,1207.2 958.0,1218.8 958.8,1225.5 959.6,1254.3 960.4,1264.0 961.2,1262.5 962.0,1263.7 962.8,1282.7 963.6,1287.2 964.4,1289.6 965.2,1302.1 966.0,1290.4 966.8,1282.3 967.6,1285.4 968.4,1278.2 969.2,1244.6 970.0,1262.1 970.8,1243.9 971.6,1252.5 972.4,1204.4 973.2,1207.9 974.0,1207.9 974.8,1208.7 975.6,1211.3 976.4,1208.0 977.2,1212.8 978.0,1206.5 978.8,1212.2 979.6,1204.0 980.4,1208.9 981.2,1203.0 982.0,1255.6 982.8,1226.9 983.6,1239.3 984.4,1222.3 985.2,1233.6 986.0,1231.8 986.8,1244.8 987.6,1264.4 988.4,1280.1 989.2,1275.7 990.0,1293.6 990.8,1300.3 991.6,1295.5 992.4,1297.1 993.2,1301.9 994.0,1306.6 994.8,1309.1 995.6,1302.8 996.4,1304.1 997.2,1304.3 998.0,1306.3 998.8,1307.0 999.6,1306.5 1000.4,1304.7 1000.4,1344.3 999.6,1344.1 998.8,1347.9 998.0,1340.0 997.2,1346.5 996.4,1347.6 995.6,1346.8 994.8,1342.1 994.0,1339.6 993.2,1349.1 992.4,1355.3 991.6,1343.6 990.8,1348.9 990.0,1351.7 989.2,1370.1 988.4,1380.9 987.6,1385.5 986.8,1402.1 986.0,1390.4 985.2,1405.2 984.4,1411.4 983.6,1411.0 982.8,1407.0 982.0,1420.4 981.2,1445.8 980.4,1441.9 979.6,1439.9 978.8,1444.1 978.0,1445.7 977.2,1443.7 976.4,1443.3 975.6,1445.2 974.8,1440.0 974.0,1444.7 973.2,1444.9 972.4,1436.5 971.6,1400.7 970.8,1421.5 970.0,1395.6 969.2,1392.1 968.4,1382.6 967.6,1371.6 966.8,1356.3 966.0,1350.1 965.2,1344.2 964.4,1353.6 963.6,1354.2 962.8,1370.3 962.0,1361.0 961.2,1383.6 960.4,1380.5 959.6,1383.7 958.8,1424.8 958.0,1426.0 957.2,1440.9 956.4,1438.2 955.6,1439.5 954.8,1445.0 954.0,1439.1 953.2,1444.3 952.4,1445.9 951.6,1438.5 950.8,1439.6 950.0,1444.6 949.2,1416.0 948.4,1391.6 947.6,1398.3 946.8,1376.4 946.0,1381.1 945.2,1372.9 944.4,1360.5 943.6,1357.2 942.8,1352.8 942.0,1346.8 941.2,1344.5 940.4,1345.7 939.6,1360.8 938.8,1362.7 938.0,1366.2 937.2,1379.1 936.4,1378.3 935.6,1381.2 934.8,1413.7 934.0,1429.1 933.2,1394.0 932.4,1414.0 931.6,1406.2 930.8,1438.7 930.0,1431.9 929.2,1436.8 928.4,1444.1 927.6,1440.4 926.8,1436.2 926.0,1436.7 925.2,1444.1 924.4,1442.0 923.6,1431.4 922.8,1443.4 922.0,1441.7 921.2,1445.2 920.4,1442.9 919.6,1437.0 918.8,1445.9 918.0,1438.9 917.2,1439.4 916.4,1440.2 915.6,1444.2 914.8,1441.2 914.0,1439.4 913.2,1441.9 912.4,1444.1 911.6,1441.6 910.8,1434.7 910.0,1429.7 909.2,1444.9 908.4,1440.3 907.6,1443.3 906.8,1435.4 906.0,1438.9 905.2,1441.0 904.4,1434.6 903.6,1406.5 902.8,1413.4 902.0,1401.5 901.2,1418.9 900.4,1397.8 899.6,1414.9 898.8,1396.4 898.0,1398.7 897.2,1372.4 896.4,1379.6 895.6,1355.6 894.8,1357.8 894.0,1354.4 893.2,1359.6 892.4,1360.6 891.6,1390.6 890.8,1409.0 890.0,1419.1 889.2,1443.4 888.4,1430.8 887.6,1437.6 886.8,1438.6 886.0,1437.6 885.2,1437.7 884.4,1442.2 883.6,1441.7 882.8,1443.5 882.0,1443.8 881.2,1439.8 880.4,1441.6 879.6,1440.7 878.8,1443.1 878.0,1436.4 877.2,1418.6 876.4,1423.9 875.6,1380.4 874.8,1385.1 874.0,1369.5 873.2,1356.3 872.4,1355.9 871.6,1352.9 870.8,1352.6 870.0,1360.7 869.2,1370.0 868.4,1381.7 867.6,1388.8 866.8,1411.9 866.0,1443.3 865.2,1429.8 864.4,1446.1 863.6,1443.5 862.8,1444.8 862.0,1445.8 861.2,1445.8 860.4,1440.5 859.6,1445.7 858.8,1444.3 858.0,1440.3 857.2,1444.7 856.4,1436.1 855.6,1439.7 854.8,1441.5 854.0,1441.6 853.2,1444.8 852.4,1440.3 851.6,1397.8 850.8,1394.1 850.0,1416.2 849.2,1408.2 848.4,1389.0 847.6,1383.0 846.8,1370.8 846.0,1377.5 845.2,1365.3 844.4,1354.3 843.6,1369.7 842.8,1364.2 842.0,1356.9 841.2,1360.1 840.4,1349.8 839.6,1348.2 838.8,1342.8 838.0,1345.6 837.2,1345.9 836.4,1349.3 835.6,1346.5 834.8,1348.4 834.0,1342.1 833.2,1341.7 832.4,1338.5 831.6,1348.6 830.8,1339.1 830.0,1344.0 829.2,1339.7 828.4,1342.9 827.6,1344.7 826.8,1342.3 826.0,1340.3 825.2,1340.3 824.4,1345.1 823.6,1349.7 822.8,1344.4 822.0,1352.6 821.2,1360.0 820.4,1352.5 819.6,1357.8 818.8,1358.8 818.0,1390.2 817.2,1395.1 816.4,1416.8 815.6,1419.8 814.8,1422.8 814.0,1387.7 813.2,1417.8 812.4,1434.1 811.6,1444.7 810.8,1432.7 810.0,1442.5 809.2,1444.7 808.4,1445.8 807.6,1442.8 806.8,1443.0 806.0,1445.8 805.2,1436.5 804.4,1438.5 803.6,1441.0 802.8,1437.6 802.0,1427.7 801.2,1419.2 800.4,1412.1 799.6,1407.5 798.8,1384.2 798.0,1369.9 797.2,1363.1 796.4,1350.3 795.6,1356.6 794.8,1349.2 794.0,1354.2 793.2,1376.0 792.4,1364.8 791.6,1392.9 790.8,1398.0 790.0,1405.7 789.2,1416.1 788.4,1401.1 787.6,1444.8 786.8,1442.7 786.0,1441.2 785.2,1441.8 784.4,1434.0 783.6,1437.7 782.8,1445.8 782.0,1443.1 781.2,1442.6 780.4,1438.4 779.6,1421.6 778.8,1405.9 778.0,1411.6 777.2,1398.2 776.4,1387.1 775.6,1373.6 774.8,1370.0 774.0,1365.3 773.2,1355.9 772.4,1347.9 771.6,1346.6 770.8,1348.2 770.0,1351.9 769.2,1371.2 768.4,1373.4 767.6,1391.2 766.8,1374.0 766.0,1401.4 765.2,1421.5 764.4,1406.0 763.6,1397.8 762.8,1403.8 762.0,1389.6 761.2,1435.2 760.4,1392.7 759.6,1445.9 758.8,1442.5 758.0,1441.8 757.2,1443.7 756.4,1445.1 755.6,1442.6 754.8,1444.6 754.0,1440.4 753.2,1441.2 752.4,1432.5 751.6,1439.1 750.8,1437.9 750.0,1441.2 749.2,1444.3 748.4,1445.4 747.6,1446.0 746.8,1440.8 746.0,1440.5 745.2,1446.0 744.4,1445.7 743.6,1444.3 742.8,1440.6 742.0,1445.0 741.2,1436.3 740.4,1441.1 739.6,1442.1 738.8,1444.3 738.0,1441.4 737.2,1445.7 736.4,1442.7 735.6,1438.3 734.8,1404.6 734.0,1421.5 733.2,1413.4 732.4,1429.1 731.6,1387.7 730.8,1394.6 730.0,1408.6 729.2,1409.0 728.4,1387.0 727.6,1386.9 726.8,1377.7 726.0,1364.9 725.2,1354.6 724.4,1343.4 723.6,1356.3 722.8,1377.7 722.0,1381.1 721.2,1400.3 720.4,1386.6 719.6,1444.5 718.8,1437.7 718.0,1443.4 717.2,1442.0 716.4,1444.7 715.6,1445.8 714.8,1438.7 714.0,1442.6 713.2,1443.5 712.4,1429.5 711.6,1435.7 710.8,1439.9 710.0,1435.9 709.2,1444.4 708.4,1441.3 707.6,1444.7 706.8,1410.6 706.0,1392.1 705.2,1369.5 704.4,1375.9 703.6,1359.3 702.8,1360.6 702.0,1356.1 701.2,1350.8 700.4,1361.8 699.6,1372.6 698.8,1377.7 698.0,1400.8 697.2,1411.5 696.4,1436.9 695.6,1437.2 694.8,1441.4 694.0,1444.5 693.2,1441.8 692.4,1432.0 691.6,1438.8 690.8,1445.6 690.0,1444.1 689.2,1444.4 688.4,1437.3 687.6,1444.6 686.8,1442.2 686.0,1439.6 685.2,1434.4 684.4,1443.7 683.6,1435.6 682.8,1395.3 682.0,1435.3 681.2,1430.4 680.4,1425.3 679.6,1411.9 678.8,1403.1 678.0,1393.3 677.2,1374.3 676.4,1366.8 675.6,1376.9 674.8,1372.2 674.0,1366.4 673.2,1368.5 672.4,1362.2 671.6,1356.0 670.8,1344.0 670.0,1348.2 669.2,1346.0 668.4,1351.3 667.6,1348.3 666.8,1348.7 666.0,1345.2 665.2,1342.0 664.4,1343.0 663.6,1348.9 662.8,1343.6 662.0,1347.8 661.2,1344.9 660.4,1346.2 659.6,1342.0 658.8,1340.6 658.0,1343.2 657.2,1343.0 656.4,1344.4 655.6,1341.7 654.8,1338.4 654.0,1348.3 653.2,1354.3 652.4,1352.8 651.6,1353.0 650.8,1355.0 650.0,1357.5 649.2,1381.4 648.4,1376.1 647.6,1404.5 646.8,1391.0 646.0,1419.8 645.2,1400.8 644.4,1388.0 643.6,1411.9 642.8,1394.2 642.0,1444.8 641.2,1439.8 640.4,1444.6 639.6,1433.4 638.8,1442.8 638.0,1438.9 637.2,1442.1 636.4,1441.7 635.6,1443.6 634.8,1437.6 634.0,1444.6 633.2,1440.7 632.4,1426.3 631.6,1422.0 630.8,1380.7 630.0,1379.3 629.2,1393.2 628.4,1382.3 627.6,1355.6 626.8,1368.5 626.0,1360.8 625.2,1360.0 624.4,1352.0 623.6,1369.4 622.8,1372.2 622.0,1388.0 621.2,1395.2 620.4,1394.1 619.6,1421.2 618.8,1426.2 618.0,1444.9 617.2,1436.5 616.4,1436.5 615.6,1438.8 614.8,1445.3 614.0,1442.5 613.2,1445.0 612.4,1445.8 611.6,1442.8 610.8,1444.8 610.0,1423.8 609.2,1399.4 608.4,1378.4 607.6,1406.3 606.8,1374.0 606.0,1367.6 605.2,1357.3 604.4,1366.6 603.6,1356.9 602.8,1350.7 602.0,1348.3 601.2,1350.7 600.4,1351.5 599.6,1360.1 598.8,1374.9 598.0,1389.4 597.2,1382.9 596.4,1409.4 595.6,1410.3 594.8,1427.7 594.0,1419.4 593.2,1394.7 592.4,1428.9 591.6,1422.6 590.8,1394.5 590.0,1437.6 589.2,1436.6 588.4,1442.1 587.6,1439.7 586.8,1438.3 586.0,1445.7 585.2,1444.6 584.4,1438.1 583.6,1443.2 582.8,1445.8 582.0,1436.9 581.2,1441.7 580.4,1444.9 579.6,1438.0 578.8,1435.8 578.0,1442.8 577.2,1446.0 576.4,1431.6 575.6,1437.2 574.8,1444.3 574.0,1440.7 573.2,1444.6 572.4,1443.8 571.6,1446.1 570.8,1438.4 570.0,1438.1 569.2,1442.7 568.4,1443.5 567.6,1445.8 566.8,1444.8 566.0,1442.5 565.2,1410.9 564.4,1394.0 563.6,1423.1 562.8,1430.5 562.0,1409.0 561.2,1393.5 560.4,1399.8 559.6,1407.0 558.8,1399.0 558.0,1388.2 557.2,1376.6 556.4,1367.4 555.6,1350.8 554.8,1342.4 554.0,1365.7 553.2,1361.0 552.4,1371.8 551.6,1381.3 550.8,1425.3 550.0,1444.6 549.2,1443.0 548.4,1443.0 547.6,1445.5 546.8,1436.6 546.0,1445.4 545.2,1443.1 544.4,1444.7 543.6,1433.3 542.8,1434.9 542.0,1445.2 541.2,1444.1 540.4,1445.7 539.6,1436.9 538.8,1445.6 538.0,1443.0 537.2,1404.0 536.4,1410.9 535.6,1369.1 534.8,1377.7 534.0,1378.8 533.2,1349.3 532.4,1357.9 531.6,1354.3 530.8,1363.3 530.0,1377.3 529.2,1366.7 528.4,1383.6 527.6,1420.2 526.8,1395.0 526.0,1436.2 525.2,1444.3 524.4,1440.5 523.6,1442.2 522.8,1434.6 522.0,1441.6 521.2,1437.0 520.4,1441.4 519.6,1443.5 518.8,1438.8 518.0,1431.4 517.2,1439.4 516.4,1445.0 515.6,1444.9 514.8,1440.7 514.0,1443.9 513.2,1439.4 512.4,1429.1 511.6,1421.7 510.8,1391.1 510.0,1411.7 509.2,1417.3 508.4,1384.0 507.6,1387.1 506.8,1383.5 506.0,1366.0 505.2,1354.9 504.4,1360.3 503.6,1368.2 502.8,1358.1 502.0,1356.7 501.2,1356.6 500.4,1350.5 499.6,1348.9 498.8,1344.5 498.0,1340.9 497.2,1348.9 496.4,1341.3 495.6,1346.8 494.8,1341.2 494.0,1342.5 493.2,1347.0 492.4,1339.2 491.6,1348.2Z" fill="#bdd68c"/>
<path d="M491.6,1305.4 492.4,1305.3 493.2,1299.9 494.0,1306.1 494.8,1307.0 495.6,1306.3 496.4,1302.3 497.2,1305.5 498.0,1297.5 498.8,1306.0 499.6,1292.6 500.4,1303.5 501.2,1302.6 502.0,1298.4 502.8,1300.9 503.6,1303.2 504.4,1301.6 505.2,1289.4 506.0,1296.9 506.8,1299.6 507.6,1292.5 508.4,1284.6 509.2,1288.0 510.0,1284.1 510.8,1292.2 511.6,1292.6 512.4,1291.3 513.2,1284.6 514.0,1282.8 514.8,1271.8 515.6,1285.1 516.4,1280.8 517.2,1254.9 518.0,1270.5 518.8,1274.9 519.6,1241.6 520.4,1270.4 521.2,1272.6 522.0,1274.1 522.8,1280.2 523.6,1261.7 524.4,1287.5 525.2,1284.5 526.0,1293.3 526.8,1275.7 527.6,1286.6 528.4,1283.5 529.2,1295.7 530.0,1289.3 530.8,1304.1 531.6,1302.1 532.4,1300.6 533.2,1301.6 534.0,1289.6 534.8,1280.6 535.6,1284.7 536.4,1273.0 537.2,1281.9 538.0,1287.7 538.8,1287.8 539.6,1260.6 540.4,1279.2 541.2,1248.9 542.0,1268.2 542.8,1248.9 543.6,1284.5 544.4,1261.4 545.2,1286.9 546.0,1284.1 546.8,1288.2 547.6,1286.0 548.4,1292.4 549.2,1290.4 550.0,1284.9 550.8,1290.5 551.6,1299.9 552.4,1287.9 553.2,1301.1 554.0,1297.2 554.8,1292.3 555.6,1301.7 556.4,1301.9 557.2,1299.9 558.0,1298.5 558.8,1291.1 559.6,1297.5 560.4,1296.2 561.2,1289.6 562.0,1293.4 562.8,1291.0 563.6,1269.6 564.4,1288.8 565.2,1290.4 566.0,1289.1 566.8,1285.4 567.6,1278.2 568.4,1273.0 569.2,1285.9 570.0,1285.4 570.8,1268.2 571.6,1251.9 572.4,1266.0 573.2,1265.7 574.0,1279.9 574.8,1271.8 575.6,1247.0 576.4,1245.4 577.2,1242.8 578.0,1263.5 578.8,1249.9 579.6,1260.9 580.4,1261.6 581.2,1246.1 582.0,1257.3 582.8,1258.7 583.6,1279.6 584.4,1278.3 585.2,1261.4 586.0,1281.8 586.8,1280.0 587.6,1282.1 588.4,1272.5 589.2,1291.1 590.0,1289.4 590.8,1291.0 591.6,1283.3 592.4,1294.0 593.2,1286.5 594.0,1281.4 594.8,1285.3 595.6,1286.8 596.4,1297.5 597.2,1299.6 598.0,1284.5 598.8,1301.5 599.6,1301.0 600.4,1303.3 601.2,1294.2 602.0,1304.1 602.8,1295.5 603.6,1302.2 604.4,1302.6 605.2,1291.5 606.0,1293.6 606.8,1278.5 607.6,1292.4 608.4,1272.9 609.2,1290.4 610.0,1284.4 610.8,1282.6 611.6,1258.4 612.4,1280.0 613.2,1276.0 614.0,1251.9 614.8,1269.8 615.6,1261.8 616.4,1259.4 617.2,1256.2 618.0,1270.0 618.8,1262.2 619.6,1273.4 620.4,1282.5 621.2,1278.2 622.0,1270.2 622.8,1293.8 623.6,1287.6 624.4,1299.9 625.2,1299.2 626.0,1303.4 626.8,1302.1 627.6,1296.5 628.4,1294.8 629.2,1286.3 630.0,1292.4 630.8,1287.5 631.6,1271.2 632.4,1286.9 633.2,1271.3 634.0,1281.7 634.8,1278.9 635.6,1257.5 636.4,1265.1 637.2,1273.2 638.0,1248.7 638.8,1279.4 639.6,1280.6 640.4,1281.3 641.2,1259.1 642.0,1287.8 642.8,1278.1 643.6,1287.0 644.4,1294.3 645.2,1295.2 646.0,1298.2 646.8,1299.1 647.6,1295.9 648.4,1292.2 649.2,1303.6 650.0,1302.8 650.8,1294.6 651.6,1291.7 652.4,1293.1 653.2,1300.0 654.0,1298.5 654.8,1303.3 655.6,1304.0 656.4,1302.4 657.2,1298.2 658.0,1302.9 658.8,1300.9 659.6,1304.7 660.4,1307.1 661.2,1296.7 662.0,1298.1 662.8,1305.1 663.6,1301.3 664.4,1297.4 665.2,1302.5 666.0,1305.8 666.8,1306.8 667.6,1301.4 668.4,1304.9 669.2,1295.5 670.0,1301.9 670.8,1303.7 671.6,1297.9 672.4,1305.3 673.2,1289.1 674.0,1298.0 674.8,1299.7 675.6,1300.5 676.4,1291.9 677.2,1296.7 678.0,1287.9 678.8,1293.8 679.6,1295.0 680.4,1283.1 681.2,1281.2 682.0,1277.5 682.8,1287.1 683.6,1285.4 684.4,1277.9 685.2,1264.9 686.0,1277.5 686.8,1280.7 687.6,1252.4 688.4,1275.2 689.2,1240.8 690.0,1245.6 690.8,1274.2 691.6,1269.9 692.4,1281.0 693.2,1265.1 694.0,1266.6 694.8,1290.9 695.6,1287.6 696.4,1295.3 697.2,1296.8 698.0,1296.4 698.8,1300.4 699.6,1289.9 700.4,1300.7 701.2,1292.2 702.0,1299.5 702.8,1303.4 703.6,1295.1 704.4,1296.0 705.2,1280.6 706.0,1294.1 706.8,1293.3 707.6,1289.7 708.4,1277.0 709.2,1282.9 710.0,1258.0 710.8,1257.5 711.6,1262.7 712.4,1276.0 713.2,1282.7 714.0,1267.9 714.8,1267.0 715.6,1274.7 716.4,1273.5 717.2,1293.4 718.0,1296.1 718.8,1285.8 719.6,1291.4 720.4,1294.6 721.2,1286.4 722.0,1294.4 722.8,1288.6 723.6,1301.0 724.4,1292.5 725.2,1297.6 726.0,1302.3 726.8,1287.8 727.6,1297.8 728.4,1282.1 729.2,1297.6 730.0,1278.8 730.8,1287.7 731.6,1282.3 732.4,1290.2 733.2,1281.6 734.0,1290.2 734.8,1289.3 735.6,1289.8 736.4,1285.0 737.2,1282.6 738.0,1286.2 738.8,1285.4 739.6,1285.5 740.4,1284.3 741.2,1283.8 742.0,1282.1 742.8,1275.3 743.6,1259.2 744.4,1272.2 745.2,1274.1 746.0,1274.4 746.8,1249.6 747.6,1234.2 748.4,1248.2 749.2,1245.7 750.0,1271.8 750.8,1276.3 751.6,1270.9 752.4,1259.4 753.2,1277.9 754.0,1261.2 754.8,1281.8 755.6,1277.4 756.4,1274.6 757.2,1267.6 758.0,1271.5 758.8,1279.7 759.6,1275.6 760.4,1283.1 761.2,1284.9 762.0,1292.3 762.8,1281.0 763.6,1295.8 764.4,1280.1 765.2,1295.4 766.0,1280.4 766.8,1292.1 767.6,1298.5 768.4,1297.5 769.2,1302.5 770.0,1298.0 770.8,1299.5 771.6,1298.7 772.4,1304.4 773.2,1295.9 774.0,1301.5 774.8,1300.4 775.6,1294.5 776.4,1292.7 777.2,1277.3 778.0,1291.9 778.8,1291.4 779.6,1287.0 780.4,1271.4 781.2,1251.8 782.0,1258.1 782.8,1268.1 783.6,1267.6 784.4,1263.9 785.2,1256.7 786.0,1258.4 786.8,1261.6 787.6,1270.7 788.4,1253.7 789.2,1261.1 790.0,1268.2 790.8,1270.5 791.6,1290.3 792.4,1290.3 793.2,1285.2 794.0,1296.5 794.8,1301.4 795.6,1289.1 796.4,1298.9 797.2,1297.1 798.0,1288.2 798.8,1282.8 799.6,1273.1 800.4,1292.9 801.2,1290.0 802.0,1278.8 802.8,1284.5 803.6,1278.0 804.4,1270.3 805.2,1274.5 806.0,1261.5 806.8,1273.3 807.6,1276.1 808.4,1277.4 809.2,1260.1 810.0,1284.0 810.8,1262.7 811.6,1263.8 812.4,1292.8 813.2,1281.9 814.0,1291.7 814.8,1274.9 815.6,1291.9 816.4,1291.4 817.2,1296.0 818.0,1291.0 818.8,1304.0 819.6,1293.3 820.4,1305.0 821.2,1303.8 822.0,1304.4 822.8,1303.9 823.6,1298.0 824.4,1305.8 825.2,1295.7 826.0,1304.4 826.8,1304.0 827.6,1306.6 828.4,1304.3 829.2,1306.9 830.0,1301.9 830.8,1306.9 831.6,1304.4 832.4,1307.1 833.2,1307.1 834.0,1307.0 834.8,1300.4 835.6,1303.5 836.4,1301.3 837.2,1294.7 838.0,1306.5 838.8,1306.5 839.6,1293.0 840.4,1306.6 841.2,1305.9 842.0,1301.9 842.8,1304.3 843.6,1299.7 844.4,1296.3 845.2,1295.6 846.0,1297.4 846.8,1291.5 847.6,1297.8 848.4,1285.5 849.2,1290.5 850.0,1294.3 850.8,1274.9 851.6,1286.1 852.4,1279.0 853.2,1287.9 854.0,1273.8 854.8,1286.1 855.6,1254.8 856.4,1279.7 857.2,1271.3 858.0,1258.6 858.8,1272.8 859.6,1233.8 860.4,1264.7 861.2,1252.7 862.0,1279.7 862.8,1279.0 863.6,1284.5 864.4,1283.3 865.2,1280.8 866.0,1292.0 866.8,1286.6 867.6,1293.6 868.4,1283.2 869.2,1285.9 870.0,1301.0 870.8,1290.9 871.6,1305.2 872.4,1290.8 873.2,1298.9 874.0,1297.5 874.8,1295.9 875.6,1296.0 876.4,1273.6 877.2,1287.2 878.0,1285.0 878.8,1257.8 879.6,1269.2 880.4,1247.4 881.2,1273.1 882.0,1256.8 882.8,1273.4 883.6,1283.1 884.4,1282.5 885.2,1267.2 886.0,1290.1 886.8,1294.8 887.6,1284.1 888.4,1284.3 889.2,1289.5 890.0,1294.7 890.8,1300.1 891.6,1297.8 892.4,1285.2 893.2,1294.5 894.0,1292.7 894.8,1299.2 895.6,1302.3 896.4,1300.3 897.2,1291.2 898.0,1291.3 898.8,1298.0 899.6,1293.4 900.4,1277.9 901.2,1278.2 902.0,1293.5 902.8,1276.5 903.6,1273.5 904.4,1281.0 905.2,1289.6 906.0,1274.4 906.8,1282.6 907.6,1283.5 908.4,1280.9 909.2,1277.1 910.0,1281.8 910.8,1266.5 911.6,1268.9 912.4,1274.1 913.2,1278.7 914.0,1278.8 914.8,1277.2 915.6,1272.4 916.4,1272.8 917.2,1259.7 918.0,1262.7 918.8,1256.4 919.6,1266.6 920.4,1272.3 921.2,1277.2 922.0,1277.1 922.8,1280.5 923.6,1260.4 924.4,1268.9 925.2,1272.3 926.0,1286.0 926.8,1271.2 927.6,1284.7 928.4,1290.7 929.2,1285.7 930.0,1271.1 930.8,1269.3 931.6,1289.3 932.4,1281.2 933.2,1288.7 934.0,1296.4 934.8,1290.2 935.6,1298.5 936.4,1299.3 937.2,1300.1 938.0,1295.4 938.8,1294.1 939.6,1295.6 940.4,1303.9 941.2,1296.1 942.0,1300.8 942.8,1305.2 943.6,1298.2 944.4,1301.4 945.2,1286.1 946.0,1297.3 946.8,1282.5 947.6,1287.2 948.4,1267.0 949.2,1287.8 950.0,1276.8 950.8,1267.4 951.6,1281.1 952.4,1271.0 953.2,1265.8 954.0,1260.3 954.8,1251.2 955.6,1227.6 956.4,1235.4 957.2,1267.8 958.0,1250.1 958.8,1264.0 959.6,1280.7 960.4,1271.9 961.2,1285.6 962.0,1292.4 962.8,1285.0 963.6,1298.3 964.4,1291.8 965.2,1295.9 966.0,1286.3 966.8,1300.3 967.6,1290.9 968.4,1287.8 969.2,1284.8 970.0,1291.7 970.8,1268.8 971.6,1264.1 972.4,1275.5 973.2,1281.0 974.0,1278.7 974.8,1243.4 975.6,1271.6 976.4,1271.0 977.2,1275.7 978.0,1278.4 978.8,1271.8 979.6,1283.0 980.4,1273.2 981.2,1289.1 982.0,1268.4 982.8,1281.2 983.6,1282.3 984.4,1278.6 985.2,1289.2 986.0,1295.3 986.8,1300.8 987.6,1292.5 988.4,1289.0 989.2,1304.4 990.0,1304.8 990.8,1304.6 991.6,1296.7 992.4,1293.5 993.2,1298.4 994.0,1297.1 994.8,1304.4 995.6,1305.9 996.4,1302.5 997.2,1302.3 998.0,1306.8 998.8,1301.2 999.6,1298.2 1000.4,1294.2 1000.4,1345.3 999.6,1342.6 998.8,1342.2 998.0,1345.1 997.2,1352.6 996.4,1344.3 995.6,1350.5 994.8,1353.7 994.0,1350.8 993.2,1343.6 992.4,1346.9 991.6,1343.8 990.8,1344.1 990.0,1360.1 989.2,1344.3 988.4,1352.2 987.6,1351.6 986.8,1352.4 986.0,1362.0 985.2,1351.4 984.4,1352.3 983.6,1376.0 982.8,1355.0 982.0,1356.8 981.2,1363.5 980.4,1392.7 979.6,1391.8 978.8,1382.5 978.0,1390.4 977.2,1382.0 976.4,1376.2 975.6,1379.5 974.8,1386.1 974.0,1372.6 973.2,1366.5 972.4,1367.9 971.6,1363.6 970.8,1358.1 970.0,1362.3 969.2,1361.2 968.4,1366.7 967.6,1362.2 966.8,1363.0 966.0,1350.7 965.2,1352.2 964.4,1347.5 963.6,1364.7 962.8,1372.8 962.0,1356.0 961.2,1381.2 960.4,1379.9 959.6,1367.3 958.8,1371.0 958.0,1375.3 957.2,1399.2 956.4,1428.2 955.6,1389.1 954.8,1417.7 954.0,1412.9 953.2,1387.8 952.4,1391.2 951.6,1368.0 950.8,1365.4 950.0,1391.0 949.2,1368.0 948.4,1382.7 947.6,1366.9 946.8,1373.2 946.0,1372.9 945.2,1349.9 944.4,1347.7 943.6,1355.9 942.8,1343.9 942.0,1342.9 941.2,1347.4 940.4,1344.9 939.6,1349.3 938.8,1355.3 938.0,1356.0 937.2,1350.7 936.4,1354.2 935.6,1356.8 934.8,1352.3 934.0,1356.9 933.2,1353.5 932.4,1361.4 931.6,1362.4 930.8,1374.1 930.0,1356.5 929.2,1360.3 928.4,1358.4 927.6,1371.5 926.8,1359.9 926.0,1361.5 925.2,1364.5 924.4,1365.2 923.6,1398.5 922.8,1371.8 922.0,1394.2 921.2,1372.5 920.4,1393.6 919.6,1384.4 918.8,1376.4 918.0,1397.4 917.2,1386.3 916.4,1388.7 915.6,1390.0 914.8,1399.6 914.0,1385.7 913.2,1375.4 912.4,1367.6 911.6,1381.3 910.8,1366.4 910.0,1388.8 909.2,1391.6 908.4,1371.1 907.6,1361.7 906.8,1371.2 906.0,1360.0 905.2,1360.7 904.4,1376.8 903.6,1357.5 902.8,1361.6 902.0,1373.2 901.2,1356.7 900.4,1353.3 899.6,1356.6 898.8,1361.4 898.0,1368.4 897.2,1366.9 896.4,1347.6 895.6,1346.6 894.8,1352.4 894.0,1346.1 893.2,1347.7 892.4,1347.3 891.6,1349.3 890.8,1349.1 890.0,1350.0 889.2,1358.1 888.4,1352.2 887.6,1353.3 886.8,1359.3 886.0,1355.3 885.2,1360.3 884.4,1367.5 883.6,1385.6 882.8,1379.7 882.0,1372.4 881.2,1371.3 880.4,1399.2 879.6,1366.2 878.8,1385.2 878.0,1361.4 877.2,1362.7 876.4,1357.8 875.6,1364.5 874.8,1351.1 874.0,1349.1 873.2,1362.8 872.4,1346.5 871.6,1345.4 870.8,1351.8 870.0,1356.6 869.2,1347.3 868.4,1353.5 867.6,1359.8 866.8,1361.4 866.0,1355.7 865.2,1357.9 864.4,1380.3 863.6,1381.3 862.8,1382.5 862.0,1370.0 861.2,1374.2 860.4,1375.9 859.6,1379.8 858.8,1378.2 858.0,1373.8 857.2,1387.8 856.4,1384.7 855.6,1367.8 854.8,1364.6 854.0,1363.1 853.2,1376.7 852.4,1361.3 851.6,1370.6 850.8,1356.0 850.0,1355.0 849.2,1356.8 848.4,1352.6 847.6,1367.0 846.8,1361.5 846.0,1367.8 845.2,1351.3 844.4,1364.2 843.6,1347.8 842.8,1346.5 842.0,1353.5 841.2,1343.2 840.4,1342.9 839.6,1345.0 838.8,1345.5 838.0,1342.7 837.2,1346.1 836.4,1345.2 835.6,1343.2 834.8,1344.6 834.0,1350.9 833.2,1343.3 832.4,1343.6 831.6,1352.9 830.8,1349.8 830.0,1343.5 829.2,1349.3 828.4,1352.4 827.6,1342.6 826.8,1346.5 826.0,1346.8 825.2,1347.4 824.4,1352.6 823.6,1343.6 822.8,1358.6 822.0,1355.8 821.2,1359.8 820.4,1349.2 819.6,1355.0 818.8,1346.2 818.0,1361.5 817.2,1355.3 816.4,1358.9 815.6,1360.5 814.8,1371.6 814.0,1353.4 813.2,1374.1 812.4,1366.7 811.6,1384.1 810.8,1366.4 810.0,1379.1 809.2,1367.3 808.4,1377.7 807.6,1372.9 806.8,1376.1 806.0,1378.6 805.2,1380.6 804.4,1374.4 803.6,1379.9 802.8,1389.9 802.0,1380.4 801.2,1359.5 800.4,1369.4 799.6,1355.5 798.8,1356.8 798.0,1352.2 797.2,1351.6 796.4,1350.6 795.6,1345.0 794.8,1347.7 794.0,1349.4 793.2,1355.7 792.4,1366.5 791.6,1374.7 790.8,1362.5 790.0,1366.8 789.2,1405.7 788.4,1376.7 787.6,1386.1 786.8,1397.3 786.0,1387.9 785.2,1382.2 784.4,1381.2 783.6,1375.4 782.8,1391.9 782.0,1369.5 781.2,1365.1 780.4,1372.8 779.6,1375.8 778.8,1358.6 778.0,1372.3 777.2,1371.1 776.4,1354.1 775.6,1353.2 774.8,1350.1 774.0,1362.4 773.2,1346.6 772.4,1346.1 771.6,1344.3 770.8,1345.5 770.0,1352.5 769.2,1363.9 768.4,1352.1 767.6,1353.6 766.8,1349.5 766.0,1363.1 765.2,1364.9 764.4,1355.3 763.6,1353.2 762.8,1355.9 762.0,1356.7 761.2,1369.2 760.4,1356.5 759.6,1358.2 758.8,1364.4 758.0,1377.5 757.2,1360.9 756.4,1375.0 755.6,1367.0 754.8,1373.2 754.0,1395.2 753.2,1380.5 752.4,1371.3 751.6,1371.4 750.8,1375.9 750.0,1375.4 749.2,1377.2 748.4,1382.8 747.6,1375.2 746.8,1381.8 746.0,1387.5 745.2,1385.2 744.4,1407.1 743.6,1393.9 742.8,1386.3 742.0,1374.8 741.2,1377.8 740.4,1384.5 739.6,1389.1 738.8,1362.7 738.0,1374.7 737.2,1364.4 736.4,1366.4 735.6,1367.8 734.8,1373.0 734.0,1357.6 733.2,1356.9 732.4,1361.0 731.6,1358.1 730.8,1356.8 730.0,1356.2 729.2,1353.0 728.4,1350.1 727.6,1355.4 726.8,1357.5 726.0,1346.7 725.2,1352.3 724.4,1351.7 723.6,1353.5 722.8,1355.0 722.0,1362.0 721.2,1348.9 720.4,1357.5 719.6,1358.9 718.8,1352.0 718.0,1372.8 717.2,1367.7 716.4,1374.1 715.6,1359.7 714.8,1386.5 714.0,1376.1 713.2,1384.2 712.4,1367.9 711.6,1373.7 710.8,1403.5 710.0,1382.1 709.2,1373.4 708.4,1383.4 707.6,1365.8 706.8,1356.9 706.0,1353.8 705.2,1355.5 704.4,1360.2 703.6,1353.4 702.8,1351.7 702.0,1354.2 701.2,1347.8 700.4,1355.5 699.6,1358.6 698.8,1353.5 698.0,1352.4 697.2,1356.2 696.4,1353.8 695.6,1361.9 694.8,1365.7 694.0,1372.2 693.2,1364.9 692.4,1376.6 691.6,1371.5 690.8,1378.3 690.0,1383.1 689.2,1376.9 688.4,1376.1 687.6,1400.1 686.8,1394.5 686.0,1371.3 685.2,1376.4 684.4,1366.7 683.6,1361.9 682.8,1367.8 682.0,1359.6 681.2,1359.4 680.4,1364.8 679.6,1371.4 678.8,1366.0 678.0,1357.7 677.2,1361.9 676.4,1363.3 675.6,1353.5 674.8,1350.5 674.0,1356.8 673.2,1356.0 672.4,1344.9 671.6,1347.8 670.8,1352.2 670.0,1349.3 669.2,1346.7 668.4,1342.3 667.6,1356.6 666.8,1342.3 666.0,1349.0 665.2,1346.0 664.4,1342.5 663.6,1342.0 662.8,1353.8 662.0,1343.5 661.2,1351.8 660.4,1352.3 659.6,1348.7 658.8,1343.2 658.0,1353.8 657.2,1351.2 656.4,1349.2 655.6,1343.1 654.8,1343.8 654.0,1352.5 653.2,1352.9 652.4,1347.2 651.6,1348.8 650.8,1357.6 650.0,1349.8 649.2,1358.9 648.4,1346.8 647.6,1360.4 646.8,1366.5 646.0,1354.4 645.2,1359.5 644.4,1359.1 643.6,1377.5 642.8,1380.7 642.0,1373.9 641.2,1375.3 640.4,1392.9 639.6,1373.9 638.8,1385.5 638.0,1376.1 637.2,1409.8 636.4,1406.8 635.6,1387.5 634.8,1371.5 634.0,1374.3 633.2,1390.5 632.4,1372.9 631.6,1386.2 630.8,1356.2 630.0,1355.6 629.2,1353.0 628.4,1365.5 627.6,1348.8 626.8,1347.9 626.0,1349.4 625.2,1360.7 624.4,1356.0 623.6,1367.8 622.8,1354.7 622.0,1361.4 621.2,1368.4 620.4,1366.5 619.6,1376.4 618.8,1409.2 618.0,1378.2 617.2,1415.8 616.4,1392.5 615.6,1382.7 614.8,1390.5 614.0,1382.4 613.2,1388.4 612.4,1371.6 611.6,1393.7 610.8,1362.5 610.0,1363.0 609.2,1360.6 608.4,1363.3 607.6,1371.1 606.8,1352.3 606.0,1366.5 605.2,1348.7 604.4,1347.9 603.6,1347.1 602.8,1343.0 602.0,1343.5 601.2,1354.6 600.4,1351.2 599.6,1351.1 598.8,1360.6 598.0,1358.7 597.2,1354.2 596.4,1351.4 595.6,1361.4 594.8,1361.8 594.0,1371.2 593.2,1357.8 592.4,1368.9 591.6,1371.5 590.8,1368.8 590.0,1359.2 589.2,1373.4 588.4,1376.8 587.6,1380.2 586.8,1384.3 586.0,1364.0 585.2,1365.8 584.4,1365.4 583.6,1396.5 582.8,1371.3 582.0,1370.6 581.2,1374.0 580.4,1374.2 579.6,1379.2 578.8,1400.4 578.0,1377.1 577.2,1377.1 576.4,1374.8 575.6,1385.1 574.8,1387.6 574.0,1373.6 573.2,1389.2 572.4,1369.1 571.6,1370.0 570.8,1378.2 570.0,1383.4 569.2,1375.6 568.4,1368.8 567.6,1377.2 566.8,1360.7 566.0,1387.0 565.2,1363.1 564.4,1370.5 563.6,1364.1 562.8,1361.2 562.0,1366.2 561.2,1354.3 560.4,1358.2 559.6,1351.5 558.8,1359.7 558.0,1350.6 557.2,1347.9 556.4,1347.9 555.6,1346.0 554.8,1356.7 554.0,1345.4 553.2,1355.7 552.4,1348.0 551.6,1351.9 550.8,1349.7 550.0,1354.8 549.2,1373.2 548.4,1352.9 547.6,1357.3 546.8,1366.7 546.0,1359.3 545.2,1358.8 544.4,1361.7 543.6,1382.8 542.8,1371.9 542.0,1393.6 541.2,1371.2 540.4,1368.3 539.6,1366.3 538.8,1361.2 538.0,1358.5 537.2,1363.2 536.4,1360.2 535.6,1367.7 534.8,1353.8 534.0,1348.3 533.2,1346.7 532.4,1353.2 531.6,1348.3 530.8,1346.6 530.0,1359.8 529.2,1352.9 528.4,1352.6 527.6,1351.8 526.8,1356.1 526.0,1369.0 525.2,1359.1 524.4,1376.3 523.6,1364.3 522.8,1392.3 522.0,1371.0 521.2,1383.5 520.4,1387.8 519.6,1378.7 518.8,1394.8 518.0,1396.3 517.2,1370.4 516.4,1394.9 515.6,1363.3 514.8,1371.6 514.0,1361.0 513.2,1380.6 512.4,1366.6 511.6,1369.1 510.8,1359.3 510.0,1375.0 509.2,1357.0 508.4,1354.0 507.6,1355.2 506.8,1353.8 506.0,1354.8 505.2,1352.4 504.4,1355.4 503.6,1358.2 502.8,1346.4 502.0,1344.4 501.2,1349.7 500.4,1345.4 499.6,1346.4 498.8,1349.0 498.0,1342.7 497.2,1348.0 496.4,1353.4 495.6,1351.7 494.8,1342.8 494.0,1342.4 493.2,1345.5 492.4,1343.8 491.6,1347.8Z" fill="#9ac9d9"/>
<path d="M491.6,1305.3 492.4,1297.2 493.2,1304.8 494.0,1291.5 494.8,1303.5 495.6,1299.3 496.4,1302.8 497.2,1305.5 498.0,1303.9 498.8,1303.5 499.6,1303.4 500.4,1305.2 501.2,1302.8 502.0,1305.4 502.8,1303.8 503.6,1304.0 504.4,1305.3 505.2,1292.6 506.0,1302.5 506.8,1302.6 507.6,1304.6 508.4,1305.2 509.2,1301.5 510.0,1301.2 510.8,1290.8 511.6,1297.4 512.4,1301.8 513.2,1304.6 514.0,1300.1 514.8,1303.2 515.6,1301.6 516.4,1303.1 517.2,1303.6 518.0,1303.6 518.8,1300.5 519.6,1304.4 520.4,1305.2 521.2,1305.3 522.0,1302.7 522.8,1303.0 523.6,1302.5 524.4,1305.5 525.2,1305.0 526.0,1291.1 526.8,1305.0 527.6,1290.5 528.4,1301.8 529.2,1303.5 530.0,1292.1 530.8,1304.0 531.6,1289.0 532.4,1305.6 533.2,1302.1 534.0,1304.9 534.8,1303.2 535.6,1300.0 536.4,1303.8 537.2,1300.1 538.0,1302.6 538.8,1303.2 539.6,1299.5 540.4,1305.3 541.2,1302.7 542.0,1302.4 542.8,1292.6 543.6,1304.0 544.4,1302.2 545.2,1303.5 546.0,1304.6 546.8,1301.5 547.6,1304.7 548.4,1302.8 549.2,1304.4 550.0,1302.0 550.8,1302.2 551.6,1302.7 552.4,1301.5 553.2,1304.1 554.0,1291.5 554.8,1304.3 555.6,1304.6 556.4,1304.3 557.2,1289.4 558.0,1291.1 558.8,1301.9 559.6,1304.7 560.4,1302.7 561.2,1298.4 562.0,1304.1 562.8,1290.6 563.6,1293.0 564.4,1302.5 565.2,1303.7 566.0,1301.6 566.8,1290.1 567.6,1293.5 568.4,1303.5 569.2,1303.0 570.0,1304.4 570.8,1304.7 571.6,1302.4 572.4,1302.6 573.2,1285.7 574.0,1305.6 574.8,1303.0 575.6,1292.3 576.4,1305.6 577.2,1289.8 578.0,1304.1 578.8,1304.9 579.6,1298.0 580.4,1305.6 581.2,1296.8 582.0,1305.6 582.8,1291.9 583.6,1305.1 584.4,1301.7 585.2,1302.8 586.0,1304.7 586.8,1304.4 587.6,1302.5 588.4,1305.0 589.2,1304.8 590.0,1303.4 590.8,1304.9 591.6,1302.4 592.4,1303.5 593.2,1302.3 594.0,1300.9 594.8,1301.5 595.6,1303.3 596.4,1301.6 597.2,1304.3 598.0,1304.5 598.8,1303.8 599.6,1293.4 600.4,1292.2 601.2,1305.0 602.0,1286.7 602.8,1301.0 603.6,1303.0 604.4,1303.4 605.2,1301.8 606.0,1301.8 606.8,1304.7 607.6,1291.4 608.4,1304.6 609.2,1303.4 610.0,1291.2 610.8,1304.1 611.6,1304.3 612.4,1302.3 613.2,1304.8 614.0,1292.3 614.8,1288.8 615.6,1294.7 616.4,1304.6 617.2,1301.2 618.0,1304.9 618.8,1304.5 619.6,1303.6 620.4,1295.9 621.2,1304.5 622.0,1294.0 622.8,1302.7 623.6,1302.0 624.4,1303.3 625.2,1305.4 626.0,1302.0 626.8,1304.5 627.6,1304.9 628.4,1303.8 629.2,1295.4 630.0,1294.1 630.8,1301.7 631.6,1301.8 632.4,1302.3 633.2,1291.2 634.0,1302.4 634.8,1305.3 635.6,1302.7 636.4,1303.5 637.2,1302.4 638.0,1294.4 638.8,1304.7 639.6,1300.4 640.4,1305.1 641.2,1289.2 642.0,1303.2 642.8,1305.5 643.6,1301.8 644.4,1301.3 645.2,1294.9 646.0,1303.9 646.8,1303.1 647.6,1305.0 648.4,1293.2 649.2,1292.1 650.0,1304.8 650.8,1304.6 651.6,1303.1 652.4,1301.7 653.2,1302.8 654.0,1305.1 654.8,1304.3 655.6,1301.5 656.4,1298.7 657.2,1302.3 658.0,1304.4 658.8,1304.0 659.6,1305.0 660.4,1289.2 661.2,1302.9 662.0,1305.5 662.8,1304.7 663.6,1304.6 664.4,1301.5 665.2,1305.4 666.0,1302.3 666.8,1301.6 667.6,1303.2 668.4,1295.2 669.2,1303.7 670.0,1303.2 670.8,1302.7 671.6,1302.6 672.4,1297.4 673.2,1301.6 674.0,1303.8 674.8,1303.0 675.6,1296.8 676.4,1300.8 677.2,1301.9 678.0,1290.7 678.8,1303.4 679.6,1303.7 680.4,1303.9 681.2,1294.0 682.0,1303.6 682.8,1302.7 683.6,1294.2 684.4,1304.5 685.2,1302.1 686.0,1305.3 686.8,1303.6 687.6,1303.9 688.4,1303.5 689.2,1303.8 690.0,1288.7 690.8,1304.5 691.6,1303.3 692.4,1296.1 693.2,1292.3 694.0,1301.7 694.8,1304.7 695.6,1303.6 696.4,1303.9 697.2,1292.9 698.0,1303.0 698.8,1302.1 699.6,1303.3 700.4,1291.4 701.2,1303.1 702.0,1303.4 702.8,1303.7 703.6,1302.7 704.4,1303.7 705.2,1292.3 706.0,1304.5 706.8,1304.4 707.6,1303.1 708.4,1301.3 709.2,1303.7 710.0,1294.1 710.8,1303.2 711.6,1302.7 712.4,1304.0 713.2,1304.1 714.0,1294.1 714.8,1303.8 715.6,1304.2 716.4,1301.6 717.2,1303.2 718.0,1304.3 718.8,1305.3 719.6,1305.0 720.4,1304.2 721.2,1305.2 722.0,1303.5 722.8,1303.7 723.6,1303.1 724.4,1303.3 725.2,1302.2 726.0,1302.7 726.8,1304.1 727.6,1298.8 728.4,1293.1 729.2,1287.5 730.0,1304.7 730.8,1302.2 731.6,1296.0 732.4,1302.7 733.2,1305.2 734.0,1300.9 734.8,1303.7 735.6,1305.0 736.4,1305.1 737.2,1298.4 738.0,1302.5 738.8,1304.9 739.6,1303.6 740.4,1304.0 741.2,1303.9 742.0,1301.4 742.8,1301.6 743.6,1305.4 744.4,1304.0 745.2,1304.8 746.0,1302.8 746.8,1304.5 747.6,1304.9 748.4,1289.6 749.2,1304.8 750.0,1303.7 750.8,1302.2 751.6,1304.3 752.4,1302.9 753.2,1304.3 754.0,1301.9 754.8,1302.1 755.6,1301.9 756.4,1302.0 757.2,1297.8 758.0,1288.1 758.8,1304.6 759.6,1296.9 760.4,1296.3 761.2,1302.8 762.0,1290.5 762.8,1301.5 763.6,1303.2 764.4,1304.9 765.2,1303.7 766.0,1301.6 766.8,1304.6 767.6,1293.8 768.4,1292.3 769.2,1302.4 770.0,1303.9 770.8,1302.1 771.6,1304.4 772.4,1304.0 773.2,1298.3 774.0,1289.7 774.8,1303.1 775.6,1303.9 776.4,1302.4 777.2,1302.1 778.0,1292.5 778.8,1302.1 779.6,1303.6 780.4,1295.7 781.2,1303.2 782.0,1302.8 782.8,1305.0 783.6,1298.5 784.4,1290.0 785.2,1305.3 786.0,1305.2 786.8,1302.7 787.6,1301.3 788.4,1304.0 789.2,1290.6 790.0,1301.5 790.8,1294.3 791.6,1290.2 792.4,1302.1 793.2,1305.6 794.0,1303.2 794.8,1305.3 795.6,1292.6 796.4,1294.4 797.2,1303.3 798.0,1296.9 798.8,1302.3 799.6,1287.9 800.4,1304.6 801.2,1300.5 802.0,1301.3 802.8,1297.6 803.6,1294.9 804.4,1294.8 805.2,1304.0 806.0,1295.5 806.8,1296.2 807.6,1303.6 808.4,1305.0 809.2,1293.7 810.0,1301.5 810.8,1304.2 811.6,1304.2 812.4,1305.4 813.2,1304.1 814.0,1302.4 814.8,1305.5 815.6,1302.8 816.4,1294.5 817.2,1295.4 818.0,1305.5 818.8,1292.1 819.6,1302.9 820.4,1303.9 821.2,1302.1 822.0,1303.2 822.8,1302.5 823.6,1296.2 824.4,1301.9 825.2,1303.1 826.0,1301.7 826.8,1302.2 827.6,1292.6 828.4,1302.0 829.2,1303.2 830.0,1292.7 830.8,1301.9 831.6,1304.3 832.4,1300.1 833.2,1303.8 834.0,1304.9 834.8,1305.1 835.6,1302.4 836.4,1304.3 837.2,1302.5 838.0,1300.7 838.8,1303.8 839.6,1303.9 840.4,1303.6 841.2,1305.4 842.0,1302.6 842.8,1302.6 843.6,1305.0 844.4,1304.3 845.2,1303.5 846.0,1303.7 846.8,1303.1 847.6,1303.8 848.4,1302.8 849.2,1304.3 850.0,1304.8 850.8,1302.6 851.6,1297.8 852.4,1302.2 853.2,1301.6 854.0,1303.1 854.8,1294.7 855.6,1289.8 856.4,1304.6 857.2,1303.5 858.0,1303.5 858.8,1288.1 859.6,1296.9 860.4,1303.5 861.2,1303.8 862.0,1305.6 862.8,1305.0 863.6,1305.4 864.4,1304.7 865.2,1304.1 866.0,1295.2 866.8,1302.5 867.6,1301.8 868.4,1303.0 869.2,1304.2 870.0,1304.7 870.8,1298.7 871.6,1302.8 872.4,1288.2 873.2,1300.5 874.0,1289.4 874.8,1301.5 875.6,1305.2 876.4,1303.3 877.2,1295.1 878.0,1294.3 878.8,1302.2 879.6,1304.2 880.4,1302.2 881.2,1304.7 882.0,1303.1 882.8,1303.1 883.6,1301.5 884.4,1304.3 885.2,1301.7 886.0,1305.0 886.8,1291.4 887.6,1301.8 888.4,1302.0 889.2,1304.2 890.0,1296.1 890.8,1304.8 891.6,1304.7 892.4,1305.2 893.2,1302.3 894.0,1295.3 894.8,1304.2 895.6,1303.3 896.4,1296.1 897.2,1304.5 898.0,1294.4 898.8,1305.1 899.6,1305.0 900.4,1303.3 901.2,1303.6 902.0,1305.1 902.8,1302.8 903.6,1302.6 904.4,1293.2 905.2,1305.0 906.0,1301.9 906.8,1299.6 907.6,1302.9 908.4,1302.2 909.2,1303.0 910.0,1302.5 910.8,1303.1 911.6,1301.7 912.4,1304.7 913.2,1303.7 914.0,1301.7 914.8,1301.9 915.6,1302.5 916.4,1302.6 917.2,1304.0 918.0,1301.0 918.8,1301.5 919.6,1303.7 920.4,1302.6 921.2,1304.4 922.0,1302.7 922.8,1305.3 923.6,1304.6 924.4,1295.3 925.2,1302.9 926.0,1304.4 926.8,1304.1 927.6,1303.2 928.4,1305.4 929.2,1304.9 930.0,1296.6 930.8,1302.8 931.6,1303.8 932.4,1302.5 933.2,1305.5 934.0,1300.9 934.8,1304.3 935.6,1301.9 936.4,1304.3 937.2,1303.8 938.0,1303.5 938.8,1291.4 939.6,1302.2 940.4,1302.0 941.2,1302.2 942.0,1305.0 942.8,1298.7 943.6,1305.4 944.4,1305.4 945.2,1301.9 946.0,1289.5 946.8,1304.0 947.6,1293.3 948.4,1290.0 949.2,1303.4 950.0,1304.4 950.8,1298.5 951.6,1301.5 952.4,1302.1 953.2,1303.4 954.0,1294.7 954.8,1304.5 955.6,1305.4 956.4,1302.9 957.2,1288.9 958.0,1294.9 958.8,1305.2 959.6,1302.0 960.4,1290.1 961.2,1302.3 962.0,1305.5 962.8,1291.6 963.6,1301.2 964.4,1305.4 965.2,1305.5 966.0,1301.8 966.8,1303.2 967.6,1302.2 968.4,1305.6 969.2,1302.5 970.0,1301.5 970.8,1302.9 971.6,1305.3 972.4,1302.1 973.2,1299.0 974.0,1298.4 974.8,1290.1 975.6,1303.7 976.4,1302.2 977.2,1304.6 978.0,1304.9 978.8,1304.1 979.6,1294.8 980.4,1304.2 981.2,1299.2 982.0,1301.9 982.8,1301.9 983.6,1296.4 984.4,1302.8 985.2,1304.8 986.0,1303.9 986.8,1304.5 987.6,1305.4 988.4,1303.8 989.2,1303.5 990.0,1301.0 990.8,1305.5 991.6,1304.5 992.4,1303.7 993.2,1301.5 994.0,1304.7 994.8,1292.6 995.6,1303.7 996.4,1303.6 997.2,1302.8 998.0,1303.8 998.8,1302.3 999.6,1301.9 1000.4,1304.2 1000.4,1346.5 999.6,1343.8 998.8,1344.0 998.0,1354.8 997.2,1348.6 996.4,1345.0 995.6,1357.5 994.8,1346.5 994.0,1347.4 993.2,1346.0 992.4,1347.6 991.6,1358.5 990.8,1344.8 990.0,1344.1 989.2,1343.6 988.4,1346.8 987.6,1347.2 986.8,1358.1 986.0,1344.1 985.2,1347.0 984.4,1346.1 983.6,1345.6 982.8,1346.0 982.0,1343.8 981.2,1345.2 980.4,1346.6 979.6,1345.6 978.8,1344.3 978.0,1357.5 977.2,1347.0 976.4,1343.9 975.6,1349.3 974.8,1346.5 974.0,1344.7 973.2,1350.8 972.4,1350.4 971.6,1349.0 970.8,1344.0 970.0,1346.8 969.2,1345.4 968.4,1343.9 967.6,1359.3 966.8,1346.0 966.0,1346.7 965.2,1344.5 964.4,1345.6 963.6,1352.8 962.8,1356.0 962.0,1345.9 961.2,1345.1 960.4,1346.3 959.6,1345.2 958.8,1347.3 958.0,1345.2 957.2,1347.0 956.4,1347.5 955.6,1351.2 954.8,1345.9 954.0,1347.3 953.2,1356.1 952.4,1346.1 951.6,1345.4 950.8,1346.2 950.0,1360.7 949.2,1345.4 948.4,1355.9 947.6,1346.7 946.8,1345.2 946.0,1345.4 945.2,1347.6 944.4,1351.9 943.6,1344.9 942.8,1350.7 942.0,1346.5 941.2,1344.1 940.4,1344.4 939.6,1347.5 938.8,1346.9 938.0,1346.6 937.2,1352.2 936.4,1353.3 935.6,1347.2 934.8,1353.7 934.0,1359.8 933.2,1352.6 932.4,1354.7 931.6,1353.5 930.8,1354.0 930.0,1346.5 929.2,1354.2 928.4,1344.0 927.6,1343.5 926.8,1346.5 926.0,1346.4 925.2,1346.5 924.4,1345.0 923.6,1346.8 922.8,1353.9 922.0,1345.1 921.2,1344.0 920.4,1351.8 919.6,1347.2 918.8,1360.0 918.0,1346.7 917.2,1346.6 916.4,1344.7 915.6,1357.9 914.8,1345.3 914.0,1347.6 913.2,1345.9 912.4,1345.3 911.6,1347.3 910.8,1350.6 910.0,1354.9 909.2,1351.2 908.4,1344.2 907.6,1343.6 906.8,1347.7 906.0,1352.1 905.2,1344.5 904.4,1346.0 903.6,1346.6 902.8,1347.3 902.0,1344.7 901.2,1360.1 900.4,1344.3 899.6,1344.7 898.8,1346.8 898.0,1345.3 897.2,1346.8 896.4,1347.2 895.6,1343.9 894.8,1346.5 894.0,1347.4 893.2,1350.5 892.4,1346.8 891.6,1343.9 890.8,1344.8 890.0,1345.0 889.2,1352.9 888.4,1346.5 887.6,1345.0 886.8,1346.3 886.0,1346.2 885.2,1354.0 884.4,1346.4 883.6,1347.6 882.8,1351.2 882.0,1344.1 881.2,1347.4 880.4,1346.7 879.6,1345.4 878.8,1345.5 878.0,1359.2 877.2,1347.1 876.4,1351.3 875.6,1347.0 874.8,1346.1 874.0,1345.5 873.2,1345.5 872.4,1352.3 871.6,1356.9 870.8,1346.2 870.0,1345.5 869.2,1353.5 868.4,1344.1 867.6,1348.1 866.8,1346.8 866.0,1346.2 865.2,1343.8 864.4,1359.9 863.6,1346.2 862.8,1345.9 862.0,1350.0 861.2,1343.5 860.4,1357.1 859.6,1344.7 858.8,1352.9 858.0,1344.4 857.2,1343.6 856.4,1347.6 855.6,1359.1 854.8,1344.4 854.0,1343.7 853.2,1351.8 852.4,1345.7 851.6,1349.3 850.8,1347.0 850.0,1345.0 849.2,1347.3 848.4,1344.0 847.6,1348.7 846.8,1344.0 846.0,1347.2 845.2,1357.0 844.4,1345.1 843.6,1355.8 842.8,1347.6 842.0,1346.3 841.2,1344.8 840.4,1344.3 839.6,1345.3 838.8,1348.5 838.0,1344.5 837.2,1346.9 836.4,1344.3 835.6,1343.9 834.8,1360.9 834.0,1344.1 833.2,1344.4 832.4,1347.3 831.6,1344.8 830.8,1353.3 830.0,1344.4 829.2,1354.1 828.4,1343.7 827.6,1343.8 826.8,1346.1 826.0,1359.1 825.2,1343.8 824.4,1345.5 823.6,1344.4 822.8,1347.6 822.0,1347.1 821.2,1344.5 820.4,1350.3 819.6,1357.4 818.8,1352.1 818.0,1345.3 817.2,1346.5 816.4,1343.6 815.6,1346.3 814.8,1347.5 814.0,1345.6 813.2,1346.0 812.4,1344.3 811.6,1344.2 810.8,1343.7 810.0,1350.0 809.2,1356.6 808.4,1346.0 807.6,1346.0 806.8,1346.9 806.0,1344.2 805.2,1350.3 804.4,1355.0 803.6,1347.8 802.8,1343.7 802.0,1343.9 801.2,1345.8 800.4,1353.4 799.6,1353.8 798.8,1345.2 798.0,1360.5 797.2,1357.5 796.4,1345.6 795.6,1348.3 794.8,1349.6 794.0,1345.0 793.2,1353.8 792.4,1343.9 791.6,1345.3 790.8,1360.6 790.0,1347.5 789.2,1344.9 788.4,1347.6 787.6,1360.2 786.8,1343.9 786.0,1344.9 785.2,1346.6 784.4,1345.9 783.6,1345.1 782.8,1345.9 782.0,1346.4 781.2,1346.1 780.4,1345.0 779.6,1356.2 778.8,1345.6 778.0,1347.3 777.2,1359.0 776.4,1346.3 775.6,1346.6 774.8,1355.8 774.0,1353.7 773.2,1344.4 772.4,1354.1 771.6,1344.3 770.8,1345.3 770.0,1350.7 769.2,1345.2 768.4,1345.9 767.6,1346.6 766.8,1345.9 766.0,1343.7 765.2,1353.3 764.4,1346.9 763.6,1344.4 762.8,1355.5 762.0,1346.4 761.2,1347.5 760.4,1362.5 759.6,1358.2 758.8,1362.5 758.0,1344.8 757.2,1343.9 756.4,1345.0 755.6,1345.5 754.8,1345.7 754.0,1353.7 753.2,1349.6 752.4,1344.9 751.6,1347.1 750.8,1351.4 750.0,1358.9 749.2,1346.1 748.4,1344.9 747.6,1346.6 746.8,1358.0 746.0,1347.2 745.2,1347.1 744.4,1345.0 743.6,1344.6 742.8,1344.7 742.0,1347.1 741.2,1344.1 740.4,1344.2 739.6,1347.0 738.8,1345.8 738.0,1347.3 737.2,1346.1 736.4,1359.1 735.6,1344.1 734.8,1344.0 734.0,1344.1 733.2,1347.6 732.4,1343.8 731.6,1359.9 730.8,1355.0 730.0,1343.5 729.2,1352.4 728.4,1360.5 727.6,1355.1 726.8,1346.3 726.0,1344.2 725.2,1346.9 724.4,1346.5 723.6,1345.7 722.8,1343.8 722.0,1344.5 721.2,1344.8 720.4,1346.5 719.6,1358.8 718.8,1346.3 718.0,1346.4 717.2,1351.5 716.4,1344.6 715.6,1344.5 714.8,1345.6 714.0,1344.4 713.2,1345.7 712.4,1343.6 711.6,1344.1 710.8,1347.5 710.0,1344.0 709.2,1345.5 708.4,1350.1 707.6,1356.4 706.8,1353.8 706.0,1346.3 705.2,1346.4 704.4,1346.8 703.6,1344.5 702.8,1352.6 702.0,1344.8 701.2,1344.9 700.4,1346.4 699.6,1355.1 698.8,1346.1 698.0,1347.0 697.2,1346.3 696.4,1346.9 695.6,1345.8 694.8,1343.9 694.0,1346.7 693.2,1355.5 692.4,1345.4 691.6,1347.2 690.8,1352.1 690.0,1348.0 689.2,1345.9 688.4,1344.8 687.6,1347.2 686.8,1356.5 686.0,1358.8 685.2,1346.7 684.4,1352.4 683.6,1343.9 682.8,1346.8 682.0,1344.7 681.2,1355.9 680.4,1347.4 679.6,1346.0 678.8,1347.3 678.0,1345.4 677.2,1343.8 676.4,1346.7 675.6,1344.7 674.8,1347.0 674.0,1344.0 673.2,1344.3 672.4,1344.2 671.6,1345.3 670.8,1354.2 670.0,1347.0 669.2,1347.2 668.4,1352.7 667.6,1346.3 666.8,1359.4 666.0,1345.1 665.2,1343.9 664.4,1344.4 663.6,1346.6 662.8,1345.0 662.0,1344.4 661.2,1358.4 660.4,1344.7 659.6,1344.0 658.8,1347.2 658.0,1347.1 657.2,1346.4 656.4,1344.2 655.6,1350.9 654.8,1347.6 654.0,1352.7 653.2,1345.7 652.4,1344.3 651.6,1347.0 650.8,1359.2 650.0,1346.6 649.2,1355.0 648.4,1346.4 647.6,1355.0 646.8,1346.0 646.0,1360.4 645.2,1346.6 644.4,1345.1 643.6,1346.7 642.8,1345.4 642.0,1355.4 641.2,1347.1 640.4,1347.4 639.6,1355.4 638.8,1346.0 638.0,1344.1 637.2,1344.5 636.4,1345.2 635.6,1357.5 634.8,1346.1 634.0,1344.8 633.2,1345.6 632.4,1344.3 631.6,1355.2 630.8,1343.5 630.0,1345.4 629.2,1344.8 628.4,1363.6 627.6,1347.5 626.8,1358.8 626.0,1348.5 625.2,1345.1 624.4,1344.8 623.6,1351.6 622.8,1345.5 622.0,1347.0 621.2,1344.6 620.4,1344.8 619.6,1346.3 618.8,1345.8 618.0,1346.9 617.2,1343.8 616.4,1345.5 615.6,1346.5 614.8,1345.8 614.0,1360.7 613.2,1346.3 612.4,1357.6 611.6,1345.5 610.8,1350.4 610.0,1347.0 609.2,1347.0 608.4,1354.1 607.6,1344.2 606.8,1357.1 606.0,1346.7 605.2,1346.9 604.4,1347.8 603.6,1349.8 602.8,1344.6 602.0,1350.8 601.2,1344.5 600.4,1346.0 599.6,1344.4 598.8,1344.7 598.0,1350.8 597.2,1356.5 596.4,1351.2 595.6,1358.1 594.8,1343.6 594.0,1346.4 593.2,1358.3 592.4,1346.8 591.6,1343.6 590.8,1347.1 590.0,1359.7 589.2,1345.3 588.4,1344.4 587.6,1343.6 586.8,1346.9 586.0,1344.5 585.2,1355.4 584.4,1347.4 583.6,1345.1 582.8,1352.0 582.0,1346.4 581.2,1346.3 580.4,1343.8 579.6,1355.1 578.8,1347.4 578.0,1353.4 577.2,1347.4 576.4,1344.9 575.6,1343.6 574.8,1347.2 574.0,1343.8 573.2,1346.8 572.4,1344.1 571.6,1354.6 570.8,1346.3 570.0,1345.7 569.2,1347.6 568.4,1347.1 567.6,1346.5 566.8,1345.8 566.0,1348.3 565.2,1346.1 564.4,1347.4 563.6,1347.0 562.8,1347.5 562.0,1359.4 561.2,1343.9 560.4,1344.2 559.6,1344.0 558.8,1346.0 558.0,1346.0 557.2,1350.3 556.4,1344.2 555.6,1345.2 554.8,1356.8 554.0,1343.8 553.2,1359.1 552.4,1345.0 551.6,1346.8 550.8,1344.2 550.0,1346.1 549.2,1345.6 548.4,1347.2 547.6,1356.9 546.8,1344.1 546.0,1345.7 545.2,1344.4 544.4,1353.7 543.6,1348.3 542.8,1344.1 542.0,1347.6 541.2,1347.6 540.4,1346.4 539.6,1357.3 538.8,1343.9 538.0,1343.7 537.2,1345.7 536.4,1354.7 535.6,1345.5 534.8,1352.2 534.0,1345.2 533.2,1344.5 532.4,1355.8 531.6,1349.0 530.8,1345.5 530.0,1347.2 529.2,1346.9 528.4,1345.1 527.6,1343.5 526.8,1348.6 526.0,1345.7 525.2,1344.2 524.4,1344.4 523.6,1345.5 522.8,1346.2 522.0,1345.7 521.2,1346.0 520.4,1346.3 519.6,1348.1 518.8,1343.6 518.0,1345.7 517.2,1346.9 516.4,1345.0 515.6,1349.4 514.8,1349.7 514.0,1344.9 513.2,1351.5 512.4,1346.2 511.6,1357.2 510.8,1347.6 510.0,1346.1 509.2,1360.2 508.4,1344.5 507.6,1352.0 506.8,1345.1 506.0,1343.8 505.2,1344.5 504.4,1360.8 503.6,1355.5 502.8,1356.4 502.0,1353.8 501.2,1346.8 500.4,1344.1 499.6,1357.4 498.8,1354.6 498.0,1346.1 497.2,1344.6 496.4,1343.7 495.6,1361.5 494.8,1353.4 494.0,1357.2 493.2,1344.3 492.4,1348.1 491.6,1346.2Z" fill="#ff8883"/>
<g stroke="#231f20" stroke-width="1.45" fill="none">
<path d="M491.6,1196.8 V1461.1000000000001 M491.0,1451.9 H1001.5"/>
<path d="M661.3,1451.9 v9.4"/>
<path d="M831.1,1451.9 v9.4"/>
<path d="M1000.8,1451.9 v9.4"/>
<path d="M481.90000000000003,1203.0 H491.6"/>
<path d="M481.90000000000003,1324.55 H491.6"/>
<path d="M481.90000000000003,1446.1 H491.6"/>
</g>
<text transform="translate(491.4 1487.0) scale(1.0 1)" font-size="30" text-anchor="middle">0</text>
<text transform="translate(661.1 1487.0) scale(1.0 1)" font-size="30" text-anchor="middle">1</text>
<text transform="translate(830.9 1487.0) scale(1.0 1)" font-size="30" text-anchor="middle">2</text>
<text transform="translate(1000.6 1487.0) scale(1.0 1)" font-size="30" text-anchor="middle">3</text>
<text transform="translate(746.0 1519.3) scale(1.036 1)" font-size="29" text-anchor="middle">Time (s)</text>
<text transform="translate(438.9 1325.5) rotate(-90) scale(1.027 1)" font-size="29.3" text-anchor="middle">Phase variation (rad)</text>
<text transform="translate(477.0 1213.4) scale(0.9 1)" font-size="29" text-anchor="end" font-style="italic" stroke="#231f20" stroke-width="0.45">&#960;</text>
<text transform="translate(477.9 1335.0) scale(1.04 1)" font-size="29" text-anchor="end">0</text>
<text transform="translate(477.0 1456.5) scale(0.9 1)" font-size="29" text-anchor="end"><tspan>-</tspan><tspan dx="1.6" font-style="italic" stroke="#231f20" stroke-width="0.45">&#960;</tspan></text>
<path d="M509.4,408 H541.6" stroke="#9ac9d9" stroke-width="3.7"/>
<path d="M509.4,447.1 H541.6" stroke="#bdd68c" stroke-width="3.7"/>
<path d="M820.2,408 H853.7" stroke="#ff8883" stroke-width="3.7"/>
<text x="547.8" y="414.4" font-size="26.4" text-anchor="start" textLength="252.5" lengthAdjust="spacingAndGlyphs">Pixel-level correction</text>
<text x="547.8" y="454.2" font-size="26.4" text-anchor="start" textLength="243.5" lengthAdjust="spacingAndGlyphs">FT-based correction</text>
<text x="857.0" y="414.4" font-size="26.4" text-anchor="start" textLength="103.5" lengthAdjust="spacingAndGlyphs">PRESIR</text>
<defs>
<filter id="fbg" x="0" y="0" width="100%" height="100%" color-interpolation-filters="sRGB">
<feTurbulence type="fractalNoise" baseFrequency="0.38" numOctaves="2" seed="4" result="n"/>
<feColorMatrix in="n" type="matrix" values="0.17 0 0 0 0.05  0.17 0 0 0 0.05  0.17 0 0 0 0.05  0 0 0 0 1"/>
</filter>
<filter id="fsp" x="0" y="0" width="100%" height="100%" color-interpolation-filters="sRGB">
<feTurbulence type="fractalNoise" baseFrequency="0.3 0.4" numOctaves="2" seed="9" result="n"/>
<feColorMatrix in="n" type="matrix" values="1.7 0 0 0 -0.35  1.7 0 0 0 -0.35  1.7 0 0 0 -0.35  0 0 0 0 1" result="g"/>
<feComposite in="SourceGraphic" in2="g" operator="arithmetic" k1="1.6" k2="0.2" k3="0" k4="0" result="m"/>
<feGaussianBlur in="m" stdDeviation="0.6"/>
</filter>
<filter id="fhaze" x="0" y="0" width="100%" height="100%" color-interpolation-filters="sRGB">
<feTurbulence type="fractalNoise" baseFrequency="0.3 0.4" numOctaves="2" seed="33" result="n"/>
<feColorMatrix in="n" type="matrix" values="1.1 0 0 0 -0.05  1.1 0 0 0 -0.05  1.1 0 0 0 -0.05  0 0 0 0 1" result="g"/>
<feComposite in="SourceGraphic" in2="g" operator="arithmetic" k1="1.6" k2="0.2" k3="0" k4="0" result="m"/>
<feGaussianBlur in="m" stdDeviation="0.7"/>
</filter>
<filter id="fblur" x="-2%" y="-2%" width="104%" height="104%" color-interpolation-filters="sRGB"><feGaussianBlur stdDeviation="0.95 0.75"/></filter>
<filter id="fdot" x="0" y="0" width="100%" height="100%" color-interpolation-filters="sRGB">
<feTurbulence type="fractalNoise" baseFrequency="0.22 0.3" numOctaves="2" seed="21" result="n"/>
<feColorMatrix in="n" type="matrix" values="4.2 0 0 0 -2.2  4.2 0 0 0 -2.2  4.2 0 0 0 -2.2  0 0 0 0 1" result="g"/>
<feComposite in="SourceGraphic" in2="g" operator="arithmetic" k1="2.6" k2="0.55" k3="0" k4="0" result="m"/>
<feGaussianBlur in="m" stdDeviation="0.7 0.45"/>
</filter>
<filter id="fins" x="0" y="0" width="100%" height="100%" color-interpolation-filters="sRGB">
<feTurbulence type="fractalNoise" baseFrequency="0.1 0.2" numOctaves="3" seed="5" result="n"/>
<feColorMatrix in="n" type="matrix" values="2.2 0 0 0 -0.6  2.2 0 0 0 -0.6  2.2 0 0 0 -0.6  0 0 0 0 1" result="g"/>
<feComposite in="SourceGraphic" in2="g" operator="arithmetic" k1="1.3" k2="0.4" k3="0" k4="0"/>
</filter>
<filter id="fins2" x="0" y="0" width="100%" height="100%" color-interpolation-filters="sRGB">
<feTurbulence type="fractalNoise" baseFrequency="0.07 0.1" numOctaves="3" seed="14" result="n"/>
<feColorMatrix in="n" type="matrix" values="1.9 0 0 0 -0.45  1.9 0 0 0 -0.45  1.9 0 0 0 -0.45  0 0 0 0 1" result="g"/>
<feComposite in="SourceGraphic" in2="g" operator="arithmetic" k1="1.5" k2="0.3" k3="0" k4="0" result="m"/>
<feGaussianBlur in="m" stdDeviation="0.8"/>
</filter>
<filter id="fbg2" x="0" y="0" width="100%" height="100%" color-interpolation-filters="sRGB">
<feTurbulence type="fractalNoise" baseFrequency="0.35" numOctaves="2" seed="8" result="n"/>
<feColorMatrix in="n" type="matrix" values="0.22 0 0 0 0.03  0.22 0 0 0 0.03  0.22 0 0 0 0.03  0 0 0 0 1"/>
</filter>
<filter id="fline" x="-5%" y="-50%" width="110%" height="200%" color-interpolation-filters="sRGB">
<feTurbulence type="fractalNoise" baseFrequency="0.16 0.02" numOctaves="2" seed="2" result="n"/>
<feColorMatrix in="n" type="matrix" values="1.8 0 0 0 -0.4  1.8 0 0 0 -0.4  1.8 0 0 0 -0.4  0 0 0 0 1" result="g"/>
<feComposite in="SourceGraphic" in2="g" operator="arithmetic" k1="1.3" k2="0.4" k3="0" k4="0" result="m"/>
<feGaussianBlur in="m" stdDeviation="0.55"/>
</filter>
<filter id="fglow" x="-5%" y="-50%" width="110%" height="200%" color-interpolation-filters="sRGB">
<feTurbulence type="fractalNoise" baseFrequency="0.1 0.02" numOctaves="2" seed="7" result="n"/>
<feColorMatrix in="n" type="matrix" values="2.4 0 0 0 -0.7  2.4 0 0 0 -0.7  2.4 0 0 0 -0.7  0 0 0 0 1" result="g"/>
<feComposite in="SourceGraphic" in2="g" operator="arithmetic" k1="1.6" k2="0.2" k3="0" k4="0" result="m"/>
<feGaussianBlur in="m" stdDeviation="1.2"/>
</filter>
<linearGradient id="gc" gradientUnits="userSpaceOnUse" x1="0" y1="79" x2="17.7" y2="299">
<stop offset="0" stop-color="#b8b8b8"/><stop offset="0.014" stop-color="#929292"/><stop offset="0.14" stop-color="#848484"/>
<stop offset="0.27" stop-color="#626262"/><stop offset="0.39" stop-color="#484848"/><stop offset="0.5" stop-color="#363636"/><stop offset="0.62" stop-color="#2c2c2c"/>
<stop offset="0.78" stop-color="#262626"/>
</linearGradient>
<linearGradient id="gcm" gradientUnits="userSpaceOnUse" x1="0" y1="79" x2="17.7" y2="299">
<stop offset="0" stop-color="#fff"/><stop offset="0.4" stop-color="#fff"/><stop offset="0.56" stop-color="#888"/><stop offset="0.74" stop-color="#000"/>
</linearGradient>
<mask id="mfade" maskUnits="userSpaceOnUse" x="0" y="0" width="310" height="300"><rect width="310" height="300" fill="url(#gcm)"/></mask>
<linearGradient id="gd" gradientUnits="userSpaceOnUse" x1="0" y1="53" x2="6" y2="293">
<stop offset="0" stop-color="#6a6a6a"/><stop offset="0.03" stop-color="#505050"/><stop offset="0.3" stop-color="#464646"/>
<stop offset="0.5" stop-color="#3c3c3c"/><stop offset="0.7" stop-color="#303030"/><stop offset="0.85" stop-color="#2a2a2a"/><stop offset="1" stop-color="#242424"/>
</linearGradient>
<linearGradient id="gic" x1="0" x2="0" y1="0" y2="1">
<stop offset="0" stop-color="#262626"/><stop offset="0.07" stop-color="#2c2c2c"/><stop offset="0.13" stop-color="#bcbcbc"/><stop offset="1" stop-color="#b8b8b8"/>
</linearGradient>
<linearGradient id="gid" x1="0" x2="0" y1="0" y2="1">
<stop offset="0" stop-color="#222"/><stop offset="0.08" stop-color="#2a2a2a"/><stop offset="0.15" stop-color="#8c8c8c"/><stop offset="1" stop-color="#868686"/>
</linearGradient>
</defs>
<svg x="48.3" y="459.2" width="302.7" height="293.3" viewBox="0 0 302.7 293.3" overflow="hidden">
<rect width="302.7" height="293.3" filter="url(#fbg)"/>
<g mask="url(#mfade)"><g filter="url(#fsp)"><polygon points="0,79.2 302.7,54.8 302.7,293.3 0,293.3" fill="url(#gc)"/></g></g>
</svg>
<rect x="169.85" y="524.9" width="20.2" height="36.4" fill="none" stroke="#fbb03b" stroke-width="3.7"/>
<svg x="270.5" y="622.1" width="63.3" height="113.2" viewBox="0 0 63.3 113.2"><g filter="url(#fins)"><rect width="63.3" height="113.2" fill="url(#gic)"/></g></svg>
<rect x="270.5" y="622.1" width="63.25" height="113.15" fill="none" stroke="#fbb03b" stroke-width="3.2"/>
<polygon points="291.7,658.6 312.5,656.3 312.5,711.8 291.7,714.3" fill="none" stroke="#ed1e79" stroke-width="4.8"/>
<path d="M61.70,665.8 h6.6 V732.90 H118.8 v5.9 H61.70 Z" fill="#fff"/>
<svg x="48.3" y="822.8" width="302.7" height="293.0" viewBox="0 0 302.7 293.0" overflow="hidden">
<rect width="302.7" height="293.0" filter="url(#fbg)"/>
<g filter="url(#fhaze)"><polygon points="0,53.2 302.7,45.2 302.7,293.0 0,293.0" fill="url(#gd)"/></g>
<g filter="url(#fblur)" fill="none" stroke-linecap="round" stroke-width="2.7"><path stroke="#5f5f5f" stroke-opacity="0.65" d="M101.3,51.7h1.5M131.5,50.5h3.6M305.6,49.4h3.6M45.5,52.6h2.2M63.8,55.8h3.6M114.0,54.8h1.5M132.9,54.0h1.5M266.3,54.2h2.8M67.5,58.8h1.5M120.7,57.8h1.5M164.0,57.0h2.2M172.6,57.9h2.8M190.8,58.5h2.8M199.9,59.6h3.6M187.9,63.0h2.2M33.4,68.2h3.6M52.2,66.9h3.6M90.2,67.8h2.8M221.0,67.6h1.5M230.2,67.8h2.8M289.3,65.2h2.8M46.5,73.2h3.6M64.4,71.7h1.5M73.9,69.7h2.8M89.0,71.0h2.8M282.9,70.1h2.8M41.4,74.5h2.2M153.1,74.6h3.6M173.5,76.6h1.5M202.5,74.6h2.8M259.4,75.7h2.2M9.1,78.6h1.5M100.5,80.4h3.6M107.6,79.5h3.6M171.2,80.0h1.5M255.5,82.0h2.8M3.3,84.0h3.6M15.3,85.7h3.6M40.2,85.6h2.8M92.7,83.9h2.2M285.9,85.8h2.2M7.4,89.9h1.5M59.4,89.2h3.6M272.7,89.1h2.2M71.7,92.3h2.8M86.5,93.9h3.6M106.5,92.5h3.6M250.0,94.5h1.5M270.6,92.6h1.5M15.3,98.2h2.2M117.9,96.8h3.6M136.5,97.9h1.5M237.0,96.7h2.8M19.7,99.9h2.8M35.6,99.8h1.5M40.0,100.4h3.6M47.4,102.1h2.2M54.6,103.4h2.8M73.2,101.8h1.5M129.9,100.4h2.2M178.9,102.7h2.2M185.0,101.9h3.6M243.4,100.7h3.6M259.1,103.3h2.8M197.7,104.9h2.2M105.4,111.1h1.5M39.5,115.9h2.2M44.7,115.7h2.2M105.9,112.6h1.5M174.2,116.0h2.8M228.7,115.0h3.6M16.3,117.4h2.8M261.7,119.6h3.6M39.3,124.7h2.8M74.7,122.4h1.5M194.6,122.7h2.2M219.9,122.5h3.6M243.9,124.6h2.8M31.4,126.0h3.6M47.2,129.0h1.5M75.3,127.1h2.8M142.8,126.2h2.2M155.8,125.7h2.2M268.7,126.8h1.5M26.4,130.3h2.2M62.7,130.9h3.6M126.0,133.4h2.8M142.0,132.1h1.5M227.7,131.2h2.2M241.2,131.0h2.8M296.3,131.1h2.2M46.8,135.3h2.8M73.5,134.8h2.2M93.8,136.8h3.6M198.5,135.3h1.5M224.5,134.8h2.8M179.9,140.1h2.8M204.1,140.0h1.5M298.7,140.0h3.6M35.4,143.8h2.2M86.7,144.4h3.6M131.6,144.9h2.2M157.5,145.7h3.6M165.4,142.8h3.6M172.9,146.1h1.5M200.0,143.5h2.8M287.6,144.4h2.8M299.7,143.5h3.6M3.6,150.8h2.2M32.2,150.6h1.5M49.5,147.0h2.8M94.9,149.2h2.2M103.2,148.6h2.2M112.6,148.0h2.2M123.2,150.6h2.2M197.2,150.1h2.2M255.5,146.9h2.2M266.4,149.5h1.5M294.9,147.9h2.8M36.7,153.8h3.6M49.0,154.2h3.6M85.7,154.7h1.5M98.8,154.3h2.8M197.4,154.6h2.2M210.1,152.5h1.5M219.7,154.8h3.6M237.3,154.5h2.8M283.5,154.4h2.8M290.2,153.6h1.5M2.2,158.4h1.5M9.7,156.1h2.2M46.1,159.4h2.8M110.6,158.9h2.8M129.3,156.0h2.8M138.1,155.7h2.2M157.1,156.3h3.6M295.7,156.7h2.2M0.8,162.3h2.2M129.7,160.5h2.2M174.0,161.3h3.6M182.0,160.4h1.5M197.8,162.3h2.2M218.7,160.5h2.8M246.1,160.7h2.8M265.2,160.8h1.5M77.1,166.8h3.6M94.8,165.6h2.8M106.2,166.7h1.5M173.2,166.8h2.8M185.9,165.3h1.5M198.1,166.7h3.6M231.9,168.1h2.2M57.4,170.2h1.5M67.3,171.0h2.8M70.8,169.3h2.2M103.3,170.8h2.2M123.4,171.6h2.8M158.0,169.9h3.6M35.1,174.7h1.5M40.4,175.6h3.6M74.5,173.5h2.8M170.2,175.6h2.8M180.7,176.7h2.8M237.8,175.2h3.6M256.1,172.8h2.2M297.3,174.5h2.2M40.9,180.9h1.5M74.7,180.6h2.8M123.0,179.3h2.2M126.9,180.3h2.8M140.3,179.8h2.8M148.9,177.8h3.6M164.5,177.9h3.6M176.8,181.0h3.6M194.8,179.1h1.5M214.1,178.7h1.5M275.3,178.7h2.2M293.6,178.0h2.8M9.1,184.8h2.2M73.8,181.6h3.6M83.1,182.5h2.8M120.4,183.9h3.6M189.0,181.5h2.2M288.9,184.9h2.8M5.2,188.9h1.5M41.9,187.4h2.2M178.3,188.7h1.5M207.5,188.2h2.8M305.5,186.1h1.5M4.8,192.7h1.5M11.4,190.8h2.2M73.7,193.5h2.2M84.8,192.7h2.8M124.7,190.4h2.8M145.6,190.6h1.5M170.9,192.5h1.5M192.8,193.6h2.2M217.5,190.5h3.6M302.8,190.6h2.2M86.4,196.1h2.2M102.0,195.5h1.5M139.7,196.6h2.2M163.5,195.4h2.8M196.3,197.0h3.6M218.6,197.5h2.8M17.0,200.9h2.2M41.5,201.8h2.2M80.0,199.5h2.2M103.1,200.9h3.6M150.0,201.4h2.2M163.6,200.1h2.8M207.6,199.2h2.2M211.8,198.9h2.8M254.3,201.9h3.6M280.6,198.9h1.5M21.8,204.7h2.2M35.7,204.2h2.8M46.6,206.1h3.6M91.6,205.5h2.2M116.9,206.2h2.2M154.6,204.6h3.6M242.6,205.0h1.5M272.4,204.7h2.8M278.2,203.9h1.5M302.5,203.7h1.5M24.6,209.5h2.8M27.3,207.5h2.2M131.7,208.9h2.2M156.3,208.8h2.2M180.0,209.7h2.2M201.1,209.6h2.2M296.0,207.5h3.6M33.2,212.9h1.5M37.9,212.7h2.2M90.3,213.5h2.8M109.0,212.6h2.2M117.5,214.3h1.5M141.2,214.6h2.2M160.9,214.1h3.6M176.9,212.1h2.2M183.2,215.2h1.5M203.9,213.0h2.8M244.5,212.2h3.6M252.4,212.0h3.6M107.7,217.1h1.5M112.9,216.8h1.5M130.7,217.2h3.6M139.2,217.0h2.8M181.0,218.0h1.5M216.0,216.7h2.2M223.0,217.3h3.6M46.9,222.9h2.2M58.7,222.9h2.8M78.4,222.8h2.2M109.7,221.6h3.6M180.1,221.7h2.8M213.1,221.8h1.5M220.3,223.1h2.8M251.6,220.5h1.5M259.3,223.7h1.5M30.4,227.5h2.2M45.3,227.3h2.2M123.2,228.0h2.8M215.3,226.3h2.2M267.6,226.1h2.2M8.4,232.2h3.6M71.8,230.0h1.5M74.9,231.9h1.5M114.7,232.3h3.6M167.6,229.8h1.5M182.7,231.9h2.8M198.6,229.8h2.2M287.0,232.5h2.8M11.9,235.2h1.5M26.7,234.7h3.6M37.2,233.0h1.5M151.8,233.3h1.5M159.6,234.9h3.6M171.6,236.3h1.5M208.5,233.6h2.8M217.4,234.5h2.2M229.0,234.7h1.5M251.0,236.1h2.2M257.2,235.6h2.2M279.6,236.7h1.5M293.9,233.5h2.8M16.6,238.1h1.5M41.8,238.7h1.5M56.3,241.2h2.2M103.5,239.7h1.5M173.0,238.9h2.2M201.6,238.1h2.2M207.4,240.1h2.2M249.7,240.1h2.2M256.8,240.7h2.8M277.4,239.3h3.6M293.2,240.3h3.6M42.2,242.2h2.8M69.3,241.8h3.6M132.0,245.5h2.2M153.1,242.2h2.8M171.5,243.5h2.8M184.5,245.2h1.5M195.1,241.9h3.6M222.1,243.5h3.6M62.1,249.5h1.5M87.5,246.2h2.2M95.1,247.1h1.5M102.1,247.7h2.8M118.5,249.6h2.2M180.8,247.3h3.6M219.3,247.2h1.5M251.5,247.6h2.2M276.6,247.2h3.6M294.2,246.9h3.6M71.6,253.1h1.5M83.7,251.9h3.6M166.7,252.2h2.2M199.7,250.7h2.2M202.8,251.7h2.8M209.6,253.7h1.5M251.5,253.7h1.5M279.5,253.9h3.6M4.5,254.5h2.8M9.2,255.5h2.8M55.0,256.7h3.6M60.0,258.1h2.8M107.0,254.9h2.2M138.6,255.6h2.2M197.3,255.1h2.8M237.6,256.7h1.5M245.3,258.0h3.6M253.2,255.8h2.8M269.2,255.4h2.8M9.9,261.6h3.6M112.4,260.1h2.2M164.5,260.6h1.5M212.0,259.2h2.2M232.8,261.9h1.5M266.5,259.0h2.2M296.8,260.0h3.6M302.7,261.2h2.2M17.9,266.5h3.6M76.7,266.8h2.2M93.7,264.9h2.8M110.1,263.8h1.5M118.3,265.6h2.8M120.5,265.8h2.2M137.7,265.0h3.6M161.7,264.7h2.8M243.3,264.7h2.8M286.9,263.6h3.6M1.7,270.6h1.5M92.4,267.8h2.2M103.3,269.3h2.2M118.4,270.4h2.2M141.1,268.3h2.8M152.1,267.8h3.6M296.9,267.8h3.6M29.9,273.6h3.6M77.9,275.2h2.2M99.4,274.5h2.2M138.2,272.3h1.5M226.8,273.2h2.2M279.7,275.2h1.5M291.3,273.5h2.8M23.6,278.2h2.8M52.5,278.3h3.6M58.8,279.8h2.2M98.1,278.1h2.2M104.0,279.6h1.5M112.1,279.0h2.2M137.5,276.4h2.2M142.0,276.3h2.8M161.7,276.9h3.6M192.6,278.8h3.6M210.3,277.8h2.2M214.7,278.6h2.2M278.3,275.9h3.6M139.8,281.4h2.8M184.4,283.9h2.2M213.1,281.5h2.8M265.8,282.7h2.8M306.6,283.6h3.6M17.9,285.6h2.2M181.9,287.9h2.2M197.8,288.3h3.6M255.0,287.4h1.5M292.7,285.3h3.6M67.4,292.3h1.5M119.8,290.0h3.6M135.6,289.0h3.6M139.3,291.0h2.8M163.3,292.1h3.6M165.7,290.0h1.5M194.2,290.1h1.5M249.4,292.7h3.6M265.4,290.0h2.2M271.6,290.7h2.8"/><path stroke="#777777" stroke-opacity="0.71" d="M180.4,49.0h3.6M275.7,51.0h2.8M35.7,56.0h2.2M95.7,54.3h1.5M110.6,55.9h3.6M167.5,55.8h2.2M199.4,54.4h1.5M211.9,53.0h2.2M279.9,54.3h2.2M298.7,54.3h1.5M6.3,57.3h2.8M29.5,56.6h3.6M89.8,59.4h2.2M187.6,60.3h1.5M209.6,57.5h2.2M219.2,58.3h3.6M52.2,63.5h3.6M66.1,62.7h2.2M95.2,62.2h1.5M106.1,64.6h2.2M182.5,62.4h3.6M207.1,61.6h2.8M238.9,62.2h2.2M1.8,65.3h3.6M47.2,66.3h2.2M67.6,65.8h2.8M130.0,66.6h3.6M164.7,68.9h3.6M175.5,67.1h1.5M204.2,67.7h1.5M247.6,65.2h3.6M258.5,68.9h2.8M19.2,72.0h1.5M24.2,72.5h1.5M38.0,72.8h3.6M144.0,71.3h2.2M231.3,71.3h1.5M16.0,75.9h3.6M60.8,76.3h2.8M120.8,74.0h2.2M130.6,74.1h3.6M212.5,77.5h2.2M251.7,75.0h2.8M262.9,73.9h3.6M302.4,75.1h2.8M83.6,80.4h2.2M159.8,81.4h2.2M164.3,78.5h2.8M199.3,78.9h2.8M223.6,82.1h1.5M279.7,81.8h3.6M283.1,78.8h3.6M299.8,82.0h2.8M74.6,84.2h2.2M99.1,85.8h2.8M137.0,82.6h2.8M146.8,84.3h2.8M148.5,84.6h3.6M213.0,84.2h2.8M225.5,85.1h1.5M259.9,84.7h1.5M298.6,82.9h2.8M18.5,88.5h3.6M33.4,89.4h2.2M42.2,88.2h1.5M53.3,88.8h3.6M100.0,88.6h1.5M146.3,87.4h2.2M175.0,87.2h3.6M212.1,88.6h2.2M54.7,92.3h2.8M58.2,91.1h3.6M112.8,93.0h3.6M152.4,91.2h2.2M220.9,91.8h1.5M274.2,91.2h2.2M39.0,96.3h1.5M51.8,97.5h2.8M124.0,98.0h3.6M164.8,97.8h1.5M191.8,97.5h1.5M197.9,97.0h2.2M281.2,96.4h2.2M5.0,102.0h1.5M249.7,99.6h3.6M9.4,105.1h2.8M28.3,104.7h2.2M34.3,106.7h2.8M86.3,104.1h2.2M94.7,105.8h2.2M126.2,107.6h1.5M188.8,106.8h1.5M220.7,104.2h3.6M239.6,105.9h2.2M243.9,106.4h2.2M249.9,107.7h2.8M282.3,107.7h2.8M14.9,110.8h1.5M34.9,109.1h2.8M94.5,111.0h2.8M144.2,109.0h3.6M261.2,110.0h2.8M306.3,112.1h1.5M49.6,115.6h2.2M78.0,112.9h2.2M91.0,113.8h2.8M97.3,114.5h2.8M132.7,115.4h1.5M166.7,115.8h2.8M203.5,114.9h2.2M220.7,113.1h2.2M234.4,114.3h2.2M245.2,112.9h2.8M251.0,113.3h2.8M287.3,112.8h2.2M2.8,119.1h2.8M37.2,118.5h2.8M40.5,118.2h2.2M59.2,119.0h3.6M67.6,118.9h1.5M158.4,117.9h1.5M182.7,118.3h1.5M242.5,117.5h2.2M272.5,118.1h2.8M280.3,120.2h2.2M34.7,122.2h2.8M94.4,123.4h3.6M116.3,121.2h2.8M131.1,124.9h2.2M154.1,122.8h2.2M171.1,121.3h2.2M204.9,122.1h2.2M210.6,122.3h2.8M291.1,121.1h2.8M1.4,127.0h2.8M34.4,125.5h1.5M73.7,128.9h1.5M104.5,129.2h2.8M124.8,126.0h1.5M175.3,125.7h1.5M307.0,128.5h2.8M0.0,131.2h3.6M7.0,131.7h1.5M19.5,130.1h3.6M24.1,132.5h2.2M38.4,133.1h2.2M43.3,133.6h2.8M66.8,130.4h3.6M130.1,130.8h2.8M147.5,130.1h1.5M199.5,132.8h1.5M204.6,130.5h2.2M275.0,130.0h2.8M123.6,135.5h2.8M164.3,135.5h2.2M190.0,134.5h3.6M205.8,136.5h2.2M257.1,136.5h3.6M52.9,139.2h2.8M63.9,139.4h3.6M107.1,140.2h1.5M127.7,140.7h1.5M132.8,138.7h2.8M136.8,139.2h3.6M157.0,139.6h3.6M187.0,142.0h2.8M193.8,139.7h1.5M209.9,141.4h3.6M228.7,142.0h1.5M244.6,139.9h2.8M288.3,140.1h3.6M17.3,143.0h2.2M55.9,144.0h2.8M187.6,144.5h2.8M261.1,144.4h1.5M304.7,143.1h2.8M54.9,148.6h2.2M83.2,149.2h1.5M133.4,149.0h2.2M142.3,147.1h3.6M164.6,148.3h2.8M217.9,149.9h2.8M9.3,151.4h3.6M13.8,151.6h1.5M187.3,151.5h3.6M247.4,152.7h2.8M259.0,152.9h3.6M271.6,154.2h3.6M14.6,158.0h1.5M68.7,159.4h2.2M80.9,158.7h2.8M119.2,158.5h2.2M231.7,156.2h1.5M237.5,159.0h3.6M253.1,157.2h2.2M266.6,155.9h1.5M300.1,155.6h1.5M56.0,160.3h1.5M124.3,163.8h3.6M203.6,162.8h3.6M224.4,163.3h3.6M228.2,163.0h2.8M243.0,160.8h3.6M305.5,160.4h2.8M-2.4,167.5h2.8M9.9,164.4h3.6M30.8,168.0h2.8M50.5,167.7h3.6M60.7,164.4h2.2M126.7,165.1h2.2M135.4,165.7h1.5M149.3,166.2h1.5M192.7,166.2h2.8M14.1,169.9h3.6M86.8,170.9h3.6M112.9,170.9h1.5M213.8,168.7h1.5M248.0,171.4h3.6M284.1,171.0h2.2M83.1,173.3h1.5M102.6,175.5h3.6M207.1,174.5h1.5M228.1,175.7h2.8M280.3,173.6h2.2M-2.3,178.4h3.6M32.3,180.2h3.6M81.6,179.5h2.2M92.3,178.0h1.5M118.3,178.5h2.2M202.9,178.0h2.2M218.8,177.2h3.6M246.7,178.4h2.2M25.0,183.7h1.5M135.2,184.4h1.5M194.5,181.8h2.2M200.0,182.6h3.6M204.4,183.1h2.2M215.5,184.4h3.6M37.0,188.7h2.2M45.8,189.3h2.8M161.7,186.3h2.2M171.2,189.5h3.6M223.1,186.1h2.8M238.5,188.5h1.5M253.8,188.5h3.6M281.6,187.6h2.2M32.1,192.0h2.2M90.0,193.2h2.8M100.8,190.1h2.8M112.7,189.9h2.8M152.7,193.0h3.6M185.5,193.6h2.2M209.4,191.2h1.5M266.9,190.6h3.6M-4.9,196.5h2.2M3.4,197.7h2.8M83.8,194.2h2.8M116.4,195.8h1.5M144.7,196.9h2.2M222.9,196.8h2.2M243.4,197.7h3.6M258.3,197.1h3.6M265.6,194.4h2.8M268.9,195.7h2.8M277.7,194.8h2.8M25.0,200.0h3.6M58.8,201.5h2.2M85.1,201.6h2.8M114.9,201.6h1.5M121.0,200.6h1.5M127.7,198.8h3.6M161.8,199.3h3.6M200.0,201.0h3.6M222.0,198.6h2.8M234.7,198.7h2.2M273.2,201.6h1.5M44.8,203.4h2.8M53.5,204.8h2.8M73.7,203.6h2.8M81.6,204.4h2.8M102.8,206.3h2.8M109.0,204.8h1.5M253.9,203.7h3.6M293.4,204.1h2.8M46.9,208.6h2.2M61.7,209.7h2.8M67.2,209.4h1.5M117.4,210.1h1.5M284.3,210.5h2.8M48.3,211.4h3.6M54.1,213.5h1.5M67.0,214.8h2.2M104.7,212.6h3.6M149.6,214.1h1.5M156.5,212.2h3.6M260.6,211.6h3.6M278.6,213.4h1.5M280.6,211.9h2.8M92.2,218.5h3.6M94.3,215.8h2.2M192.2,217.4h2.2M232.3,218.5h2.2M263.7,218.6h2.2M0.5,220.4h3.6M19.7,222.3h3.6M32.5,223.8h2.2M42.5,221.1h3.6M90.5,222.4h3.6M128.6,220.5h2.8M139.4,223.4h2.2M143.0,222.4h1.5M150.3,223.2h2.8M203.0,222.9h2.8M34.9,225.3h2.2M85.2,228.3h2.2M96.9,227.7h2.8M109.3,226.3h3.6M138.4,225.2h1.5M15.5,229.1h2.8M57.3,230.3h2.8M202.5,230.7h1.5M266.7,230.9h2.8M279.5,231.9h1.5M297.7,229.6h1.5M-1.1,236.4h1.5M23.3,233.3h2.8M85.5,235.0h3.6M100.0,236.4h3.6M140.3,235.7h1.5M177.8,234.5h1.5M246.3,233.3h3.6M275.2,233.3h1.5M302.1,236.1h2.8M93.5,238.9h3.6M189.6,238.2h1.5M71.2,246.6h2.8M147.3,248.1h2.2M224.7,249.7h3.6M239.9,247.8h2.2M34.7,250.9h3.6M174.4,251.0h2.2M180.1,252.6h1.5M118.5,257.1h1.5M171.8,255.3h2.2M214.4,255.8h2.2M33.2,261.1h1.5M64.1,259.3h1.5M78.4,261.9h2.8M158.3,260.8h2.2M180.3,260.8h1.5M243.2,262.7h1.5M263.1,260.3h3.6M272.3,262.3h3.6M9.7,266.5h2.8M14.4,263.8h3.6M63.4,266.6h3.6M190.7,264.2h3.6M300.2,264.3h2.8M28.5,269.1h1.5M98.9,268.8h1.5M205.7,270.4h2.8M273.1,268.3h3.6M301.7,269.3h3.6M37.4,275.3h3.6M134.6,275.6h1.5M173.0,275.5h1.5M240.8,274.7h2.8M285.6,272.9h2.2M66.1,279.9h2.2M257.2,281.2h2.8M110.5,287.0h1.5M160.6,287.3h1.5M165.6,286.2h1.5M227.1,287.8h2.8M276.8,287.5h2.2M301.4,287.7h1.5M9.3,289.0h2.8M49.9,291.6h2.2M61.9,290.7h2.8M200.5,291.5h2.8M215.1,292.7h2.8M285.8,288.8h2.2"/><path stroke="#919191" stroke-opacity="0.78" d="M214.1,51.5h3.6M241.0,51.5h3.6M266.2,52.0h3.6M69.3,53.1h2.8M120.5,55.5h3.6M193.6,53.4h2.2M230.2,52.8h3.6M246.2,53.6h2.8M0.3,60.3h2.2M117.2,58.6h2.2M133.2,57.2h3.6M275.4,57.1h2.8M295.1,59.8h3.6M12.1,63.9h3.6M35.2,64.6h2.2M44.2,62.6h2.8M79.8,61.0h2.2M83.7,61.4h2.2M16.6,66.3h1.5M35.1,70.7h2.2M159.5,71.9h2.8M4.8,76.0h3.6M10.8,75.0h3.6M63.6,75.0h1.5M136.0,76.1h2.2M249.7,76.1h3.6M291.6,77.0h2.8M21.2,78.5h2.2M27.7,81.8h1.5M56.2,79.8h2.8M61.3,80.4h1.5M73.1,81.1h3.6M296.9,79.4h3.6M115.1,83.3h1.5M169.2,83.6h2.8M277.0,85.7h3.6M46.0,89.3h2.2M165.3,89.6h2.8M183.8,89.5h2.8M49.6,91.7h3.6M82.8,93.9h2.8M190.7,92.1h1.5M22.2,98.0h1.5M68.5,99.2h2.2M75.0,95.5h2.8M89.7,97.8h3.6M169.9,95.9h1.5M176.3,95.3h2.8M183.5,95.9h2.2M228.2,98.3h3.6M243.9,98.7h3.6M264.0,97.8h1.5M275.3,98.8h1.5M-4.2,102.4h2.8M85.9,101.6h3.6M271.8,103.1h2.8M283.0,101.7h3.6M305.1,102.3h2.2M22.8,107.5h3.6M50.1,106.1h2.8M79.8,106.2h3.6M104.5,106.0h2.8M107.8,106.6h2.8M209.1,106.4h2.2M217.1,105.1h2.2M227.6,107.3h3.6M124.5,109.1h1.5M185.3,109.1h3.6M253.1,109.8h2.2M275.7,111.5h2.2M14.4,113.3h2.8M148.2,114.0h2.8M290.3,114.2h1.5M75.6,119.0h1.5M115.9,119.9h2.8M123.0,119.7h2.2M68.9,122.3h3.6M228.2,124.2h1.5M256.5,121.4h2.8M301.5,122.2h2.2M24.1,128.9h2.2M56.0,126.7h2.2M63.2,126.2h3.6M116.9,128.9h3.6M197.9,127.0h2.2M208.0,127.1h1.5M276.1,128.4h2.8M281.2,125.7h2.2M72.2,131.6h2.2M163.7,131.0h3.6M178.6,130.1h2.2M183.5,132.3h2.8M15.4,134.0h2.2M37.6,135.7h3.6M44.2,137.7h2.8M66.8,134.8h3.6M76.6,134.2h2.2M86.8,135.4h3.6M219.2,137.2h2.2M229.6,137.8h2.2M238.3,135.0h3.6M28.7,142.0h1.5M87.6,139.2h2.8M170.6,139.9h1.5M218.2,140.9h3.6M231.7,141.4h2.2M253.2,141.6h1.5M1.3,145.6h2.8M220.1,144.4h1.5M223.1,144.9h1.5M250.9,145.8h1.5M271.9,144.6h3.6M20.7,147.6h2.2M61.5,149.8h2.8M226.0,148.4h2.2M300.1,150.0h2.2M135.4,153.3h1.5M152.0,152.4h2.8M214.7,154.8h2.2M5.9,157.6h2.2M148.4,159.0h2.2M153.8,157.1h1.5M164.8,157.8h2.8M178.6,158.1h2.2M192.7,156.1h3.6M224.0,157.6h1.5M257.0,157.2h2.8M274.5,157.4h2.2M283.3,158.1h3.6M-1.0,160.7h2.8M21.1,160.2h2.2M60.1,163.0h2.2M64.2,162.9h2.2M135.1,162.7h3.6M210.2,159.8h2.2M280.1,163.6h2.2M41.0,166.5h1.5M103.4,166.7h2.8M164.3,166.1h2.2M266.8,165.1h2.2M274.6,167.2h2.2M127.3,171.1h2.8M153.2,169.3h2.2M206.4,171.1h2.8M217.2,168.6h2.2M252.1,172.3h1.5M305.4,171.8h1.5M-1.5,174.9h1.5M27.2,174.9h2.8M93.1,176.4h2.2M174.0,176.1h3.6M212.7,174.4h2.2M284.1,172.7h1.5M301.8,174.9h1.5M50.3,178.6h2.2M173.0,177.8h2.8M228.9,180.3h1.5M265.4,178.3h3.6M39.3,185.2h1.5M97.3,183.9h1.5M110.0,185.1h1.5M230.0,183.4h2.2M251.9,183.2h3.6M271.4,183.5h3.6M295.3,181.7h3.6M-3.3,189.6h3.6M9.5,187.8h2.2M111.6,186.2h2.2M122.8,186.5h2.8M212.0,186.0h2.8M221.2,186.4h2.2M242.8,189.2h2.2M262.6,187.5h2.8M14.7,190.1h2.8M228.1,193.7h2.2M254.8,192.1h2.8M264.0,190.2h1.5M48.4,198.0h1.5M128.1,198.0h2.2M171.6,195.5h2.8M292.2,196.0h2.8M12.3,200.8h3.6M295.3,201.8h2.2M31.5,203.9h1.5M134.3,206.0h2.8M189.4,203.3h1.5M231.3,202.9h3.6M288.4,202.9h3.6M51.4,207.8h2.2M190.4,207.4h3.6M290.9,211.0h3.6M10.0,213.9h2.2M60.5,212.4h3.6M188.6,214.6h3.6M196.2,212.0h2.8M218.2,214.5h1.5M226.1,214.2h2.8M237.2,211.7h1.5M7.8,217.6h3.6M39.4,217.4h1.5M81.8,218.0h2.8M13.4,220.8h2.8M69.5,222.1h2.2M80.1,223.1h1.5M101.2,220.3h2.8M171.3,221.3h3.6M265.3,222.8h2.8M16.0,224.4h2.2M20.2,225.4h2.2M129.7,227.1h2.2M245.1,226.1h1.5M263.9,228.2h2.2M65.3,228.8h3.6M106.0,229.9h2.2M175.5,229.2h2.8M295.6,231.0h2.8M51.5,236.7h2.8M55.0,233.7h1.5M290.2,235.0h3.6M73.1,240.4h2.8M142.7,237.8h2.8M290.3,238.8h2.2M113.5,242.5h1.5M103.8,249.7h1.5M191.8,250.2h1.5M285.6,253.2h3.6M82.7,255.8h3.6M94.8,258.9h1.5M108.1,260.8h3.6M129.3,261.2h2.2M177.7,263.8h3.6M238.1,266.8h3.6M269.2,265.5h2.2M82.2,269.8h2.2M171.7,270.9h3.6M179.0,275.6h2.8M186.2,273.8h1.5M260.1,273.2h2.8M64.9,277.9h3.6M119.0,276.0h1.5M203.5,283.7h2.8M177.7,286.7h1.5M157.6,292.6h3.6M294.8,292.2h1.5"/><path stroke="#ababab" stroke-opacity="0.84" d="M183.1,49.6h2.2M246.2,51.3h2.8M222.3,53.8h3.6M287.2,54.2h2.2M74.9,58.3h2.2M95.3,58.3h3.6M128.3,56.9h2.8M141.2,58.2h3.6M230.9,60.1h2.8M254.5,58.9h1.5M72.9,62.7h1.5M144.3,61.5h2.8M166.1,64.3h1.5M244.7,62.7h2.8M283.0,64.9h1.5M303.7,64.7h2.2M42.0,66.3h2.2M98.0,68.5h2.2M144.0,68.5h2.8M184.1,66.2h3.6M213.8,66.3h1.5M235.5,67.4h2.8M275.6,67.7h2.8M279.6,67.2h3.6M78.5,73.1h1.5M101.2,71.0h2.2M181.5,69.8h1.5M194.8,71.3h2.2M226.1,73.4h2.8M39.1,76.1h2.2M232.0,74.5h2.8M16.7,78.3h3.6M31.6,81.0h3.6M121.3,80.4h3.6M150.2,78.2h1.5M234.9,78.7h2.2M239.6,81.5h1.5M7.3,85.6h2.8M87.4,84.8h2.2M121.1,82.5h2.8M269.0,85.5h1.5M11.5,89.8h2.8M112.2,89.0h3.6M172.2,89.5h3.6M263.0,86.9h3.6M295.9,87.4h2.2M92.5,94.1h3.6M102.1,91.4h3.6M124.9,94.9h2.8M211.0,98.7h1.5M217.2,97.7h1.5M234.6,95.9h2.8M258.9,97.4h2.8M30.5,101.9h1.5M93.7,101.7h3.6M107.5,102.4h3.6M124.4,103.3h2.8M160.2,100.4h1.5M254.2,103.0h1.5M167.0,103.9h2.2M205.7,105.4h2.8M269.7,109.8h2.2M284.3,108.4h3.6M289.8,108.5h3.6M11.0,112.7h2.8M20.2,114.1h2.8M142.7,113.5h2.2M169.1,116.1h1.5M217.8,115.9h1.5M236.8,116.2h2.2M270.0,114.4h3.6M53.6,118.9h3.6M109.1,117.6h3.6M205.8,118.7h1.5M262.4,118.0h2.8M290.1,118.2h2.2M7.5,122.7h2.2M20.1,122.6h1.5M43.5,124.2h1.5M60.9,124.0h1.5M134.1,122.1h2.2M232.5,123.3h2.8M282.4,121.9h2.8M95.5,129.2h2.8M152.9,126.5h2.8M160.2,128.8h1.5M176.9,128.9h3.6M200.7,128.1h2.8M212.0,129.0h1.5M233.0,129.1h2.2M288.5,126.8h3.6M264.9,136.6h3.6M9.3,140.4h1.5M90.6,139.7h2.8M115.5,140.4h2.8M299.4,141.8h1.5M-5.5,143.5h2.2M42.1,144.8h2.2M71.9,145.1h2.2M139.5,143.6h2.8M177.7,144.5h2.8M282.8,143.7h2.8M27.1,148.3h2.8M44.6,150.4h3.6M81.7,150.1h3.6M170.5,149.2h3.6M176.3,150.3h3.6M238.9,148.7h1.5M19.7,154.7h2.2M167.1,154.0h1.5M32.2,156.4h2.2M71.6,155.9h2.2M112.0,156.1h3.6M47.1,160.3h1.5M183.8,161.3h2.2M291.9,161.3h2.8M298.8,162.0h3.6M17.7,166.5h2.8M21.3,165.9h3.6M161.6,166.3h1.5M223.7,167.0h2.2M252.3,164.9h3.6M162.3,171.9h2.2M23.9,172.9h3.6M68.0,175.7h2.2M142.7,175.3h1.5M244.3,176.3h2.8M6.6,177.2h3.6M12.0,177.8h2.2M60.6,177.4h3.6M71.4,177.0h2.2M86.1,177.7h2.8M99.4,177.8h2.2M132.1,177.6h2.2M259.1,177.1h3.6M271.8,177.0h3.6M32.9,182.5h2.8M161.9,182.2h2.2M173.4,181.6h2.2M21.9,189.1h2.2M70.8,188.8h3.6M84.9,187.6h2.2M104.9,187.4h2.2M115.3,188.7h2.8M139.7,189.3h1.5M277.3,187.9h2.8M65.0,193.1h2.2M66.7,191.3h2.8M119.2,192.6h2.2M160.6,190.7h2.8M43.5,196.9h1.5M72.3,195.8h3.6M152.2,195.2h2.2M183.5,195.9h2.8M211.4,198.0h2.8M231.0,195.5h2.8M246.0,196.6h2.2M298.5,197.2h1.5M63.7,202.0h3.6M135.7,200.3h2.8M141.7,199.2h1.5M172.6,200.1h3.6M175.3,198.6h2.8M269.7,201.4h2.2M3.0,206.0h2.8M98.1,205.9h2.2M163.8,206.5h1.5M208.9,205.9h2.8M283.0,206.5h1.5M298.5,204.6h1.5M33.8,208.9h2.2M83.2,209.4h3.6M90.9,210.5h2.8M281.6,211.0h1.5M101.9,215.2h3.6M135.5,215.3h1.5M209.2,212.6h2.2M298.9,212.2h1.5M9.6,215.9h3.6M170.2,216.3h1.5M189.5,216.3h1.5M131.5,221.2h2.2M224.8,223.3h3.6M58.2,227.6h2.8M69.4,226.2h1.5M78.9,225.3h2.2M53.0,232.5h2.2M111.1,230.6h2.2M108.6,234.6h2.8M223.9,235.9h1.5M32.2,240.8h3.6M194.2,239.2h3.6M243.7,241.1h2.2M101.9,251.8h3.6M158.8,250.4h2.8M246.2,252.1h2.2M38.7,254.6h2.2M156.8,256.5h1.5M227.1,270.5h2.2M50.0,274.1h1.5M118.4,274.9h3.6M249.4,274.3h3.6M-1.2,286.9h1.5M24.3,284.6h3.6M264.0,288.2h2.2M12.3,290.7h3.6M179.4,291.1h2.8"/><path stroke="#c7c7c7" stroke-opacity="0.91" d="M118.4,51.1h2.2M129.3,51.1h1.5M208.3,50.9h2.8M218.2,49.1h2.2M55.4,54.2h3.6M153.0,52.9h2.2M238.5,57.6h2.8M28.2,64.8h1.5M37.9,61.3h1.5M61.5,60.9h3.6M102.1,62.4h2.2M134.3,63.1h1.5M200.1,63.2h2.8M261.0,61.9h3.6M71.6,65.5h1.5M197.9,66.6h1.5M3.6,73.2h3.6M30.1,72.2h2.8M202.7,69.9h2.8M223.3,72.5h2.2M247.5,71.4h1.5M142.8,75.4h2.8M289.2,78.3h2.8M18.0,85.4h1.5M135.2,83.7h2.2M251.0,82.4h3.6M84.5,89.2h2.2M137.3,87.6h2.2M141.0,90.3h1.5M230.3,90.5h2.8M237.9,88.5h2.2M246.0,88.6h2.2M45.1,94.6h2.2M116.6,91.2h2.8M146.3,93.2h2.8M179.2,93.8h3.6M200.5,94.4h3.6M214.1,92.1h2.8M232.7,93.2h3.6M238.6,93.0h2.8M-2.2,97.0h3.6M7.8,97.6h2.8M29.2,96.9h2.2M45.3,98.5h2.2M58.6,95.4h2.8M106.8,97.3h3.6M130.2,99.0h2.2M148.8,97.0h1.5M83.5,100.4h2.2M132.8,100.1h1.5M197.5,102.4h1.5M230.8,101.6h2.8M267.8,107.1h2.8M5.9,110.5h1.5M44.3,110.3h2.2M86.9,110.8h2.2M117.6,110.2h2.8M152.5,110.9h3.6M154.2,109.4h2.2M194.5,110.0h3.6M-0.4,114.5h2.2M58.6,114.1h2.2M156.1,114.3h2.2M180.6,116.2h2.8M210.0,116.1h3.6M29.7,117.4h3.6M167.4,119.4h3.6M224.7,118.6h1.5M276.1,119.9h2.8M92.1,123.2h2.2M179.9,124.7h2.2M82.3,127.4h2.2M188.4,126.7h1.5M224.4,128.1h3.6M239.7,127.3h1.5M250.2,129.2h3.6M171.4,133.7h1.5M218.3,132.3h2.2M4.2,134.2h2.8M18.0,135.2h2.2M23.5,136.5h3.6M169.7,136.5h2.2M204.4,134.2h3.6M240.5,134.9h2.8M272.6,136.6h2.2M4.3,139.3h3.6M20.4,138.7h2.8M103.4,138.6h1.5M222.1,140.5h3.6M67.3,145.5h2.2M125.6,145.7h2.2M195.8,143.8h2.8M92.2,147.8h1.5M221.8,148.6h3.6M280.6,148.3h3.6M25.1,152.7h2.8M80.2,154.0h2.2M226.5,152.9h3.6M21.2,157.6h1.5M59.3,157.3h2.2M142.1,155.6h1.5M185.9,157.3h1.5M212.4,157.2h2.8M8.8,160.4h2.2M69.9,160.8h3.6M112.3,161.6h3.6M163.7,162.9h2.2M44.1,167.9h2.2M116.3,168.0h2.8M212.9,166.8h1.5M263.7,167.2h2.2M3.9,169.6h2.2M22.3,168.5h2.8M52.3,170.6h3.6M114.9,170.9h1.5M175.2,172.3h3.6M111.7,174.6h2.8M125.8,174.8h1.5M262.1,175.7h2.8M272.5,175.9h2.2M147.3,180.8h3.6M244.4,179.8h3.6M104.0,184.2h2.2M154.6,183.5h2.2M184.0,183.7h2.8M234.1,183.3h2.2M65.5,186.7h2.2M208.5,194.8h2.8M35.4,202.2h2.2M128.5,206.0h1.5M141.4,206.3h1.5M147.4,202.9h2.2M143.1,209.5h1.5M233.1,224.8h2.2M272.4,228.0h3.6M-2.3,229.1h1.5M275.6,229.3h2.8M5.3,235.0h2.2M145.8,235.7h2.2M125.6,239.5h2.2M239.5,262.6h2.2M261.5,278.3h1.5M217.9,284.0h2.2M220.3,286.5h2.2"/><path stroke="#e3e3e3" stroke-opacity="0.98" d="M113.2,51.9h1.5M79.3,54.3h2.2M102.3,55.0h2.2M150.2,53.8h1.5M157.7,54.3h2.8M237.3,54.3h2.8M24.3,57.5h2.8M176.9,59.4h1.5M216.6,61.8h3.6M37.2,67.4h3.6M93.0,66.9h1.5M292.1,68.2h2.8M96.8,71.5h3.6M109.0,73.1h1.5M113.1,73.0h3.6M259.8,69.8h2.2M268.7,70.3h2.8M295.7,70.0h1.5M92.7,77.3h3.6M226.2,76.1h3.6M271.0,76.4h3.6M282.1,77.6h3.6M0.0,78.1h2.8M47.4,80.0h3.6M154.7,82.0h2.2M28.8,86.0h3.6M174.3,83.6h1.5M184.7,82.8h3.6M203.4,83.0h1.5M265.3,86.2h2.8M305.1,83.6h2.2M280.7,87.1h2.2M285.2,86.9h3.6M301.8,87.5h2.8M2.2,92.1h3.6M20.8,92.9h3.6M30.3,92.3h2.8M292.1,91.1h2.8M266.3,98.2h3.6M6.1,101.7h2.2M27.1,99.7h1.5M78.1,100.8h1.5M214.5,100.4h2.8M114.8,106.7h1.5M73.3,110.9h2.8M165.5,108.4h3.6M215.3,110.1h3.6M27.3,113.5h3.6M63.2,113.8h1.5M123.3,114.1h2.2M186.4,114.0h1.5M191.6,115.8h2.2M300.6,115.5h3.6M128.3,119.0h2.2M189.1,117.2h3.6M202.6,117.4h1.5M30.0,122.2h2.8M107.6,122.6h2.2M148.3,123.5h1.5M214.7,123.2h2.2M182.9,126.2h3.6M291.5,125.4h2.8M107.6,130.4h2.2M257.7,130.0h1.5M38.6,141.3h3.6M30.2,142.8h3.6M79.2,145.3h1.5M109.2,144.5h2.2M242.6,142.7h3.6M0.6,148.7h2.8M75.2,147.7h2.8M55.9,154.9h1.5M70.7,151.9h3.6M180.0,152.6h1.5M85.7,157.7h2.8M182.8,158.1h3.6M246.9,157.1h2.8M103.8,163.0h3.6M237.4,161.6h2.8M76.4,165.9h2.8M207.3,166.4h2.2M299.5,166.9h3.6M42.1,169.8h2.2M269.0,170.9h1.5M9.3,173.0h2.2M51.3,173.3h1.5M292.3,176.3h2.8M27.9,180.1h3.6M223.3,179.2h1.5M222.7,182.8h2.8M244.0,183.2h1.5M101.0,187.0h1.5M261.5,187.2h2.2M107.6,191.7h3.6M61.7,196.4h3.6M12.0,203.9h2.2M23.9,205.4h2.8M18.8,208.0h3.6M232.5,209.1h2.8M26.0,223.6h1.5M232.4,220.2h3.6M302.4,220.3h1.5M77.5,238.1h2.8"/><path stroke="#ffffff" stroke-opacity="1.00" d="M95.2,51.4h3.6M150.8,50.8h2.8M169.6,49.7h3.6M194.7,48.6h2.2M222.5,49.9h2.2M228.1,50.6h2.2M237.3,51.1h3.6M252.4,51.6h2.8M258.2,48.8h2.8M284.2,49.1h2.2M287.0,51.1h1.5M297.1,50.8h2.2M-2.3,55.1h3.6M6.3,55.2h3.6M25.9,55.4h2.8M40.0,55.0h3.6M51.4,55.4h3.6M90.2,52.9h3.6M125.2,53.8h3.6M139.1,53.5h3.6M143.3,52.4h2.8M169.1,54.0h1.5M176.6,54.0h1.5M184.5,56.0h3.6M190.1,52.7h2.8M215.3,56.1h1.5M234.7,54.7h2.2M249.2,55.5h2.2M261.7,52.7h3.6M288.1,52.4h2.8M15.4,60.3h2.8M22.2,58.7h2.8M49.4,59.2h3.6M61.4,60.3h3.6M69.2,59.7h1.5M81.1,59.9h3.6M102.1,57.4h2.2M104.7,58.3h2.2M148.5,59.9h1.5M224.3,59.6h1.5M262.8,58.5h2.8M282.6,60.2h2.2M287.3,59.8h1.5M297.2,59.6h2.2M302.9,60.6h2.2M-0.1,63.7h2.2M17.0,62.9h2.8M20.9,62.0h2.2M59.4,64.8h1.5M151.7,63.8h2.8M212.9,63.8h2.8M222.5,63.0h2.2M225.3,63.8h2.8M268.5,64.2h3.6M290.1,61.2h2.8M6.2,68.8h2.8M22.1,66.5h2.2M62.3,69.1h3.6M77.6,65.4h3.6M80.9,68.1h2.2M106.0,69.1h2.2M108.5,65.9h1.5M124.5,68.1h2.8M132.7,68.2h1.5M169.9,67.1h1.5M177.6,66.0h1.5M191.3,65.3h2.2M205.8,66.1h3.6M222.6,69.1h2.2M242.5,68.2h2.8M266.3,66.9h3.6M271.2,66.6h3.6M298.4,69.2h1.5M302.8,68.0h2.8M2.3,71.0h1.5M49.0,71.7h2.2M83.7,71.1h2.2M128.9,70.2h3.6M164.7,71.1h2.2M187.0,71.9h2.2M212.7,73.4h2.2M217.5,70.6h2.2M237.7,73.4h2.2M256.7,73.1h2.2M301.1,72.8h1.5M-2.1,74.8h1.5M22.0,76.8h3.6M26.7,73.9h1.5M31.9,74.5h2.2M50.6,75.1h1.5M82.3,75.0h2.8M87.2,74.0h1.5M99.1,74.1h2.2M116.9,75.9h2.8M157.8,74.8h2.2M162.6,77.4h2.2M166.4,77.2h3.6M186.8,74.6h2.2M194.7,75.6h2.8M218.5,77.2h1.5M235.2,74.0h2.2M240.4,74.2h3.6M287.3,75.6h3.6M6.0,82.0h2.2M41.9,79.1h1.5M53.6,80.9h2.8M115.7,79.9h2.2M243.3,79.9h2.2M252.8,79.7h1.5M263.2,81.6h2.2M269.8,80.3h1.5M271.8,78.6h1.5M-3.0,85.3h2.8M38.1,83.3h1.5M54.3,85.0h1.5M59.7,82.8h2.2M70.4,83.5h2.2M104.6,83.0h2.2M108.8,84.0h1.5M126.1,83.2h2.8M156.4,82.5h2.2M181.2,85.3h2.8M194.3,83.7h1.5M220.6,84.6h3.6M0.1,89.4h2.2M29.2,89.0h2.2M60.0,88.5h3.6M70.2,87.5h2.2M74.3,90.2h2.2M79.1,86.9h2.8M92.5,88.8h2.2M98.8,90.5h2.8M106.0,87.9h3.6M131.6,88.9h2.2M157.7,89.3h2.2M186.6,88.6h2.2M205.2,89.6h1.5M217.4,90.2h1.5M234.2,89.2h3.6M252.7,89.3h1.5M269.3,89.9h2.2M26.3,91.5h2.2M34.3,93.6h2.8M79.1,94.8h3.6M126.6,91.0h3.6M141.4,94.1h3.6M161.8,92.8h3.6M166.3,91.4h3.6M174.7,93.4h2.8M198.5,92.8h1.5M226.0,91.7h3.6M257.4,94.1h1.5M281.6,94.5h1.5M298.3,94.6h3.6M303.4,94.6h2.8M36.6,97.8h2.8M64.5,96.3h3.6M83.0,96.5h2.8M140.9,95.9h1.5M161.0,96.9h2.8M189.2,96.3h2.8M250.8,95.8h3.6M290.1,98.3h2.2M304.2,99.2h1.5M67.4,103.6h2.8M99.6,101.5h2.2M115.8,103.6h3.6M138.6,101.2h2.8M145.9,99.6h2.8M149.1,102.7h1.5M155.1,102.7h2.2M166.2,103.0h2.8M224.3,100.6h3.6M238.5,101.2h3.6M264.9,100.7h1.5M278.5,102.8h2.8M294.2,100.1h2.8M-0.5,104.2h1.5M4.4,106.9h1.5M57.2,105.9h2.2M61.2,104.7h2.8M74.7,106.3h2.8M91.6,105.5h2.2M135.9,105.5h2.2M142.8,105.3h2.8M181.1,104.3h3.6M235.6,104.2h1.5M257.6,104.6h2.8M272.0,107.0h2.2M289.7,105.0h3.6M298.3,106.7h1.5M-1.2,109.2h3.6M4.3,110.4h2.2M57.8,109.0h1.5M63.8,110.7h3.6M75.9,109.8h3.6M97.5,109.6h2.8M109.6,108.4h3.6M128.2,112.0h3.6M135.6,109.7h3.6M139.2,111.4h1.5M164.3,108.5h2.2M172.3,111.5h2.2M204.2,111.9h2.2M207.8,111.4h1.5M224.8,108.4h3.6M229.7,109.9h3.6M240.9,112.0h2.8M250.2,111.9h1.5M265.2,111.7h3.6M294.2,111.3h1.5M298.7,112.1h1.5M33.4,112.5h2.2M76.5,113.4h2.2M87.3,115.1h2.2M104.9,114.0h1.5M135.2,114.8h1.5M159.5,116.3h2.8M255.1,114.6h2.8M271.9,113.8h2.2M281.5,114.7h3.6M17.3,117.2h2.2M47.4,119.7h2.8M70.0,117.0h2.2M95.0,120.3h1.5M105.8,117.5h2.2M143.8,118.0h3.6M149.8,118.6h1.5M178.5,118.3h2.2M198.8,118.7h2.8M211.7,120.4h3.6M217.9,118.6h2.8M236.4,117.1h1.5M293.0,117.5h1.5M-0.0,123.5h2.2M16.2,121.8h2.2M53.7,123.1h1.5M54.5,123.3h1.5M80.3,124.5h2.2M101.5,121.6h3.6M126.0,124.3h3.6M161.5,124.4h1.5M174.5,123.1h2.2M185.9,121.6h3.6M196.9,121.7h3.6M263.3,122.9h2.8M266.1,121.8h1.5M275.3,122.1h1.5M10.1,128.6h2.2M19.6,127.2h1.5M61.5,126.8h3.6M87.7,127.1h3.6M99.6,127.6h1.5M128.0,125.7h2.2M135.3,126.5h2.2M256.0,129.1h3.6M297.8,125.8h2.8M12.1,131.9h1.5M50.5,131.7h1.5M78.2,130.5h3.6M103.8,130.1h1.5M112.7,131.2h2.2M138.8,133.2h2.2M161.5,132.4h3.6M209.9,132.2h2.8M242.5,130.7h1.5M265.4,131.3h2.2M288.3,131.4h1.5M7.2,135.3h1.5M55.2,134.0h1.5M60.0,137.7h3.6M83.2,134.7h2.8M100.2,137.3h1.5M106.9,137.4h3.6M111.4,137.6h3.6M115.0,136.7h2.8M145.6,137.2h3.6M150.0,135.4h1.5M177.1,136.2h2.8M186.4,135.5h1.5M215.0,136.8h2.8M249.5,137.8h2.2M251.8,136.5h2.2M280.8,137.7h2.8M1.4,139.9h2.2M34.8,138.4h2.8M47.5,139.2h2.2M73.6,139.2h2.8M99.2,141.5h3.6M140.4,142.1h2.2M146.8,138.6h3.6M155.6,139.6h1.5M167.2,140.7h3.6M258.7,139.7h1.5M260.1,141.7h1.5M269.0,140.3h2.2M277.9,140.8h2.2M25.7,143.0h2.2M60.0,143.4h2.8M95.4,143.3h3.6M101.4,143.9h1.5M143.1,145.4h1.5M150.4,143.6h3.6M163.1,146.2h1.5M236.6,146.0h2.2M10.1,147.2h1.5M68.4,149.8h2.2M106.6,147.9h2.2M188.8,150.9h2.8M205.2,147.7h1.5M210.9,148.1h2.2M243.1,149.1h2.2M271.0,147.7h2.2M289.6,147.1h1.5M4.5,152.1h2.8M31.1,151.3h2.2M76.8,153.3h1.5M190.8,151.7h3.6M264.8,154.7h2.2M29.2,157.8h2.2M50.2,157.0h3.6M64.1,155.6h2.2M123.2,156.4h2.2M172.7,156.0h1.5M196.9,157.0h2.2M207.3,155.7h2.8M227.3,157.6h1.5M276.6,156.9h1.5M86.5,161.6h2.2M116.6,163.0h3.6M138.0,163.0h2.8M152.8,162.2h2.8M157.5,162.5h2.2M213.4,161.1h2.2M260.3,160.3h3.6M276.7,161.5h1.5M217.4,167.5h2.8M291.0,167.4h3.6M-5.2,170.6h1.5M27.8,169.7h2.8M80.7,170.4h3.6M166.7,171.4h1.5M192.4,168.7h2.8M256.6,171.9h1.5M267.2,170.0h1.5M285.4,170.6h2.8M290.9,170.9h3.6M298.4,170.2h2.2M6.0,175.6h1.5M60.0,176.1h1.5M82.0,173.0h1.5M110.4,172.9h1.5M137.5,176.3h1.5M150.2,175.8h2.8M2.2,177.4h2.2M113.4,178.0h3.6M192.9,180.6h2.2M252.0,179.8h2.8M300.6,180.4h2.8M29.5,184.7h2.2M44.3,182.2h2.8M130.5,184.8h2.2M145.5,182.9h2.2M175.2,182.7h3.6M240.1,182.6h3.6M263.2,183.2h2.8M57.3,186.7h1.5M129.9,186.2h2.2M294.0,186.7h2.2M95.7,190.4h1.5M128.4,192.1h2.2M177.8,191.7h1.5M183.8,193.7h2.8M239.1,191.9h1.5M243.5,191.0h1.5M25.6,194.4h3.6M104.7,194.9h3.6M170.2,196.2h3.6M-0.7,200.5h2.8M69.6,200.0h2.2M129.5,201.2h1.5M154.6,199.0h3.6M286.1,198.6h2.2M122.7,209.7h2.8M157.1,208.4h1.5M76.6,214.7h2.8M170.2,213.9h2.2M303.3,215.2h2.2M95.6,221.2h1.5M275.7,222.5h2.8M293.8,221.7h3.6"/></g>
<g filter="url(#fline)"><path d="M0,53.4 L302.7,45.4" stroke="#b4b4b4" stroke-width="2.4"/></g>
</svg>
<rect x="257.2" y="866.8" width="20.0" height="35.9" fill="none" stroke="#fbb03b" stroke-width="3.8"/>
<svg x="270.7" y="985.7" width="63.1" height="112.7" viewBox="0 0 64.2 114"><g filter="url(#fins2)"><rect width="64.2" height="114" fill="url(#gid)"/></g></svg>
<rect x="270.7" y="985.7" width="63.05" height="112.65" fill="none" stroke="#fbb03b" stroke-width="3.2"/>
<rect x="291.7" y="1016.7" width="20.8" height="56.4" fill="none" stroke="#ed1e79" stroke-width="5.0"/>
<path d="M62.20,1030.0 h6.4 V1095.75 H118.7 v5.9 H62.20 Z" fill="#fff"/>
<svg x="48.3" y="1186.4" width="302.7" height="293.0" viewBox="0 0 302.7 293.0" overflow="hidden">
<rect width="302.7" height="293.0" filter="url(#fbg)"/>
<g filter="url(#fglow)"><path d="M0,68.9 L302.7,37.3" stroke="#6a6a6a" stroke-width="4.5"/><path d="M0,129.2 L302.7,97.8" stroke="#787878" stroke-width="7.0"/></g><g filter="url(#fline)"><path d="M0,68.9 L302.7,37.3" stroke="#d4d4d4" stroke-width="2.0"/><path d="M0,129.2 L302.7,97.8" stroke="#e4e4e4" stroke-width="3.4"/></g>
<path d="M0,188.2 L302.7,156.5" stroke="#3c3c3c" stroke-width="1.2" opacity="0.8"/>
</svg>
<rect x="203.1" y="1222.7" width="81.4" height="86.8" fill="none" stroke="#fbb03b" stroke-width="3.6"/>
<svg x="224.4" y="1344.6" width="109.2" height="117.6" viewBox="0 0 110.4 118.8"><rect width="110.4" height="118.8" filter="url(#fbg2)"/><g filter="url(#fglow)"><path d="M0,24.1 L110.4,12.2" stroke="#6a6a6a" stroke-width="6.075"/><path d="M0,104.8 L110.4,93.0" stroke="#787878" stroke-width="9.450000000000001"/></g><g filter="url(#fline)"><path d="M0,24.1 L110.4,12.2" stroke="#d4d4d4" stroke-width="2.7"/><path d="M0,104.8 L110.4,93.0" stroke="#e4e4e4" stroke-width="4.59"/></g></svg>
<rect x="224.4" y="1344.6" width="109.2" height="117.6" fill="none" stroke="#fbb03b" stroke-width="3.4"/>
<path d="M233.2,1367.5 L324.9,1357.6 M233.2,1447.4 L324.9,1437.6" stroke="#ed1e79" stroke-width="5.4"/>
<path d="M62.20,1392.9 h6.4 V1459.25 H118.7 v5.9 H62.20 Z" fill="#fff"/>
<text transform="translate(9.2 460.1) scale(1.12 1)" font-size="38.5" text-anchor="start">c</text>
<text transform="translate(7.0 828.3) scale(1.02 1)" font-size="38.5" text-anchor="start">d</text>
<text transform="translate(7.4 1192.7) scale(1.05 1)" font-size="38.5" text-anchor="start">e</text>
<text transform="translate(27.8 697.1) rotate(-90) scale(0.985 1)" font-size="37.6" text-anchor="start">Sample #1</text>
<text transform="translate(27.8 1060.9) rotate(-90) scale(1.013 1)" font-size="37.6" text-anchor="start">Sample #2</text>
<text transform="translate(27.8 1424.4) rotate(-90) scale(1.01 1)" font-size="37.6" text-anchor="start">Sample #3</text>
</svg>
</body></html>
